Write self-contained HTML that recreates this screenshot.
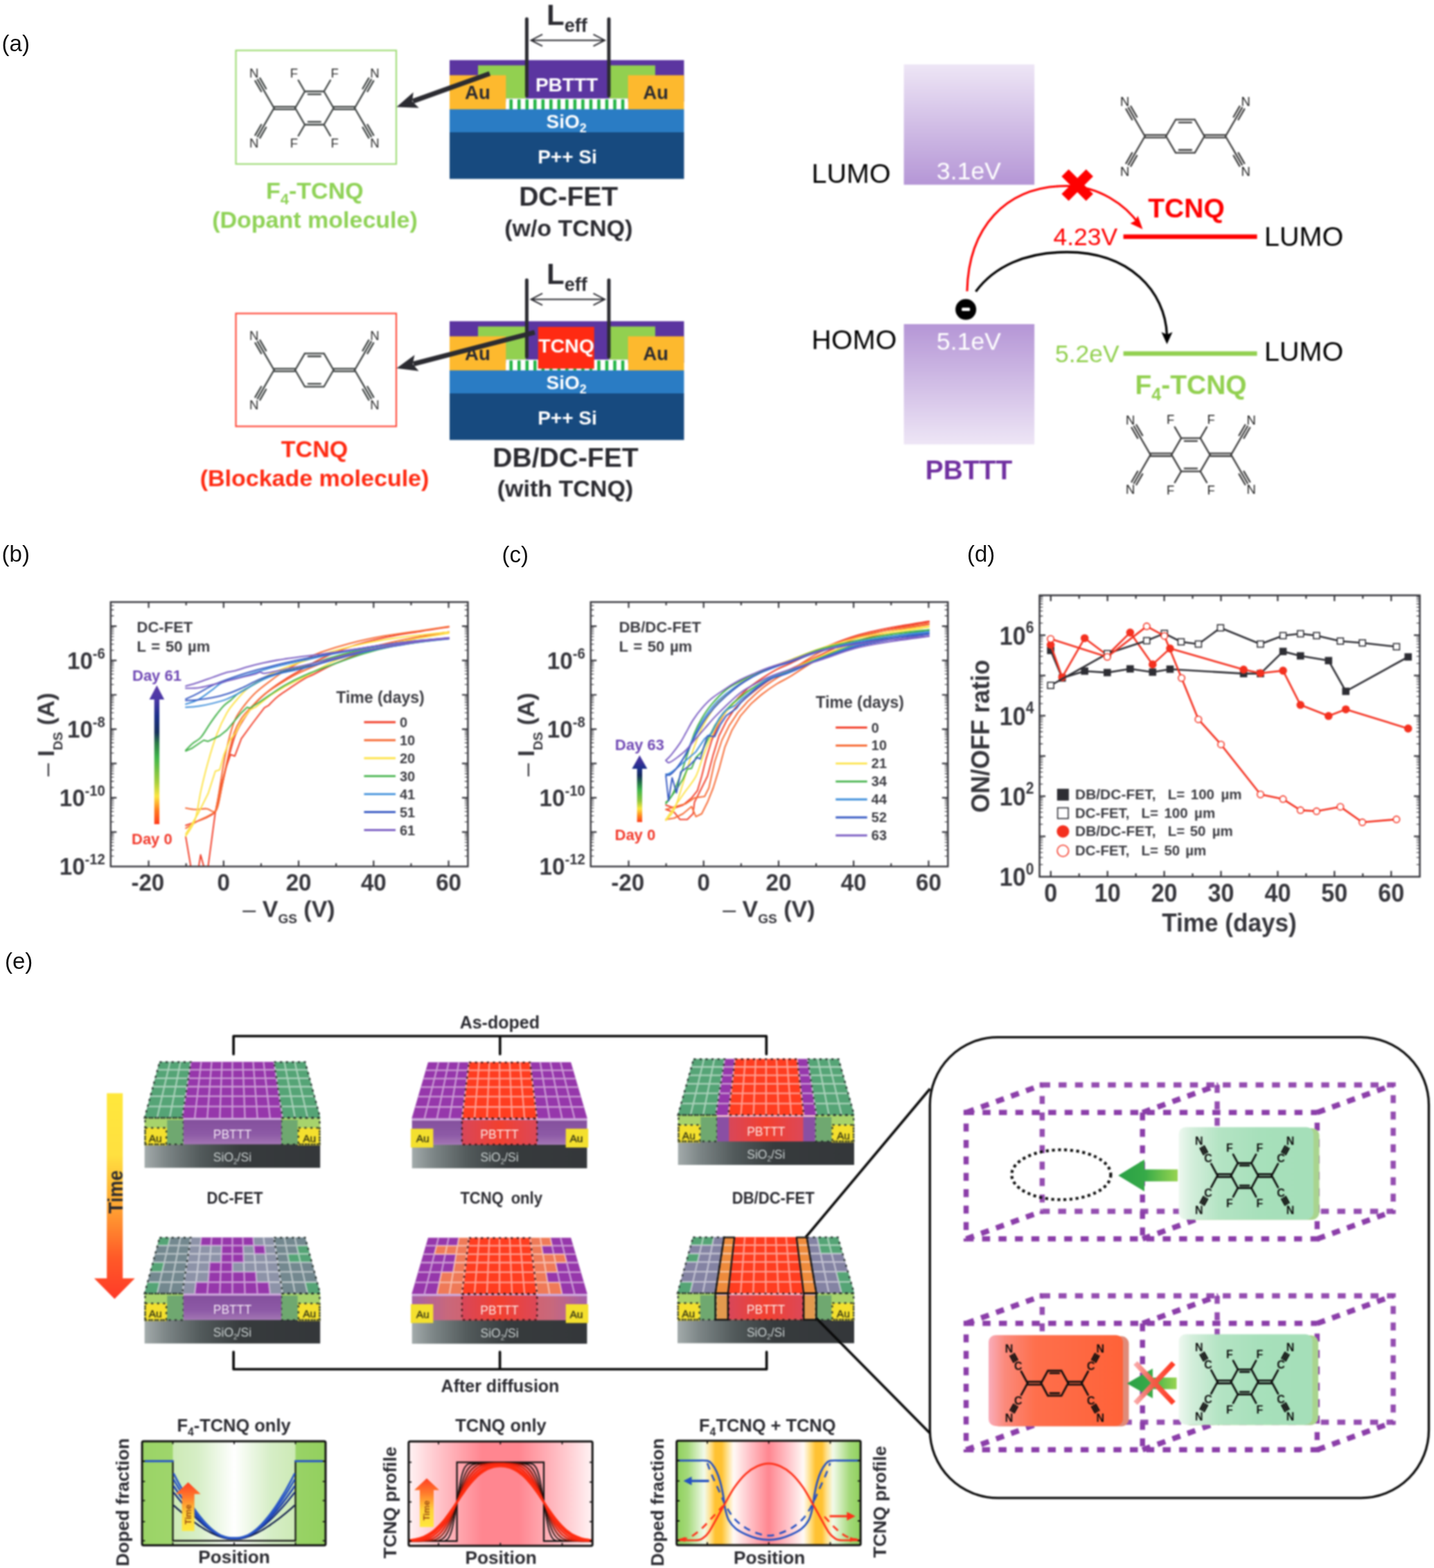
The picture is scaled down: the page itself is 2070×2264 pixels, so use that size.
<!DOCTYPE html>
<html lang="en"><head><meta charset="utf-8"><title>Figure</title>
<style>
html,body{margin:0;padding:0;background:#fff;width:2070px;height:2264px;overflow:hidden}
svg{display:block}
text{font-family:"Liberation Sans", sans-serif}
</style></head><body>
<svg width="2070" height="2264" viewBox="0 0 2070 2264">
<rect width="2070" height="2264" fill="#fff"/>
<defs><filter id="sa" x="0" y="0" width="2070" height="2264" filterUnits="userSpaceOnUse" color-interpolation-filters="sRGB"><feGaussianBlur stdDeviation="0.9"/></filter><filter id="sb" x="0" y="0" width="2070" height="2264" filterUnits="userSpaceOnUse" color-interpolation-filters="sRGB"><feGaussianBlur stdDeviation="0.9"/></filter><filter id="se" x="0" y="0" width="2070" height="2264" filterUnits="userSpaceOnUse" color-interpolation-filters="sRGB"><feGaussianBlur stdDeviation="0.9"/></filter><filter id="sf" x="0" y="0" width="2070" height="2264" filterUnits="userSpaceOnUse" color-interpolation-filters="sRGB"><feGaussianBlur stdDeviation="0.9"/></filter></defs>
<g filter="url(#sa)">
<g id="panel-a">
<rect x="649" y="86.8" width="338.4" height="60" fill="#5b35a0"/>
<rect x="690" y="94.4" width="69" height="48" fill="#92d050"/>
<rect x="879.4" y="94.4" width="66.4" height="48" fill="#92d050"/>
<rect x="649" y="108.6" width="81.3" height="49.4" fill="#fdb92e"/>
<rect x="906.5" y="108.6" width="80.9" height="49.4" fill="#fdb92e"/>
<rect x="730.3" y="142.2" width="176.2" height="16" fill="#ffffff"/>
<path d="M737.7 143.6V158.2M749.22 143.6V158.2M760.74 143.6V158.2M772.26 143.6V158.2M783.78 143.6V158.2M795.3 143.6V158.2M806.82 143.6V158.2M818.34 143.6V158.2M829.86 143.6V158.2M841.38 143.6V158.2M852.9 143.6V158.2M864.42 143.6V158.2M875.94 143.6V158.2M887.46 143.6V158.2M898.98 143.6V158.2" stroke="#22b444" stroke-width="4.5" fill="none"/>
<rect x="649" y="157.8" width="338.4" height="33.4" fill="#2a7cc4"/>
<rect x="649" y="191" width="338.4" height="67.3" fill="#174a7f"/>
<text x="818" y="131.7" font-size="28" fill="#fff" font-weight="bold" text-anchor="middle">PBTTT</text>
<text x="689.4" y="143.2" font-size="27.5" fill="#2b2b31" font-weight="bold" text-anchor="middle">Au</text>
<text x="946.6" y="143.2" font-size="27.5" fill="#2b2b31" font-weight="bold" text-anchor="middle">Au</text>
<text x="788.5" y="185.4" font-size="28" fill="#fff" font-weight="bold">SiO<tspan font-size="18" dy="6">2</tspan></text>
<text x="819" y="235.5" font-size="28" fill="#fff" font-weight="bold" text-anchor="middle">P++ Si</text>
<line x1="760.4" y1="27.5" x2="760.4" y2="138" stroke="#2b2b31" stroke-width="5" stroke-linecap="round"/>
<line x1="878.9" y1="27.5" x2="878.9" y2="138" stroke="#2b2b31" stroke-width="5" stroke-linecap="round"/>
<path d="M766.5 58.2H873M783 49.7L766.5 58.2L783 66.7M856.5 49.7L873 58.2L856.5 66.7" fill="none" stroke="#2b2b31" stroke-width="1.9"/>
<text x="789" y="35.8" font-size="42" fill="#2b2b31" font-weight="bold">L<tspan font-size="27" dy="9.8">eff</tspan></text>
<rect x="649" y="463.8" width="338.4" height="60" fill="#5b35a0"/>
<rect x="690" y="471.4" width="69" height="48" fill="#92d050"/>
<rect x="879.4" y="471.4" width="66.4" height="48" fill="#92d050"/>
<rect x="649" y="485.6" width="81.3" height="49.4" fill="#fdb92e"/>
<rect x="906.5" y="485.6" width="80.9" height="49.4" fill="#fdb92e"/>
<rect x="730.3" y="519.2" width="176.2" height="16" fill="#ffffff"/>
<path d="M737.7 520.6V535.2M749.22 520.6V535.2M760.74 520.6V535.2M772.26 520.6V535.2M783.78 520.6V535.2M795.3 520.6V535.2M806.82 520.6V535.2M818.34 520.6V535.2M829.86 520.6V535.2M841.38 520.6V535.2M852.9 520.6V535.2M864.42 520.6V535.2M875.94 520.6V535.2M887.46 520.6V535.2M898.98 520.6V535.2" stroke="#22b444" stroke-width="4.5" fill="none"/>
<rect x="649" y="534.8" width="338.4" height="33.4" fill="#2a7cc4"/>
<rect x="649" y="568" width="338.4" height="67.3" fill="#174a7f"/>
<rect x="776.7" y="472" width="81" height="60.3" fill="#ff2a12"/>
<text x="817.5" y="508.8" font-size="28.5" fill="#fff" font-weight="bold" text-anchor="middle">TCNQ</text>
<text x="689.4" y="520.2" font-size="27.5" fill="#2b2b31" font-weight="bold" text-anchor="middle">Au</text>
<text x="946.6" y="520.2" font-size="27.5" fill="#2b2b31" font-weight="bold" text-anchor="middle">Au</text>
<text x="788.5" y="562.4" font-size="28" fill="#fff" font-weight="bold">SiO<tspan font-size="18" dy="6">2</tspan></text>
<text x="819" y="612.5" font-size="28" fill="#fff" font-weight="bold" text-anchor="middle">P++ Si</text>
<line x1="760.4" y1="404.5" x2="760.4" y2="515" stroke="#2b2b31" stroke-width="5" stroke-linecap="round"/>
<line x1="878.9" y1="404.5" x2="878.9" y2="515" stroke="#2b2b31" stroke-width="5" stroke-linecap="round"/>
<path d="M766.5 432.2H873M783 423.7L766.5 432.2L783 440.7M856.5 423.7L873 432.2L856.5 440.7" fill="none" stroke="#2b2b31" stroke-width="1.9"/>
<text x="789" y="409.8" font-size="42" fill="#2b2b31" font-weight="bold">L<tspan font-size="27" dy="9.8">eff</tspan></text>
<text x="820.7" y="297.3" font-size="39" fill="#2b2b31" font-weight="bold" text-anchor="middle">DC-FET</text>
<text x="820.7" y="341" font-size="34" fill="#2b2b31" font-weight="bold" text-anchor="middle">(w/o TCNQ)</text>
<text x="816.4" y="673.9" font-size="39" fill="#2b2b31" font-weight="bold" text-anchor="middle">DB/DC-FET</text>
<text x="816" y="717.3" font-size="34" fill="#2b2b31" font-weight="bold" text-anchor="middle">(with TCNQ)</text>
<rect x="340.5" y="72.8" width="231.5" height="164" fill="#fff" stroke="#a0dc78" stroke-width="2.2"/>
<rect x="340.5" y="452.6" width="231.5" height="163" fill="#fff" stroke="#ff4a3a" stroke-width="2.2"/>
<g fill="none" stroke="#3a3f3e" stroke-width="2.3" stroke-linecap="round"><path d="M481.5 156L467.65 179.99M467.65 179.99L439.95 179.99M439.95 179.99L426.1 156M426.1 156L439.95 132.01M439.95 132.01L467.65 132.01M467.65 132.01L481.5 156M444.71 136.21L462.89 136.21M444.71 175.79L462.89 175.79M481.5 154.1L512 154.1M482.5 157.9L512 157.9M512 156L535.75 197.14M530.46 179.99L539.21 195.14M523.54 183.98L532.29 199.13M512 156L535.75 114.86M523.54 128.02L532.29 112.87M530.46 132.01L539.21 116.86M467.65 179.99L476.9 196.01M467.65 132.01L476.9 115.99M426.1 154.1L395.6 154.1M425.1 157.9L395.6 157.9M395.6 156L371.85 197.14M384.06 183.98L375.31 199.13M377.14 179.99L368.39 195.14M395.6 156L371.85 114.86M377.14 132.01L368.39 116.86M384.06 128.02L375.31 112.87M439.95 179.99L430.7 196.01M439.95 132.01L430.7 115.99"/></g><g font-size="18.5" fill="#2a2a2a" text-anchor="middle"><text x="541" y="212.85">N</text><text x="541" y="112.39">N</text><text x="483.15" y="213.46">F</text><text x="483.15" y="111.79">F</text><text x="366.6" y="212.85">N</text><text x="366.6" y="112.39">N</text><text x="424.45" y="213.46">F</text><text x="424.45" y="111.79">F</text></g>
<g fill="none" stroke="#3a3f3e" stroke-width="2.3" stroke-linecap="round"><path d="M481.5 534.3L467.65 558.29M467.65 558.29L439.95 558.29M439.95 558.29L426.1 534.3M426.1 534.3L439.95 510.31M439.95 510.31L467.65 510.31M467.65 510.31L481.5 534.3M444.71 514.51L462.89 514.51M444.71 554.09L462.89 554.09M481.5 532.4L512 532.4M482.5 536.2L512 536.2M512 534.3L535.75 575.44M530.46 558.29L539.21 573.44M523.54 562.28L532.29 577.43M512 534.3L535.75 493.16M523.54 506.32L532.29 491.17M530.46 510.31L539.21 495.16M426.1 532.4L395.6 532.4M425.1 536.2L395.6 536.2M395.6 534.3L371.85 575.44M384.06 562.28L375.31 577.43M377.14 558.29L368.39 573.44M395.6 534.3L371.85 493.16M377.14 510.31L368.39 495.16M384.06 506.32L375.31 491.17"/></g><g font-size="18.5" fill="#2a2a2a" text-anchor="middle"><text x="541" y="591.15">N</text><text x="541" y="490.69">N</text><text x="366.6" y="591.15">N</text><text x="366.6" y="490.69">N</text></g>
<text x="384" y="287" font-size="34" fill="#8fd257" font-weight="bold">F<tspan font-size="22" dy="8">4</tspan><tspan dy="-8">-TCNQ</tspan></text>
<text x="454.5" y="329" font-size="34" fill="#8fd257" font-weight="bold" text-anchor="middle">(Dopant molecule)</text>
<text x="454" y="659.5" font-size="34" fill="#ff2a12" font-weight="bold" text-anchor="middle">TCNQ</text>
<text x="454" y="702" font-size="34" fill="#ff2a12" font-weight="bold" text-anchor="middle">(Blockade molecule)</text>
<line x1="706.9" y1="106.3" x2="596.03" y2="146.15" stroke="#2b2b31" stroke-width="7"/><path d="M572.5 154.6L596.67 133.16L595.09 146.48L604.79 155.75Z" fill="#2b2b31"/>
<line x1="771.9" y1="479.8" x2="596.69" y2="525.49" stroke="#2b2b31" stroke-width="7"/><path d="M572.5 531.8L598.5 512.62L595.72 525.74L604.56 535.84Z" fill="#2b2b31"/>
</g>
<g id="energy">
<defs><linearGradient id="gpu" x1="0" y1="0" x2="0" y2="1"><stop offset="0" stop-color="#eee6f6"/><stop offset="1" stop-color="#b596d6"/></linearGradient><linearGradient id="gpd" x1="0" y1="0" x2="0" y2="1"><stop offset="0" stop-color="#b596d6"/><stop offset="1" stop-color="#eee6f6"/></linearGradient></defs>
<rect x="1304.7" y="93" width="188.5" height="173.7" fill="url(#gpu)"/>
<rect x="1304.7" y="468" width="188.5" height="173.7" fill="url(#gpd)"/>
<text x="1171.5" y="264.2" font-size="39.5" fill="#000">LUMO</text>
<text x="1171.5" y="503.6" font-size="39.5" fill="#000">HOMO</text>
<text x="1398.5" y="258.9" font-size="35.5" fill="#fff" text-anchor="middle">3.1eV</text>
<text x="1398.5" y="504.8" font-size="35.5" fill="#fff" text-anchor="middle">5.1eV</text>
<text x="1398.6" y="692" font-size="39" fill="#7030a0" font-weight="bold" text-anchor="middle">PBTTT</text>
<path d="M1396 420.5C1398 330 1450 268.5 1540 268.5C1585 268.5 1625 295 1645 325" fill="none" stroke="#ff0000" stroke-width="3.1"/>
<path d="M1649.5 331L1631.5 322.5L1638.5 319L1642.5 311.5Z" fill="#ff0000"/>
<path d="M1408.5 421C1435 385 1480 364 1540 364C1630 364 1682 420 1684.5 484" fill="none" stroke="#000" stroke-width="3.3"/>
<path d="M1684.5 497L1676.5 479.5L1684.5 483L1692.5 479.5Z" fill="#000"/>
<g transform="translate(1555.2 267.3) rotate(45)" fill="#ff0000"><rect x="-25" y="-7.2" width="50" height="14.4"/><rect x="-7.2" y="-25" width="14.4" height="50"/></g>
<circle cx="1394.2" cy="446.8" r="15" fill="#000"/><rect x="1388.2" y="444.3" width="12" height="4.6" rx="1.5" fill="#fff"/>
<line x1="1621.6" y1="341.7" x2="1814.6" y2="341.7" stroke="#ff0000" stroke-width="6.5"/>
<line x1="1621.6" y1="510.5" x2="1814.6" y2="510.5" stroke="#92d050" stroke-width="6.5"/>
<text x="1520.5" y="354.2" font-size="35.5" fill="#ff0000">4.23V</text>
<text x="1523" y="523.2" font-size="35.5" fill="#92d050">5.2eV</text>
<text x="1825" y="355.2" font-size="39.5" fill="#000">LUMO</text>
<text x="1825" y="521.2" font-size="39.5" fill="#000">LUMO</text>
<text x="1712.5" y="314.2" font-size="39" fill="#ff0000" font-weight="bold" text-anchor="middle">TCNQ</text>
<text x="1638.5" y="568.5" font-size="39" fill="#92d050" font-weight="bold">F<tspan font-size="25" dy="9">4</tspan><tspan dy="-9">-TCNQ</tspan></text>
<g fill="none" stroke="#3a3a3a" stroke-width="2.3" stroke-linecap="round"><path d="M1738.6 196.7L1724.75 220.69M1724.75 220.69L1697.05 220.69M1697.05 220.69L1683.2 196.7M1683.2 196.7L1697.05 172.71M1697.05 172.71L1724.75 172.71M1724.75 172.71L1738.6 196.7M1701.81 176.91L1719.99 176.91M1701.81 216.49L1719.99 216.49M1738.6 194.8L1769.1 194.8M1739.6 198.6L1769.1 198.6M1769.1 196.7L1792.85 237.84M1787.56 220.69L1796.31 235.84M1780.64 224.68L1789.39 239.83M1769.1 196.7L1792.85 155.56M1780.64 168.72L1789.39 153.57M1787.56 172.71L1796.31 157.56M1683.2 194.8L1652.7 194.8M1682.2 198.6L1652.7 198.6M1652.7 196.7L1628.95 237.84M1641.16 224.68L1632.41 239.83M1634.24 220.69L1625.49 235.84M1652.7 196.7L1628.95 155.56M1634.24 172.71L1625.49 157.56M1641.16 168.72L1632.41 153.57"/></g><g font-size="18.5" fill="#1a1a1a" text-anchor="middle"><text x="1798.1" y="253.55">N</text><text x="1798.1" y="153.09">N</text><text x="1623.7" y="253.55">N</text><text x="1623.7" y="153.09">N</text></g>
<g fill="none" stroke="#3a3a3a" stroke-width="2.3" stroke-linecap="round"><path d="M1746.6 656.6L1732.75 680.59M1732.75 680.59L1705.05 680.59M1705.05 680.59L1691.2 656.6M1691.2 656.6L1705.05 632.61M1705.05 632.61L1732.75 632.61M1732.75 632.61L1746.6 656.6M1709.81 636.81L1727.99 636.81M1709.81 676.39L1727.99 676.39M1746.6 654.7L1777.1 654.7M1747.6 658.5L1777.1 658.5M1777.1 656.6L1800.85 697.74M1795.56 680.59L1804.31 695.74M1788.64 684.58L1797.39 699.73M1777.1 656.6L1800.85 615.46M1788.64 628.62L1797.39 613.47M1795.56 632.61L1804.31 617.46M1732.75 680.59L1742 696.61M1732.75 632.61L1742 616.59M1691.2 654.7L1660.7 654.7M1690.2 658.5L1660.7 658.5M1660.7 656.6L1636.95 697.74M1649.16 684.58L1640.41 699.73M1642.24 680.59L1633.49 695.74M1660.7 656.6L1636.95 615.46M1642.24 632.61L1633.49 617.46M1649.16 628.62L1640.41 613.47M1705.05 680.59L1695.8 696.61M1705.05 632.61L1695.8 616.59"/></g><g font-size="18.5" fill="#1a1a1a" text-anchor="middle"><text x="1806.1" y="713.45">N</text><text x="1806.1" y="612.99">N</text><text x="1748.25" y="714.06">F</text><text x="1748.25" y="612.39">F</text><text x="1631.7" y="713.45">N</text><text x="1631.7" y="612.99">N</text><text x="1689.55" y="714.06">F</text><text x="1689.55" y="612.39">F</text></g>
</g>
</g>
<g filter="url(#sb)">
<g id="plotb">
<rect x="159.8" y="869.3" width="515.6" height="381.8" fill="#fff" stroke="#36363c" stroke-width="2.4"/>
<path d="M214.55 1251.1v-8.5M214.55 869.3v8.5M322.8 1251.1v-8.5M322.8 869.3v8.5M431.05 1251.1v-8.5M431.05 869.3v8.5M539.3 1251.1v-8.5M539.3 869.3v8.5M647.55 1251.1v-8.5M647.55 869.3v8.5M268.68 1251.1v-4.6M268.68 869.3v4.6M376.93 1251.1v-4.6M376.93 869.3v4.6M485.18 1251.1v-4.6M485.18 869.3v4.6M593.42 1251.1v-4.6M593.42 869.3v4.6M159.8 1201.45h8.5M675.4 1201.45h-8.5M159.8 1151.9h8.5M675.4 1151.9h-8.5M159.8 1102.35h8.5M675.4 1102.35h-8.5M159.8 1052.8h8.5M675.4 1052.8h-8.5M159.8 1003.25h8.5M675.4 1003.25h-8.5M159.8 953.7h8.5M675.4 953.7h-8.5M159.8 904.15h8.5M675.4 904.15h-8.5" stroke="#36363c" stroke-width="2.16" fill="none"/>
<path d="M159.8 1236.08h4.6M675.4 1236.08h-4.6M159.8 1227.36h4.6M675.4 1227.36h-4.6M159.8 1221.17h4.6M675.4 1221.17h-4.6M159.8 1216.37h4.6M675.4 1216.37h-4.6M159.8 1212.44h4.6M675.4 1212.44h-4.6M159.8 1209.13h4.6M675.4 1209.13h-4.6M159.8 1206.25h4.6M675.4 1206.25h-4.6M159.8 1203.72h4.6M675.4 1203.72h-4.6M159.8 1186.53h4.6M675.4 1186.53h-4.6M159.8 1177.81h4.6M675.4 1177.81h-4.6M159.8 1171.62h4.6M675.4 1171.62h-4.6M159.8 1166.82h4.6M675.4 1166.82h-4.6M159.8 1162.89h4.6M675.4 1162.89h-4.6M159.8 1159.58h4.6M675.4 1159.58h-4.6M159.8 1156.7h4.6M675.4 1156.7h-4.6M159.8 1154.17h4.6M675.4 1154.17h-4.6M159.8 1136.98h4.6M675.4 1136.98h-4.6M159.8 1128.26h4.6M675.4 1128.26h-4.6M159.8 1122.07h4.6M675.4 1122.07h-4.6M159.8 1117.27h4.6M675.4 1117.27h-4.6M159.8 1113.34h4.6M675.4 1113.34h-4.6M159.8 1110.03h4.6M675.4 1110.03h-4.6M159.8 1107.15h4.6M675.4 1107.15h-4.6M159.8 1104.62h4.6M675.4 1104.62h-4.6M159.8 1087.43h4.6M675.4 1087.43h-4.6M159.8 1078.71h4.6M675.4 1078.71h-4.6M159.8 1072.52h4.6M675.4 1072.52h-4.6M159.8 1067.72h4.6M675.4 1067.72h-4.6M159.8 1063.79h4.6M675.4 1063.79h-4.6M159.8 1060.48h4.6M675.4 1060.48h-4.6M159.8 1057.6h4.6M675.4 1057.6h-4.6M159.8 1055.07h4.6M675.4 1055.07h-4.6M159.8 1037.88h4.6M675.4 1037.88h-4.6M159.8 1029.16h4.6M675.4 1029.16h-4.6M159.8 1022.97h4.6M675.4 1022.97h-4.6M159.8 1018.17h4.6M675.4 1018.17h-4.6M159.8 1014.24h4.6M675.4 1014.24h-4.6M159.8 1010.93h4.6M675.4 1010.93h-4.6M159.8 1008.05h4.6M675.4 1008.05h-4.6M159.8 1005.52h4.6M675.4 1005.52h-4.6M159.8 988.33h4.6M675.4 988.33h-4.6M159.8 979.61h4.6M675.4 979.61h-4.6M159.8 973.42h4.6M675.4 973.42h-4.6M159.8 968.62h4.6M675.4 968.62h-4.6M159.8 964.69h4.6M675.4 964.69h-4.6M159.8 961.38h4.6M675.4 961.38h-4.6M159.8 958.5h4.6M675.4 958.5h-4.6M159.8 955.97h4.6M675.4 955.97h-4.6M159.8 938.78h4.6M675.4 938.78h-4.6M159.8 930.06h4.6M675.4 930.06h-4.6M159.8 923.87h4.6M675.4 923.87h-4.6M159.8 919.07h4.6M675.4 919.07h-4.6M159.8 915.14h4.6M675.4 915.14h-4.6M159.8 911.83h4.6M675.4 911.83h-4.6M159.8 908.95h4.6M675.4 908.95h-4.6M159.8 906.42h4.6M675.4 906.42h-4.6M159.8 889.23h4.6M675.4 889.23h-4.6M159.8 880.51h4.6M675.4 880.51h-4.6M159.8 874.32h4.6M675.4 874.32h-4.6" stroke="#36363c" stroke-width="1.3" fill="none" opacity="0.9"/>
<clipPath id="clipplotb"><rect x="160.8" y="870.3" width="513.6" height="379.8"/></clipPath>
<g clip-path="url(#clipplotb)" fill="none" stroke-width="2.05" stroke-linejoin="round" stroke-linecap="round">
<path d="M268.12 1191.67C271.08 1190.62 280.1 1187.67 285.83 1185.42C291.56 1183.16 297.99 1181.08 302.5 1178.12C307.01 1175.17 309.79 1175.52 312.92 1167.71C316.04 1159.9 318.47 1143.23 321.25 1131.25C324.03 1119.27 326.46 1107.64 329.58 1095.83C332.71 1084.03 336.18 1070.14 340 1060.42C343.82 1050.69 347.64 1045.14 352.5 1037.5C357.36 1029.86 362.92 1021.53 369.17 1014.58C375.42 1007.64 383.06 1001.39 390 995.83C396.94 990.28 402.5 986.53 410.83 981.25C419.17 975.97 431.39 969.1 440 964.17C448.61 959.24 451.81 956.67 462.5 951.67C473.19 946.67 488.89 939.31 504.17 934.17C519.44 929.03 536.81 924.62 554.17 920.83C571.53 917.05 592.71 914.06 608.33 911.46C623.96 908.85 641.32 906.25 647.92 905.21" stroke="#f2412c"/>
<path d="M268.12 1208.33L275.42 1251.04L283.75 1277.08L286.88 1251.04L289.58 1234.38L294.17 1251.04L297.29 1266.67L300.42 1251.04L306.67 1204.17L310.83 1172.92L317.08 1141.67L325.42 1110.42L332.71 1089.58L338.96 1091.67L348.33 1066.67L365 1043.75L381.67 1021.88L387.92 1018.33 M387.92 1018.33C390 1016.32 394.86 1010.69 400.42 1006.25C405.97 1001.81 414.65 996.11 421.25 991.67C427.85 987.22 434.86 982.53 440 979.58C445.14 976.63 444.86 977.5 452.08 973.96C459.31 970.42 471.18 963.72 483.33 958.33C495.49 952.95 511.11 946.18 525 941.67C538.89 937.15 552.78 934.9 566.67 931.25C580.56 927.6 594.79 922.92 608.33 919.79C621.88 916.67 641.32 913.72 647.92 912.5" stroke="#f2412c"/>
<path d="M268.12 1166.67C270.38 1167.01 276.63 1168.58 281.67 1168.75C286.7 1168.92 293.82 1167.19 298.33 1167.71C302.85 1168.23 306.32 1172.74 308.75 1171.88C311.18 1171.01 310.49 1174.48 312.92 1162.5C315.35 1150.52 320.21 1116.67 323.33 1100C326.46 1083.33 328.89 1072.92 331.67 1062.5C334.44 1052.08 336.53 1044.79 340 1037.5C343.47 1030.21 347.64 1025 352.5 1018.75C357.36 1012.5 362.92 1005.9 369.17 1000C375.42 994.1 383.06 988.54 390 983.33C396.94 978.12 402.5 973.89 410.83 968.75C419.17 963.61 431.39 956.94 440 952.5C448.61 948.06 451.81 945.97 462.5 942.08C473.19 938.19 488.89 933.12 504.17 929.17C519.44 925.21 536.81 921.46 554.17 918.33C571.53 915.21 592.71 912.71 608.33 910.42C623.96 908.12 641.32 905.56 647.92 904.58" stroke="#f76b35"/>
<path d="M268.12 1195.83C271.08 1194.1 280.1 1188.54 285.83 1185.42C291.56 1182.29 297.99 1179.86 302.5 1177.08C307.01 1174.31 310.14 1174.65 312.92 1168.75C315.69 1162.85 316.74 1153.12 319.17 1141.67C321.6 1130.21 324.38 1113.89 327.5 1100C330.62 1086.11 334.44 1068.75 337.92 1058.33C341.39 1047.92 344.51 1043.4 348.33 1037.5C352.15 1031.6 355.63 1028.47 360.83 1022.92C366.04 1017.36 372.99 1009.72 379.58 1004.17C386.18 998.61 393.47 994.1 400.42 989.58C407.36 985.07 414.65 980.73 421.25 977.08C427.85 973.44 429.65 972.22 440 967.71C450.35 963.19 469.17 955.03 483.33 950C497.5 944.97 511.11 941.32 525 937.5C538.89 933.68 552.78 930.21 566.67 927.08C580.56 923.96 594.79 921.18 608.33 918.75C621.88 916.32 641.32 913.54 647.92 912.5" stroke="#f76b35"/>
<path d="M268.12 1207.29C270.38 1203.3 278.02 1194.27 281.67 1183.33C285.31 1172.4 286.88 1155.56 290 1141.67C293.12 1127.78 296.6 1113.54 300.42 1100C304.24 1086.46 308.4 1072.22 312.92 1060.42C317.43 1048.61 322.99 1037.15 327.5 1029.17C332.01 1021.18 335.14 1018.23 340 1012.5C344.86 1006.77 350.07 1000.35 356.67 994.79C363.26 989.24 372.29 983.51 379.58 979.17C386.88 974.83 393.47 971.88 400.42 968.75C407.36 965.62 414.65 962.85 421.25 960.42C427.85 957.99 429.65 957.64 440 954.17C450.35 950.69 469.17 943.75 483.33 939.58C497.5 935.42 511.11 932.12 525 929.17C538.89 926.22 552.78 923.96 566.67 921.88C580.56 919.79 594.79 918.23 608.33 916.67C621.88 915.1 641.32 913.19 647.92 912.5" stroke="#fde34a"/>
<path d="M268.12 1204.17L285.83 1175L300.42 1145.83L310.83 1113.54L317.08 1111.46L323.33 1089.58L331.67 1068.75L340 1058.33L348.33 1041.67L360.83 1025L369.17 1020.83L390 1004.17 M390 1004.17C393.47 1002.08 402.5 996.18 410.83 991.67C419.17 987.15 427.92 983.33 440 977.08C452.08 970.83 469.17 960.59 483.33 954.17C497.5 947.74 511.11 942.71 525 938.54C538.89 934.38 552.78 932.12 566.67 929.17C580.56 926.22 594.79 923.33 608.33 920.83C621.88 918.33 641.32 915.28 647.92 914.17" stroke="#fde34a"/>
<path d="M268.12 1083.33C269.69 1081.77 273.85 1077.08 277.5 1073.96C281.15 1070.83 285.83 1069.27 290 1064.58C294.17 1059.9 298.68 1051.39 302.5 1045.83C306.32 1040.28 309.44 1035.76 312.92 1031.25C316.39 1026.74 319.86 1022.22 323.33 1018.75C326.81 1015.28 330.28 1013.37 333.75 1010.42C337.22 1007.47 340.35 1003.82 344.17 1001.04C347.99 998.26 350.76 997.05 356.67 993.75C362.57 990.45 372.29 984.9 379.58 981.25C386.88 977.6 393.47 974.48 400.42 971.88C407.36 969.27 414.65 967.36 421.25 965.62C427.85 963.89 429.65 964.41 440 961.46C450.35 958.51 469.17 951.91 483.33 947.92C497.5 943.92 511.11 940.45 525 937.5C538.89 934.55 552.78 932.29 566.67 930.21C580.56 928.12 594.79 926.49 608.33 925C621.88 923.51 641.32 921.88 647.92 921.25" stroke="#45b34c"/>
<path d="M268.12 1084.38L277.5 1080.21L294.17 1068.75L300.42 1070.42L317.08 1062.5L327.5 1054.17L337.92 1041.67L348.33 1029.17L356.67 1021.25L360.83 1022.5L373.33 1014.58L390 1003.12 M390 1003.12C393.47 1000.87 402.5 994.27 410.83 989.58C419.17 984.9 427.92 980.21 440 975C452.08 969.79 469.17 963.54 483.33 958.33C497.5 953.12 511.11 947.92 525 943.75C538.89 939.58 552.78 936.18 566.67 933.33C580.56 930.49 594.79 928.58 608.33 926.67C621.88 924.76 641.32 922.67 647.92 921.88" stroke="#45b34c"/>
<path d="M268.12 1016.67C271.08 1015.63 279.41 1013.89 285.83 1010.42C292.26 1006.94 301.46 999.65 306.67 995.83C311.88 992.01 313.61 989.58 317.08 987.5C320.56 985.42 322.29 985.07 327.5 983.33C332.71 981.6 341.39 979.17 348.33 977.08C355.28 975 362.22 972.92 369.17 970.83C376.11 968.75 383.06 966.49 390 964.58C396.94 962.67 402.5 961.28 410.83 959.38C419.17 957.47 427.92 955.73 440 953.12C452.08 950.52 469.17 946.53 483.33 943.75C497.5 940.97 511.11 938.72 525 936.46C538.89 934.2 552.78 932.05 566.67 930.21C580.56 928.37 594.79 926.81 608.33 925.42C621.88 924.03 641.32 922.47 647.92 921.88" stroke="#3f8fdb"/>
<path d="M268.12 1021.25C271.08 1021.01 279.41 1020.73 285.83 1019.79C292.26 1018.85 299.72 1017.36 306.67 1015.62C313.61 1013.89 320.56 1012.15 327.5 1009.38C334.44 1006.6 341.39 1002.78 348.33 998.96C355.28 995.14 362.22 990.1 369.17 986.46C376.11 982.81 383.06 979.69 390 977.08C396.94 974.48 402.5 972.92 410.83 970.83C419.17 968.75 427.92 967.71 440 964.58C452.08 961.46 469.17 955.9 483.33 952.08C497.5 948.26 511.11 944.79 525 941.67C538.89 938.54 552.78 935.83 566.67 933.33C580.56 930.83 594.79 928.47 608.33 926.67C621.88 924.86 641.32 923.19 647.92 922.5" stroke="#3f8fdb"/>
<path d="M268.12 1009.38C271.08 1007.99 279.41 1004.34 285.83 1001.04C292.26 997.74 299.72 992.88 306.67 989.58C313.61 986.28 320.56 983.85 327.5 981.25C334.44 978.65 341.39 976.22 348.33 973.96C355.28 971.7 362.22 969.62 369.17 967.71C376.11 965.8 383.06 964.24 390 962.5C396.94 960.76 402.5 959.2 410.83 957.29C419.17 955.38 427.92 953.47 440 951.04C452.08 948.61 469.17 945.31 483.33 942.71C497.5 940.1 511.11 937.67 525 935.42C538.89 933.16 552.78 930.97 566.67 929.17C580.56 927.36 594.79 925.9 608.33 924.58C621.88 923.26 641.32 921.81 647.92 921.25" stroke="#3a5cc4"/>
<path d="M268.12 1011.46C271.08 1011.28 279.41 1011.11 285.83 1010.42C292.26 1009.72 299.72 1008.68 306.67 1007.29C313.61 1005.9 320.56 1004.34 327.5 1002.08C334.44 999.83 341.39 996.88 348.33 993.75C355.28 990.62 362.22 986.46 369.17 983.33C376.11 980.21 383.06 977.26 390 975C396.94 972.74 402.5 971.7 410.83 969.79C419.17 967.88 427.92 966.49 440 963.54C452.08 960.59 469.17 955.9 483.33 952.08C497.5 948.26 511.11 943.82 525 940.62C538.89 937.43 552.78 935.31 566.67 932.92C580.56 930.52 594.79 928.06 608.33 926.25C621.88 924.44 641.32 922.78 647.92 922.08" stroke="#3a5cc4"/>
<path d="M268.12 990.62C271.08 989.76 279.41 987.5 285.83 985.42C292.26 983.33 299.72 980.56 306.67 978.12C313.61 975.69 322.29 972.4 327.5 970.83C332.71 969.27 332.71 970.14 337.92 968.75C343.12 967.36 351.81 964.41 358.75 962.5C365.69 960.59 372.64 958.85 379.58 957.29C386.53 955.73 393.47 954.34 400.42 953.12C407.36 951.91 414.65 950.94 421.25 950C427.85 949.06 429.65 948.89 440 947.5C450.35 946.11 469.17 943.68 483.33 941.67C497.5 939.65 511.11 937.5 525 935.42C538.89 933.33 552.78 930.97 566.67 929.17C580.56 927.36 594.79 925.97 608.33 924.58C621.88 923.19 641.32 921.46 647.92 920.83" stroke="#7d60c4"/>
<path d="M268.12 993.75C271.08 993.68 279.41 994.2 285.83 993.33C292.26 992.47 299.72 990.21 306.67 988.54C313.61 986.88 320.56 985.07 327.5 983.33C334.44 981.6 341.39 979.86 348.33 978.12C355.28 976.39 364.65 974.2 369.17 972.92C373.68 971.63 373.33 970.52 375.42 970.42C377.5 970.31 377.5 972.57 381.67 972.29C385.83 972.01 393.82 970.03 400.42 968.75C407.01 967.47 414.65 965.97 421.25 964.58C427.85 963.19 429.65 962.85 440 960.42C450.35 957.99 469.17 953.47 483.33 950C497.5 946.53 511.11 942.53 525 939.58C538.89 936.63 552.78 934.55 566.67 932.29C580.56 930.03 594.79 927.78 608.33 926.04C621.88 924.31 641.32 922.57 647.92 921.88" stroke="#7d60c4"/>
</g>
<text transform="translate(151.8 966) scale(0.92 1)" font-size="36" font-weight="bold" fill="#36363c" text-anchor="end">10<tspan font-size="22" dy="-15.5">-6</tspan></text>
<text transform="translate(151.8 1065.1) scale(0.92 1)" font-size="36" font-weight="bold" fill="#36363c" text-anchor="end">10<tspan font-size="22" dy="-15.5">-8</tspan></text>
<text transform="translate(151.8 1164.2) scale(0.92 1)" font-size="36" font-weight="bold" fill="#36363c" text-anchor="end">10<tspan font-size="22" dy="-15.5">-10</tspan></text>
<text transform="translate(151.8 1263.3) scale(0.92 1)" font-size="36" font-weight="bold" fill="#36363c" text-anchor="end">10<tspan font-size="22" dy="-15.5">-12</tspan></text>
<text x="0" y="0" font-size="36" fill="#36363c" font-weight="bold" text-anchor="middle" transform="translate(213.35 1286) scale(0.92 1)">-20</text>
<text x="0" y="0" font-size="36" fill="#36363c" font-weight="bold" text-anchor="middle" transform="translate(322.8 1286) scale(0.92 1)">0</text>
<text x="0" y="0" font-size="36" fill="#36363c" font-weight="bold" text-anchor="middle" transform="translate(431.05 1286) scale(0.92 1)">20</text>
<text x="0" y="0" font-size="36" fill="#36363c" font-weight="bold" text-anchor="middle" transform="translate(539.3 1286) scale(0.92 1)">40</text>
<text x="0" y="0" font-size="36" fill="#36363c" font-weight="bold" text-anchor="middle" transform="translate(647.55 1286) scale(0.92 1)">60</text>
<text transform="translate(77.6 1060.5) rotate(-90)" font-size="34" font-weight="bold" fill="#36363c" text-anchor="middle"><tspan font-weight="normal">&#8211;</tspan> I<tspan font-size="19.04" dy="12">DS</tspan><tspan dy="-12"> (A)</tspan></text>
<text x="417" y="1324" font-size="34" font-weight="bold" fill="#36363c" text-anchor="middle"><tspan font-weight="normal">&#8211;</tspan> V<tspan font-size="19.04" dy="9">GS</tspan><tspan dy="-9"> (V)</tspan></text>
<text x="197.6" y="912.6" font-size="22" fill="#3c3c42" font-weight="bold">DC-FET</text>
<text x="197.6" y="940.7" font-size="22" font-weight="bold" fill="#3c3c42" word-spacing="1.6">L = 50 &#181;m</text>
<text x="191" y="983.3" font-size="22" fill="#6f48b4" font-weight="bold">Day 61</text>
<text x="190" y="1219.3" font-size="22" fill="#f23a2c" font-weight="bold">Day 0</text>
<defs><linearGradient id="garb" gradientUnits="userSpaceOnUse" x1="0" y1="1190" x2="0" y2="989.5"><stop offset="0" stop-color="#ff3a1c"/><stop offset="0.1" stop-color="#ff7a1e"/><stop offset="0.2" stop-color="#fde640"/><stop offset="0.3" stop-color="#a8cf3c"/><stop offset="0.48" stop-color="#3fb54a"/><stop offset="0.58" stop-color="#2b7d46"/><stop offset="0.66" stop-color="#15305c"/><stop offset="0.78" stop-color="#1b2f8a"/><stop offset="0.9" stop-color="#4a37a6"/><stop offset="1" stop-color="#5b3aa8"/></linearGradient></defs><path d="M222.7 1190H230.1V1010H237.2L226.4 989.5L215.6 1010H222.7Z" fill="url(#garb)"/>
<text x="485.3" y="1014.5" font-size="23" fill="#3c3c42" font-weight="bold">Time (days)</text>
<line x1="525.5" y1="1042.8" x2="571" y2="1042.8" stroke="#f2412c" stroke-width="2.9"/>
<text x="577" y="1049.8" font-size="20" fill="#3c3c42" font-weight="bold">0</text>
<line x1="525.5" y1="1068.75" x2="571" y2="1068.75" stroke="#f76b35" stroke-width="2.9"/>
<text x="577" y="1075.75" font-size="20" fill="#3c3c42" font-weight="bold">10</text>
<line x1="525.5" y1="1094.7" x2="571" y2="1094.7" stroke="#fde34a" stroke-width="2.9"/>
<text x="577" y="1101.7" font-size="20" fill="#3c3c42" font-weight="bold">20</text>
<line x1="525.5" y1="1120.65" x2="571" y2="1120.65" stroke="#45b34c" stroke-width="2.9"/>
<text x="577" y="1127.65" font-size="20" fill="#3c3c42" font-weight="bold">30</text>
<line x1="525.5" y1="1146.6" x2="571" y2="1146.6" stroke="#3f8fdb" stroke-width="2.9"/>
<text x="577" y="1153.6" font-size="20" fill="#3c3c42" font-weight="bold">41</text>
<line x1="525.5" y1="1172.55" x2="571" y2="1172.55" stroke="#3a5cc4" stroke-width="2.9"/>
<text x="577" y="1179.55" font-size="20" fill="#3c3c42" font-weight="bold">51</text>
<line x1="525.5" y1="1198.5" x2="571" y2="1198.5" stroke="#7d60c4" stroke-width="2.9"/>
<text x="577" y="1205.5" font-size="20" fill="#3c3c42" font-weight="bold">61</text>
</g>
<g id="plotc">
<rect x="852.7" y="869.3" width="515.6" height="381.8" fill="#fff" stroke="#36363c" stroke-width="2.4"/>
<path d="M907.45 1251.1v-8.5M907.45 869.3v8.5M1015.7 1251.1v-8.5M1015.7 869.3v8.5M1123.95 1251.1v-8.5M1123.95 869.3v8.5M1232.2 1251.1v-8.5M1232.2 869.3v8.5M1340.45 1251.1v-8.5M1340.45 869.3v8.5M961.58 1251.1v-4.6M961.58 869.3v4.6M1069.83 1251.1v-4.6M1069.83 869.3v4.6M1178.08 1251.1v-4.6M1178.08 869.3v4.6M1286.33 1251.1v-4.6M1286.33 869.3v4.6M852.7 1201.45h8.5M1368.3 1201.45h-8.5M852.7 1151.9h8.5M1368.3 1151.9h-8.5M852.7 1102.35h8.5M1368.3 1102.35h-8.5M852.7 1052.8h8.5M1368.3 1052.8h-8.5M852.7 1003.25h8.5M1368.3 1003.25h-8.5M852.7 953.7h8.5M1368.3 953.7h-8.5M852.7 904.15h8.5M1368.3 904.15h-8.5" stroke="#36363c" stroke-width="2.16" fill="none"/>
<path d="M852.7 1236.08h4.6M1368.3 1236.08h-4.6M852.7 1227.36h4.6M1368.3 1227.36h-4.6M852.7 1221.17h4.6M1368.3 1221.17h-4.6M852.7 1216.37h4.6M1368.3 1216.37h-4.6M852.7 1212.44h4.6M1368.3 1212.44h-4.6M852.7 1209.13h4.6M1368.3 1209.13h-4.6M852.7 1206.25h4.6M1368.3 1206.25h-4.6M852.7 1203.72h4.6M1368.3 1203.72h-4.6M852.7 1186.53h4.6M1368.3 1186.53h-4.6M852.7 1177.81h4.6M1368.3 1177.81h-4.6M852.7 1171.62h4.6M1368.3 1171.62h-4.6M852.7 1166.82h4.6M1368.3 1166.82h-4.6M852.7 1162.89h4.6M1368.3 1162.89h-4.6M852.7 1159.58h4.6M1368.3 1159.58h-4.6M852.7 1156.7h4.6M1368.3 1156.7h-4.6M852.7 1154.17h4.6M1368.3 1154.17h-4.6M852.7 1136.98h4.6M1368.3 1136.98h-4.6M852.7 1128.26h4.6M1368.3 1128.26h-4.6M852.7 1122.07h4.6M1368.3 1122.07h-4.6M852.7 1117.27h4.6M1368.3 1117.27h-4.6M852.7 1113.34h4.6M1368.3 1113.34h-4.6M852.7 1110.03h4.6M1368.3 1110.03h-4.6M852.7 1107.15h4.6M1368.3 1107.15h-4.6M852.7 1104.62h4.6M1368.3 1104.62h-4.6M852.7 1087.43h4.6M1368.3 1087.43h-4.6M852.7 1078.71h4.6M1368.3 1078.71h-4.6M852.7 1072.52h4.6M1368.3 1072.52h-4.6M852.7 1067.72h4.6M1368.3 1067.72h-4.6M852.7 1063.79h4.6M1368.3 1063.79h-4.6M852.7 1060.48h4.6M1368.3 1060.48h-4.6M852.7 1057.6h4.6M1368.3 1057.6h-4.6M852.7 1055.07h4.6M1368.3 1055.07h-4.6M852.7 1037.88h4.6M1368.3 1037.88h-4.6M852.7 1029.16h4.6M1368.3 1029.16h-4.6M852.7 1022.97h4.6M1368.3 1022.97h-4.6M852.7 1018.17h4.6M1368.3 1018.17h-4.6M852.7 1014.24h4.6M1368.3 1014.24h-4.6M852.7 1010.93h4.6M1368.3 1010.93h-4.6M852.7 1008.05h4.6M1368.3 1008.05h-4.6M852.7 1005.52h4.6M1368.3 1005.52h-4.6M852.7 988.33h4.6M1368.3 988.33h-4.6M852.7 979.61h4.6M1368.3 979.61h-4.6M852.7 973.42h4.6M1368.3 973.42h-4.6M852.7 968.62h4.6M1368.3 968.62h-4.6M852.7 964.69h4.6M1368.3 964.69h-4.6M852.7 961.38h4.6M1368.3 961.38h-4.6M852.7 958.5h4.6M1368.3 958.5h-4.6M852.7 955.97h4.6M1368.3 955.97h-4.6M852.7 938.78h4.6M1368.3 938.78h-4.6M852.7 930.06h4.6M1368.3 930.06h-4.6M852.7 923.87h4.6M1368.3 923.87h-4.6M852.7 919.07h4.6M1368.3 919.07h-4.6M852.7 915.14h4.6M1368.3 915.14h-4.6M852.7 911.83h4.6M1368.3 911.83h-4.6M852.7 908.95h4.6M1368.3 908.95h-4.6M852.7 906.42h4.6M1368.3 906.42h-4.6M852.7 889.23h4.6M1368.3 889.23h-4.6M852.7 880.51h4.6M1368.3 880.51h-4.6M852.7 874.32h4.6M1368.3 874.32h-4.6" stroke="#36363c" stroke-width="1.3" fill="none" opacity="0.9"/>
<clipPath id="clipplotc"><rect x="853.7" y="870.3" width="513.6" height="379.8"/></clipPath>
<g clip-path="url(#clipplotc)" fill="none" stroke-width="2.05" stroke-linejoin="round" stroke-linecap="round">
<path d="M961.25 1162.5L973.33 1166.67L985.83 1162.5L998.33 1152.08L1006.67 1141.67L1012.92 1120.83L1019.17 1095.83L1027.5 1068.75L1037.92 1043.75L1048.33 1027.08L1065 1008.33L1079.58 993.75 M1079.58 993.75C1083.06 991.32 1093.47 983.68 1100.42 979.17C1107.36 974.65 1114.65 970.14 1121.25 966.67C1127.85 963.19 1129.58 963.19 1140 958.33C1150.42 953.47 1167.78 944.27 1183.75 937.5C1199.72 930.73 1218.47 922.99 1235.83 917.71C1253.19 912.43 1270.38 909.27 1287.92 905.83C1305.45 902.4 1332.19 898.54 1341.04 897.08" stroke="#f2412c"/>
<path d="M961.25 1168.75L973.33 1172.92L981.67 1183.33L992.08 1183.33L1000.42 1175L1002.5 1158.33L1010.83 1141.67L1021.25 1120.83L1029.58 1089.58L1037.92 1062.5L1048.33 1041.67L1060.83 1022.92L1075.42 1008.33L1094.17 993.75 M1094.17 993.75C1097.64 991.32 1107.36 983.68 1115 979.17C1122.64 974.65 1128.54 972.22 1140 966.67C1151.46 961.11 1167.78 953.3 1183.75 945.83C1199.72 938.37 1218.47 928.19 1235.83 921.88C1253.19 915.56 1270.38 911.91 1287.92 907.92C1305.45 903.92 1332.19 899.58 1341.04 897.92" stroke="#f2412c"/>
<path d="M961.25 1168.75L975.42 1164.58L990 1160.42L1002.5 1152.08L1017.08 1150L1023.33 1137.5L1031.67 1100L1042.08 1068.75L1052.5 1047.92L1065 1029.17L1079.58 1012.5 M1079.58 1012.5C1083.06 1009.38 1093.47 999.31 1100.42 993.75C1107.36 988.19 1114.65 983.33 1121.25 979.17C1127.85 975 1129.58 975 1140 968.75C1150.42 962.5 1167.78 949.83 1183.75 941.67C1199.72 933.51 1218.47 925.28 1235.83 919.79C1253.19 914.31 1270.38 911.94 1287.92 908.75C1305.45 905.56 1332.19 901.98 1341.04 900.62" stroke="#f76b35"/>
<path d="M961.25 1183.33L973.33 1181.25L985.83 1175L998.33 1164.58L1004.58 1179.17L1012.92 1175L1021.25 1158.33L1029.58 1137.5L1037.92 1110.42L1046.25 1079.17L1056.67 1054.17L1069.17 1033.33L1083.75 1016.67 M1083.75 1016.67C1086.53 1014.24 1094.17 1006.94 1100.42 1002.08C1106.67 997.22 1114.65 991.67 1121.25 987.5C1127.85 983.33 1129.58 983.33 1140 977.08C1150.42 970.83 1167.78 958.51 1183.75 950C1199.72 941.49 1218.47 932.47 1235.83 926.04C1253.19 919.62 1270.38 915.56 1287.92 911.46C1305.45 907.36 1332.19 903.12 1341.04 901.46" stroke="#f76b35"/>
<path d="M961.25 1184.38C963.26 1181.77 969.24 1177.6 973.33 1168.75C977.43 1159.9 981.67 1144.44 985.83 1131.25C990 1118.06 994.17 1102.08 998.33 1089.58C1002.5 1077.08 1006.67 1065.62 1010.83 1056.25C1015 1046.88 1018.82 1040.62 1023.33 1033.33C1027.85 1026.04 1032.01 1019.1 1037.92 1012.5C1043.82 1005.9 1050.07 1000.35 1058.75 993.75C1067.43 987.15 1076.46 979.69 1090 972.92C1103.54 966.15 1124.38 959.2 1140 953.12C1155.62 947.05 1167.78 941.67 1183.75 936.46C1199.72 931.25 1218.47 925.97 1235.83 921.88C1253.19 917.78 1270.38 914.83 1287.92 911.88C1305.45 908.92 1332.19 905.45 1341.04 904.17" stroke="#fde34a"/>
<path d="M961.25 1183.33C963.61 1179.86 970.63 1169.44 975.42 1162.5C980.21 1155.56 985.14 1148.61 990 1141.67C994.86 1134.72 1000.42 1129.17 1004.58 1120.83C1008.75 1112.5 1011.53 1100.69 1015 1091.67C1018.47 1082.64 1021.6 1075 1025.42 1066.67C1029.24 1058.33 1033.4 1048.96 1037.92 1041.67C1042.43 1034.38 1047.29 1028.82 1052.5 1022.92C1057.71 1017.01 1062.92 1011.46 1069.17 1006.25C1075.42 1001.04 1083.06 996.18 1090 991.67C1096.94 987.15 1102.5 983.16 1110.83 979.17C1119.17 975.17 1127.85 972.92 1140 967.71C1152.15 962.5 1167.78 954.69 1183.75 947.92C1199.72 941.15 1218.47 932.64 1235.83 927.08C1253.19 921.53 1270.38 918.23 1287.92 914.58C1305.45 910.94 1332.19 906.77 1341.04 905.21" stroke="#fde34a"/>
<path d="M961.25 1158.33C962.57 1156.94 965.76 1156.25 969.17 1150C972.57 1143.75 977.85 1130.9 981.67 1120.83C985.49 1110.76 988.61 1100 992.08 1089.58C995.56 1079.17 999.03 1067.01 1002.5 1058.33C1005.97 1049.65 1008.75 1044.44 1012.92 1037.5C1017.08 1030.56 1021.6 1023.61 1027.5 1016.67C1033.4 1009.72 1041.39 1001.39 1048.33 995.83C1055.28 990.28 1062.22 987.15 1069.17 983.33C1076.11 979.51 1078.19 977.78 1090 972.92C1101.81 968.06 1124.38 960.07 1140 954.17C1155.62 948.26 1167.78 942.36 1183.75 937.5C1199.72 932.64 1218.47 928.65 1235.83 925C1253.19 921.35 1270.38 918.26 1287.92 915.62C1305.45 912.99 1332.19 910.24 1341.04 909.17" stroke="#45b34c"/>
<path d="M961.25 1160.42L975.42 1141.67L985.83 1125L992.08 1110.42L998.33 1109.38L1004.58 1093.75L1012.92 1085.42L1021.25 1068.75L1031.67 1047.92L1044.17 1029.17L1058.75 1014.58L1079.58 997.92 M1079.58 997.92C1084.79 994.79 1100.76 984.03 1110.83 979.17C1120.9 974.31 1127.85 973.61 1140 968.75C1152.15 963.89 1167.78 956.42 1183.75 950C1199.72 943.58 1218.47 935.49 1235.83 930.21C1253.19 924.93 1270.38 921.74 1287.92 918.33C1305.45 914.93 1332.19 911.22 1341.04 909.79" stroke="#45b34c"/>
<path d="M961.25 1118.75C963.26 1117.71 969.24 1116.32 973.33 1112.5C977.43 1108.68 981.67 1102.78 985.83 1095.83C990 1088.89 994.17 1079.17 998.33 1070.83C1002.5 1062.5 1006.67 1053.12 1010.83 1045.83C1015 1038.54 1018.82 1032.99 1023.33 1027.08C1027.85 1021.18 1032.01 1015.97 1037.92 1010.42C1043.82 1004.86 1050.07 999.65 1058.75 993.75C1067.43 987.85 1076.46 981.42 1090 975C1103.54 968.58 1124.38 961.11 1140 955.21C1155.62 949.31 1167.78 944.27 1183.75 939.58C1199.72 934.9 1218.47 930.62 1235.83 927.08C1253.19 923.54 1270.38 920.87 1287.92 918.33C1305.45 915.8 1332.19 912.95 1341.04 911.88" stroke="#3f8fdb"/>
<path d="M961.25 1120.83L975.42 1110.42L990 1097.92L1004.58 1085.42L1017.08 1066.67L1027.5 1058.33L1037.92 1037.5L1048.33 1025L1060.83 1018.75L1069.17 1010.42L1090 993.75 M1090 993.75C1093.47 991.32 1102.5 983.16 1110.83 979.17C1119.17 975.17 1127.85 974.48 1140 969.79C1152.15 965.1 1167.78 957.29 1183.75 951.04C1199.72 944.79 1218.47 937.33 1235.83 932.29C1253.19 927.26 1270.38 924.13 1287.92 920.83C1305.45 917.53 1332.19 913.89 1341.04 912.5" stroke="#3f8fdb"/>
<path d="M961.25 1117.71C962.22 1117.88 964.38 1120.31 967.08 1118.75C969.79 1117.19 973.68 1113.19 977.5 1108.33C981.32 1103.47 986.18 1096.18 990 1089.58C993.82 1082.99 996.94 1075.35 1000.42 1068.75C1003.89 1062.15 1007.01 1056.25 1010.83 1050C1014.65 1043.75 1018.82 1037.15 1023.33 1031.25C1027.85 1025.35 1032.01 1020.49 1037.92 1014.58C1043.82 1008.68 1051.81 1001.39 1058.75 995.83C1065.69 990.28 1070.9 986.28 1079.58 981.25C1088.26 976.22 1100.76 969.79 1110.83 965.62C1120.9 961.46 1127.85 960.42 1140 956.25C1152.15 952.08 1167.78 945.21 1183.75 940.62C1199.72 936.04 1218.47 932.05 1235.83 928.75C1253.19 925.45 1270.38 923.19 1287.92 920.83C1305.45 918.47 1332.19 915.62 1341.04 914.58" stroke="#3a5cc4"/>
<path d="M961.25 1120.83L965 1156.25L970.21 1122.92L976.46 1144.79L982.71 1114.58L994.17 1106.25L1006.67 1093.75L1010.83 1095.83L1017.08 1075L1021.25 1062.5L1031.67 1063.54L1040 1045.83L1048.33 1033.33L1062.92 1022.92L1069.17 1014.58L1090 995.83 M1090 995.83C1093.47 993.4 1102.5 985.42 1110.83 981.25C1119.17 977.08 1127.85 975.69 1140 970.83C1152.15 965.97 1167.78 958.26 1183.75 952.08C1199.72 945.9 1218.47 938.54 1235.83 933.75C1253.19 928.96 1270.38 926.39 1287.92 923.33C1305.45 920.28 1332.19 916.74 1341.04 915.42" stroke="#3a5cc4"/>
<path d="M961.25 1097.92C962.57 1096.53 965.76 1093.75 969.17 1089.58C972.57 1085.42 978.19 1078.12 981.67 1072.92C985.14 1067.71 986.88 1063.89 990 1058.33C993.12 1052.78 996.6 1045.49 1000.42 1039.58C1004.24 1033.68 1008.4 1028.12 1012.92 1022.92C1017.43 1017.71 1021.6 1013.19 1027.5 1008.33C1033.4 1003.47 1041.39 998.26 1048.33 993.75C1055.28 989.24 1062.22 984.9 1069.17 981.25C1076.11 977.6 1083.06 974.83 1090 971.88C1096.94 968.92 1102.5 966.49 1110.83 963.54C1119.17 960.59 1127.85 958.16 1140 954.17C1152.15 950.17 1167.78 943.58 1183.75 939.58C1199.72 935.59 1218.47 932.92 1235.83 930.21C1253.19 927.5 1270.38 925.38 1287.92 923.33C1305.45 921.28 1332.19 918.82 1341.04 917.92" stroke="#7d60c4"/>
<path d="M961.25 1097.92C962.05 1098.44 963.33 1101.74 966.04 1101.04C968.75 1100.35 973.51 1096.7 977.5 1093.75C981.49 1090.8 985.83 1087.5 990 1083.33C994.17 1079.17 997.99 1073.96 1002.5 1068.75C1007.01 1063.54 1012.22 1057.64 1017.08 1052.08C1021.94 1046.53 1026.46 1040.97 1031.67 1035.42C1036.88 1029.86 1042.08 1024.65 1048.33 1018.75C1054.58 1012.85 1062.22 1005.21 1069.17 1000C1076.11 994.79 1083.06 991.32 1090 987.5C1096.94 983.68 1102.5 980.56 1110.83 977.08C1119.17 973.61 1127.85 970.66 1140 966.67C1152.15 962.67 1167.78 958.26 1183.75 953.12C1199.72 947.99 1218.47 940.35 1235.83 935.83C1253.19 931.32 1270.38 928.89 1287.92 926.04C1305.45 923.19 1332.19 919.97 1341.04 918.75" stroke="#7d60c4"/>
</g>
<text transform="translate(844.7 966) scale(0.92 1)" font-size="36" font-weight="bold" fill="#36363c" text-anchor="end">10<tspan font-size="22" dy="-15.5">-6</tspan></text>
<text transform="translate(844.7 1065.1) scale(0.92 1)" font-size="36" font-weight="bold" fill="#36363c" text-anchor="end">10<tspan font-size="22" dy="-15.5">-8</tspan></text>
<text transform="translate(844.7 1164.2) scale(0.92 1)" font-size="36" font-weight="bold" fill="#36363c" text-anchor="end">10<tspan font-size="22" dy="-15.5">-10</tspan></text>
<text transform="translate(844.7 1263.3) scale(0.92 1)" font-size="36" font-weight="bold" fill="#36363c" text-anchor="end">10<tspan font-size="22" dy="-15.5">-12</tspan></text>
<text x="0" y="0" font-size="36" fill="#36363c" font-weight="bold" text-anchor="middle" transform="translate(906.25 1286) scale(0.92 1)">-20</text>
<text x="0" y="0" font-size="36" fill="#36363c" font-weight="bold" text-anchor="middle" transform="translate(1015.7 1286) scale(0.92 1)">0</text>
<text x="0" y="0" font-size="36" fill="#36363c" font-weight="bold" text-anchor="middle" transform="translate(1123.95 1286) scale(0.92 1)">20</text>
<text x="0" y="0" font-size="36" fill="#36363c" font-weight="bold" text-anchor="middle" transform="translate(1232.2 1286) scale(0.92 1)">40</text>
<text x="0" y="0" font-size="36" fill="#36363c" font-weight="bold" text-anchor="middle" transform="translate(1340.45 1286) scale(0.92 1)">60</text>
<text transform="translate(770.5 1060.5) rotate(-90)" font-size="34" font-weight="bold" fill="#36363c" text-anchor="middle"><tspan font-weight="normal">&#8211;</tspan> I<tspan font-size="19.04" dy="12">DS</tspan><tspan dy="-12"> (A)</tspan></text>
<text x="1109.9" y="1324" font-size="34" font-weight="bold" fill="#36363c" text-anchor="middle"><tspan font-weight="normal">&#8211;</tspan> V<tspan font-size="19.04" dy="9">GS</tspan><tspan dy="-9"> (V)</tspan></text>
<text x="893.4" y="912.6" font-size="22" fill="#3c3c42" font-weight="bold">DB/DC-FET</text>
<text x="893.4" y="940.7" font-size="22" font-weight="bold" fill="#3c3c42" word-spacing="1.6">L = 50 &#181;m</text>
<text x="887.8" y="1083.3" font-size="22" fill="#6f48b4" font-weight="bold">Day 63</text>
<text x="887.5" y="1213" font-size="22" fill="#f23a2c" font-weight="bold">Day 0</text>
<defs><linearGradient id="garc" gradientUnits="userSpaceOnUse" x1="0" y1="1187" x2="0" y2="1090.5"><stop offset="0" stop-color="#ff3a1c"/><stop offset="0.1" stop-color="#ff8a1e"/><stop offset="0.2" stop-color="#fde640"/><stop offset="0.32" stop-color="#8cc63f"/><stop offset="0.48" stop-color="#3fb54a"/><stop offset="0.6" stop-color="#1f6a46"/><stop offset="0.7" stop-color="#142a5c"/><stop offset="0.8" stop-color="#1b2f8a"/><stop offset="0.9" stop-color="#3a2f98"/><stop offset="1" stop-color="#4a37a6"/></linearGradient></defs><path d="M919.6 1187H927V1110H934.3L923.3 1090.5L912.3 1110H919.6Z" fill="url(#garc)"/>
<text x="1177.6" y="1022.2" font-size="23" fill="#3c3c42" font-weight="bold">Time (days)</text>
<line x1="1206.3" y1="1050.5" x2="1251.8" y2="1050.5" stroke="#f2412c" stroke-width="2.9"/>
<text x="1257.8" y="1057.5" font-size="20" fill="#3c3c42" font-weight="bold">0</text>
<line x1="1206.3" y1="1076.45" x2="1251.8" y2="1076.45" stroke="#f76b35" stroke-width="2.9"/>
<text x="1257.8" y="1083.45" font-size="20" fill="#3c3c42" font-weight="bold">10</text>
<line x1="1206.3" y1="1102.4" x2="1251.8" y2="1102.4" stroke="#fde34a" stroke-width="2.9"/>
<text x="1257.8" y="1109.4" font-size="20" fill="#3c3c42" font-weight="bold">21</text>
<line x1="1206.3" y1="1128.35" x2="1251.8" y2="1128.35" stroke="#45b34c" stroke-width="2.9"/>
<text x="1257.8" y="1135.35" font-size="20" fill="#3c3c42" font-weight="bold">34</text>
<line x1="1206.3" y1="1154.3" x2="1251.8" y2="1154.3" stroke="#3f8fdb" stroke-width="2.9"/>
<text x="1257.8" y="1161.3" font-size="20" fill="#3c3c42" font-weight="bold">44</text>
<line x1="1206.3" y1="1180.25" x2="1251.8" y2="1180.25" stroke="#3a5cc4" stroke-width="2.9"/>
<text x="1257.8" y="1187.25" font-size="20" fill="#3c3c42" font-weight="bold">52</text>
<line x1="1206.3" y1="1206.2" x2="1251.8" y2="1206.2" stroke="#7d60c4" stroke-width="2.9"/>
<text x="1257.8" y="1213.2" font-size="20" fill="#3c3c42" font-weight="bold">63</text>
</g>
</g>
<g filter="url(#sb)">
<g id="plotd">
<rect x="1500.6" y="859.6" width="548.9" height="406.3" fill="#fff" stroke="#36363c" stroke-width="2.5"/>
<path d="M1516.8 1265.9v-8.5M1516.8 859.6v8.5M1598.7 1265.9v-8.5M1598.7 859.6v8.5M1680.6 1265.9v-8.5M1680.6 859.6v8.5M1762.5 1265.9v-8.5M1762.5 859.6v8.5M1844.4 1265.9v-8.5M1844.4 859.6v8.5M1926.3 1265.9v-8.5M1926.3 859.6v8.5M2008.2 1265.9v-8.5M2008.2 859.6v8.5M1557.75 1265.9v-4.8M1557.75 859.6v4.8M1639.65 1265.9v-4.8M1639.65 859.6v4.8M1721.55 1265.9v-4.8M1721.55 859.6v4.8M1803.45 1265.9v-4.8M1803.45 859.6v4.8M1885.35 1265.9v-4.8M1885.35 859.6v4.8M1967.25 1265.9v-4.8M1967.25 859.6v4.8M1500.6 1207.7h8.5M2049.5 1207.7h-8.5M1500.6 1149.6h8.5M2049.5 1149.6h-8.5M1500.6 1091.5h8.5M2049.5 1091.5h-8.5M1500.6 1033.4h8.5M2049.5 1033.4h-8.5M1500.6 975.3h8.5M2049.5 975.3h-8.5M1500.6 917.2h8.5M2049.5 917.2h-8.5" stroke="#36363c" stroke-width="2.25" fill="none"/>
<path d="M1500.6 1248.31h4.8M2049.5 1248.31h-4.8M1500.6 1238.08h4.8M2049.5 1238.08h-4.8M1500.6 1230.82h4.8M2049.5 1230.82h-4.8M1500.6 1225.19h4.8M2049.5 1225.19h-4.8M1500.6 1220.59h4.8M2049.5 1220.59h-4.8M1500.6 1216.7h4.8M2049.5 1216.7h-4.8M1500.6 1213.33h4.8M2049.5 1213.33h-4.8M1500.6 1210.36h4.8M2049.5 1210.36h-4.8M1500.6 1190.21h4.8M2049.5 1190.21h-4.8M1500.6 1179.98h4.8M2049.5 1179.98h-4.8M1500.6 1172.72h4.8M2049.5 1172.72h-4.8M1500.6 1167.09h4.8M2049.5 1167.09h-4.8M1500.6 1162.49h4.8M2049.5 1162.49h-4.8M1500.6 1158.6h4.8M2049.5 1158.6h-4.8M1500.6 1155.23h4.8M2049.5 1155.23h-4.8M1500.6 1152.26h4.8M2049.5 1152.26h-4.8M1500.6 1132.11h4.8M2049.5 1132.11h-4.8M1500.6 1121.88h4.8M2049.5 1121.88h-4.8M1500.6 1114.62h4.8M2049.5 1114.62h-4.8M1500.6 1108.99h4.8M2049.5 1108.99h-4.8M1500.6 1104.39h4.8M2049.5 1104.39h-4.8M1500.6 1100.5h4.8M2049.5 1100.5h-4.8M1500.6 1097.13h4.8M2049.5 1097.13h-4.8M1500.6 1094.16h4.8M2049.5 1094.16h-4.8M1500.6 1074.01h4.8M2049.5 1074.01h-4.8M1500.6 1063.78h4.8M2049.5 1063.78h-4.8M1500.6 1056.52h4.8M2049.5 1056.52h-4.8M1500.6 1050.89h4.8M2049.5 1050.89h-4.8M1500.6 1046.29h4.8M2049.5 1046.29h-4.8M1500.6 1042.4h4.8M2049.5 1042.4h-4.8M1500.6 1039.03h4.8M2049.5 1039.03h-4.8M1500.6 1036.06h4.8M2049.5 1036.06h-4.8M1500.6 1015.91h4.8M2049.5 1015.91h-4.8M1500.6 1005.68h4.8M2049.5 1005.68h-4.8M1500.6 998.42h4.8M2049.5 998.42h-4.8M1500.6 992.79h4.8M2049.5 992.79h-4.8M1500.6 988.19h4.8M2049.5 988.19h-4.8M1500.6 984.3h4.8M2049.5 984.3h-4.8M1500.6 980.93h4.8M2049.5 980.93h-4.8M1500.6 977.96h4.8M2049.5 977.96h-4.8M1500.6 957.81h4.8M2049.5 957.81h-4.8M1500.6 947.58h4.8M2049.5 947.58h-4.8M1500.6 940.32h4.8M2049.5 940.32h-4.8M1500.6 934.69h4.8M2049.5 934.69h-4.8M1500.6 930.09h4.8M2049.5 930.09h-4.8M1500.6 926.2h4.8M2049.5 926.2h-4.8M1500.6 922.83h4.8M2049.5 922.83h-4.8M1500.6 919.86h4.8M2049.5 919.86h-4.8M1500.6 899.71h4.8M2049.5 899.71h-4.8M1500.6 889.48h4.8M2049.5 889.48h-4.8M1500.6 882.22h4.8M2049.5 882.22h-4.8M1500.6 876.59h4.8M2049.5 876.59h-4.8M1500.6 871.99h4.8M2049.5 871.99h-4.8M1500.6 868.1h4.8M2049.5 868.1h-4.8M1500.6 864.73h4.8M2049.5 864.73h-4.8M1500.6 861.76h4.8M2049.5 861.76h-4.8" stroke="#36363c" stroke-width="1.3" fill="none" opacity="0.9"/>
<path d="M1516.67 939.13L1533.3 979L1565.71 968.98L1598.34 971.11L1631.39 965.78L1663.8 970.47L1688.96 966.2L1795.16 972.6L1819.47 972.6L1852.09 940.62L1877.25 947.01L1917.76 953.84L1942.71 998.19L2032.69 948.51" fill="none" stroke="#2e2e34" stroke-width="2.6" stroke-linejoin="round"/><rect x="1512.17" y="934.63" width="9" height="9" fill="#2e2e34" stroke="#2e2e34" stroke-width="1.6"/><rect x="1528.8" y="974.5" width="9" height="9" fill="#2e2e34" stroke="#2e2e34" stroke-width="1.6"/><rect x="1561.21" y="964.48" width="9" height="9" fill="#2e2e34" stroke="#2e2e34" stroke-width="1.6"/><rect x="1593.84" y="966.61" width="9" height="9" fill="#2e2e34" stroke="#2e2e34" stroke-width="1.6"/><rect x="1626.89" y="961.28" width="9" height="9" fill="#2e2e34" stroke="#2e2e34" stroke-width="1.6"/><rect x="1659.3" y="965.97" width="9" height="9" fill="#2e2e34" stroke="#2e2e34" stroke-width="1.6"/><rect x="1684.46" y="961.7" width="9" height="9" fill="#2e2e34" stroke="#2e2e34" stroke-width="1.6"/><rect x="1790.66" y="968.1" width="9" height="9" fill="#2e2e34" stroke="#2e2e34" stroke-width="1.6"/><rect x="1814.97" y="968.1" width="9" height="9" fill="#2e2e34" stroke="#2e2e34" stroke-width="1.6"/><rect x="1847.59" y="936.12" width="9" height="9" fill="#2e2e34" stroke="#2e2e34" stroke-width="1.6"/><rect x="1872.75" y="942.51" width="9" height="9" fill="#2e2e34" stroke="#2e2e34" stroke-width="1.6"/><rect x="1913.26" y="949.34" width="9" height="9" fill="#2e2e34" stroke="#2e2e34" stroke-width="1.6"/><rect x="1938.21" y="993.69" width="9" height="9" fill="#2e2e34" stroke="#2e2e34" stroke-width="1.6"/><rect x="2028.19" y="944.01" width="9" height="9" fill="#2e2e34" stroke="#2e2e34" stroke-width="1.6"/>
<path d="M1516.67 931.02L1533.3 977.93L1565.71 921.43L1598.34 945.95L1631.39 913.33L1663.8 959.38L1688.96 936.35L1795.16 966.84L1819.47 971.96L1852.09 968.34L1877.25 1017.8L1917.76 1033.8L1942.71 1024.2L2032.69 1051.92" fill="none" stroke="#f4301f" stroke-width="2.6" stroke-linejoin="round"/><circle cx="1516.67" cy="931.02" r="5" fill="#f4301f" stroke="#f4301f" stroke-width="1.6"/><circle cx="1533.3" cy="977.93" r="5" fill="#f4301f" stroke="#f4301f" stroke-width="1.6"/><circle cx="1565.71" cy="921.43" r="5" fill="#f4301f" stroke="#f4301f" stroke-width="1.6"/><circle cx="1598.34" cy="945.95" r="5" fill="#f4301f" stroke="#f4301f" stroke-width="1.6"/><circle cx="1631.39" cy="913.33" r="5" fill="#f4301f" stroke="#f4301f" stroke-width="1.6"/><circle cx="1663.8" cy="959.38" r="5" fill="#f4301f" stroke="#f4301f" stroke-width="1.6"/><circle cx="1688.96" cy="936.35" r="5" fill="#f4301f" stroke="#f4301f" stroke-width="1.6"/><circle cx="1795.16" cy="966.84" r="5" fill="#f4301f" stroke="#f4301f" stroke-width="1.6"/><circle cx="1819.47" cy="971.96" r="5" fill="#f4301f" stroke="#f4301f" stroke-width="1.6"/><circle cx="1852.09" cy="968.34" r="5" fill="#f4301f" stroke="#f4301f" stroke-width="1.6"/><circle cx="1877.25" cy="1017.8" r="5" fill="#f4301f" stroke="#f4301f" stroke-width="1.6"/><circle cx="1917.76" cy="1033.8" r="5" fill="#f4301f" stroke="#f4301f" stroke-width="1.6"/><circle cx="1942.71" cy="1024.2" r="5" fill="#f4301f" stroke="#f4301f" stroke-width="1.6"/><circle cx="2032.69" cy="1051.92" r="5" fill="#f4301f" stroke="#f4301f" stroke-width="1.6"/>
<path d="M1516.67 989.66L1598.34 943.82L1655.27 925.05L1680.85 914.61L1704.95 926.76L1729.89 929.96L1761.88 906.5L1819.47 929.96L1852.09 917.8L1877.25 915.03L1900.49 917.8L1934.82 925.69L1966.59 928.25L2015.84 933.8" fill="none" stroke="#2e2e34" stroke-width="2.6" stroke-linejoin="round"/><rect x="1512.17" y="985.16" width="9" height="9" fill="#fff" stroke="#2e2e34" stroke-width="1.6"/><rect x="1593.84" y="939.32" width="9" height="9" fill="#fff" stroke="#2e2e34" stroke-width="1.6"/><rect x="1650.77" y="920.55" width="9" height="9" fill="#fff" stroke="#2e2e34" stroke-width="1.6"/><rect x="1676.35" y="910.11" width="9" height="9" fill="#fff" stroke="#2e2e34" stroke-width="1.6"/><rect x="1700.45" y="922.26" width="9" height="9" fill="#fff" stroke="#2e2e34" stroke-width="1.6"/><rect x="1725.39" y="925.46" width="9" height="9" fill="#fff" stroke="#2e2e34" stroke-width="1.6"/><rect x="1757.38" y="902" width="9" height="9" fill="#fff" stroke="#2e2e34" stroke-width="1.6"/><rect x="1814.97" y="925.46" width="9" height="9" fill="#fff" stroke="#2e2e34" stroke-width="1.6"/><rect x="1847.59" y="913.3" width="9" height="9" fill="#fff" stroke="#2e2e34" stroke-width="1.6"/><rect x="1872.75" y="910.53" width="9" height="9" fill="#fff" stroke="#2e2e34" stroke-width="1.6"/><rect x="1895.99" y="913.3" width="9" height="9" fill="#fff" stroke="#2e2e34" stroke-width="1.6"/><rect x="1930.32" y="921.19" width="9" height="9" fill="#fff" stroke="#2e2e34" stroke-width="1.6"/><rect x="1962.09" y="923.75" width="9" height="9" fill="#fff" stroke="#2e2e34" stroke-width="1.6"/><rect x="2011.34" y="929.3" width="9" height="9" fill="#fff" stroke="#2e2e34" stroke-width="1.6"/>
<path d="M1516.67 922.49L1598.34 948.51L1655.27 904.37L1680.85 918.23L1705.59 979L1729.89 1038.7L1762.52 1074.95L1819.47 1147.01L1852.09 1153.84L1877.25 1169.83L1900.49 1171.32L1934.82 1164.93L1966.59 1187.31L2015.84 1183.05" fill="none" stroke="#f4301f" stroke-width="2.6" stroke-linejoin="round"/><circle cx="1516.67" cy="922.49" r="4.7" fill="#fff" stroke="#f4301f" stroke-width="1.6"/><circle cx="1598.34" cy="948.51" r="4.7" fill="#fff" stroke="#f4301f" stroke-width="1.6"/><circle cx="1655.27" cy="904.37" r="4.7" fill="#fff" stroke="#f4301f" stroke-width="1.6"/><circle cx="1680.85" cy="918.23" r="4.7" fill="#fff" stroke="#f4301f" stroke-width="1.6"/><circle cx="1705.59" cy="979" r="4.7" fill="#fff" stroke="#f4301f" stroke-width="1.6"/><circle cx="1729.89" cy="1038.7" r="4.7" fill="#fff" stroke="#f4301f" stroke-width="1.6"/><circle cx="1762.52" cy="1074.95" r="4.7" fill="#fff" stroke="#f4301f" stroke-width="1.6"/><circle cx="1819.47" cy="1147.01" r="4.7" fill="#fff" stroke="#f4301f" stroke-width="1.6"/><circle cx="1852.09" cy="1153.84" r="4.7" fill="#fff" stroke="#f4301f" stroke-width="1.6"/><circle cx="1877.25" cy="1169.83" r="4.7" fill="#fff" stroke="#f4301f" stroke-width="1.6"/><circle cx="1900.49" cy="1171.32" r="4.7" fill="#fff" stroke="#f4301f" stroke-width="1.6"/><circle cx="1934.82" cy="1164.93" r="4.7" fill="#fff" stroke="#f4301f" stroke-width="1.6"/><circle cx="1966.59" cy="1187.31" r="4.7" fill="#fff" stroke="#f4301f" stroke-width="1.6"/><circle cx="2015.84" cy="1183.05" r="4.7" fill="#fff" stroke="#f4301f" stroke-width="1.6"/>
<text transform="translate(1492.5 1279.1) scale(0.92 1)" font-size="37" font-weight="bold" fill="#36363c" text-anchor="end">10<tspan font-size="23" dy="-16.5">0</tspan></text>
<text transform="translate(1492.5 1162.9) scale(0.92 1)" font-size="37" font-weight="bold" fill="#36363c" text-anchor="end">10<tspan font-size="23" dy="-16.5">2</tspan></text>
<text transform="translate(1492.5 1046.7) scale(0.92 1)" font-size="37" font-weight="bold" fill="#36363c" text-anchor="end">10<tspan font-size="23" dy="-16.5">4</tspan></text>
<text transform="translate(1492.5 930.5) scale(0.92 1)" font-size="37" font-weight="bold" fill="#36363c" text-anchor="end">10<tspan font-size="23" dy="-16.5">6</tspan></text>
<text x="0" y="0" font-size="37" fill="#36363c" font-weight="bold" text-anchor="middle" transform="translate(1516.8 1301.5) scale(0.92 1)">0</text>
<text x="0" y="0" font-size="37" fill="#36363c" font-weight="bold" text-anchor="middle" transform="translate(1598.7 1301.5) scale(0.92 1)">10</text>
<text x="0" y="0" font-size="37" fill="#36363c" font-weight="bold" text-anchor="middle" transform="translate(1680.6 1301.5) scale(0.92 1)">20</text>
<text x="0" y="0" font-size="37" fill="#36363c" font-weight="bold" text-anchor="middle" transform="translate(1762.5 1301.5) scale(0.92 1)">30</text>
<text x="0" y="0" font-size="37" fill="#36363c" font-weight="bold" text-anchor="middle" transform="translate(1844.4 1301.5) scale(0.92 1)">40</text>
<text x="0" y="0" font-size="37" fill="#36363c" font-weight="bold" text-anchor="middle" transform="translate(1926.3 1301.5) scale(0.92 1)">50</text>
<text x="0" y="0" font-size="37" fill="#36363c" font-weight="bold" text-anchor="middle" transform="translate(2008.2 1301.5) scale(0.92 1)">60</text>
<text x="0" y="0" font-size="37" fill="#36363c" font-weight="bold" text-anchor="middle" transform="translate(1774.5 1344.5) scale(0.95 1)">Time (days)</text>
<text transform="translate(1428.3 1063) rotate(-90) scale(0.96 1)" font-size="37" font-weight="bold" fill="#36363c" text-anchor="middle">ON/OFF ratio</text>
<rect x="1525.9" y="1138.9" width="17" height="17" fill="#2e2e34"/>
<rect x="1526.7" y="1166.4" width="15.4" height="15.4" fill="#fff" stroke="#2e2e34" stroke-width="1.6"/>
<circle cx="1534.4" cy="1200.4" r="9" fill="#f4301f"/>
<circle cx="1534.4" cy="1228.5" r="8.2" fill="#fff" stroke="#f4301f" stroke-width="1.6"/>
<text y="1154" font-size="20.5" font-weight="bold" fill="#3c3c42"><tspan x="1552" textLength="116.5" lengthAdjust="spacingAndGlyphs">DB/DC-FET,</tspan><tspan x="1685.8">L=</tspan><tspan x="1718.8">100</tspan><tspan x="1762.5">&#181;m</tspan></text>
<text y="1180.6" font-size="20.5" font-weight="bold" fill="#3c3c42"><tspan x="1552" textLength="78.5" lengthAdjust="spacingAndGlyphs">DC-FET,</tspan><tspan x="1647.4">L=</tspan><tspan x="1680.4">100</tspan><tspan x="1724.1">&#181;m</tspan></text>
<text y="1207.2" font-size="20.5" font-weight="bold" fill="#3c3c42"><tspan x="1552" textLength="116.5" lengthAdjust="spacingAndGlyphs">DB/DC-FET,</tspan><tspan x="1685.8">L=</tspan><tspan x="1717.7">50</tspan><tspan x="1749.7">&#181;m</tspan></text>
<text y="1235" font-size="20.5" font-weight="bold" fill="#3c3c42"><tspan x="1552" textLength="78.5" lengthAdjust="spacingAndGlyphs">DC-FET,</tspan><tspan x="1647.4">L=</tspan><tspan x="1680.4">50</tspan><tspan x="1711.3">&#181;m</tspan></text>
</g>
</g>
<g filter="url(#se)">
<g id="panel-e">
<defs><linearGradient id="gsub" x1="0" y1="0" x2="1" y2="0"><stop offset="0" stop-color="#a3abab"/><stop offset="0.12" stop-color="#7d8687"/><stop offset="0.32" stop-color="#525a5b"/><stop offset="0.55" stop-color="#373b3d"/><stop offset="1" stop-color="#34373a"/></linearGradient><linearGradient id="gfp" x1="0" y1="0" x2="0" y2="1"><stop offset="0" stop-color="#84509d"/><stop offset="0.6" stop-color="#8d5aa6"/><stop offset="1" stop-color="#a376b4"/></linearGradient><linearGradient id="gfr" x1="0" y1="0" x2="1" y2="0"><stop offset="0" stop-color="#d8475a"/><stop offset="0.5" stop-color="#f2402f"/><stop offset="1" stop-color="#dc4858"/></linearGradient><linearGradient id="gfs" x1="0" y1="0" x2="1" y2="0"><stop offset="0" stop-color="#a561a8"/><stop offset="0.2" stop-color="#c8687c"/><stop offset="0.5" stop-color="#e2595a"/><stop offset="0.8" stop-color="#c8687c"/><stop offset="1" stop-color="#a561a8"/></linearGradient><linearGradient id="gtime" x1="0" y1="0" x2="0" y2="1"><stop offset="0" stop-color="#ffe83c"/><stop offset="0.3" stop-color="#ffe040"/><stop offset="0.55" stop-color="#ffa533"/><stop offset="0.8" stop-color="#ff5a28"/><stop offset="1" stop-color="#ff3a28"/></linearGradient></defs>
<path d="M154.2 1578.4H177.2V1845.8H194.7L165.4 1875.5L135.9 1845.8H154.2Z" fill="url(#gtime)"/>
<text transform="translate(176.8 1721) rotate(-90) scale(0.9 1)" font-size="30" font-weight="bold" fill="#2b2b31" text-anchor="middle">Time</text>
<path d="M337.1 1522V1496H1106.3V1522M721.8 1496V1522" fill="none" stroke="#0a0a0a" stroke-width="3.7" stroke-linejoin="round" stroke-linecap="round"/>
<path d="M337.1 1952V1977H1106.6V1952M721.6 1952V1977" fill="none" stroke="#0a0a0a" stroke-width="3.7" stroke-linejoin="round" stroke-linecap="round"/>
<text x="721.3" y="1484.8" font-size="25" fill="#2b2b31" font-weight="bold" text-anchor="middle">As-doped</text>
<text x="722" y="2010.3" font-size="25" fill="#2b2b31" font-weight="bold" text-anchor="middle">After diffusion</text>
<text x="0" y="0" font-size="24" fill="#2b2b31" font-weight="bold" text-anchor="middle" transform="translate(339 1737.5) scale(0.92 1)">DC-FET</text>
<text transform="translate(723.7 1737.5) scale(0.92 1)" font-size="24" font-weight="bold" fill="#2b2b31" text-anchor="middle" word-spacing="5">TCNQ only</text>
<text x="0" y="0" font-size="24" fill="#2b2b31" font-weight="bold" text-anchor="middle" transform="translate(1116.2 1737.5) scale(0.92 1)">DB/DC-FET</text>
<g id="dev1">
<path d="M230.4 1533.4L245.41 1533.4L242.8 1544.7L227.36 1544.7ZM245.41 1533.4L260.41 1533.4L258.24 1544.7L242.8 1544.7ZM260.41 1533.4L275.42 1533.4L273.69 1544.7L258.24 1544.7ZM395.48 1533.4L410.49 1533.4L412.66 1544.7L397.21 1544.7ZM410.49 1533.4L425.49 1533.4L428.1 1544.7L412.66 1544.7ZM425.49 1533.4L440.5 1533.4L443.54 1544.7L428.1 1544.7ZM227.36 1544.7L242.8 1544.7L240.01 1556.8L224.11 1556.8ZM242.8 1544.7L258.24 1544.7L255.92 1556.8L240.01 1556.8ZM258.24 1544.7L273.69 1544.7L271.83 1556.8L255.92 1556.8ZM397.21 1544.7L412.66 1544.7L414.98 1556.8L399.07 1556.8ZM412.66 1544.7L428.1 1544.7L430.89 1556.8L414.98 1556.8ZM428.1 1544.7L443.54 1544.7L446.79 1556.8L430.89 1556.8ZM224.11 1556.8L240.01 1556.8L237.2 1568.99L220.83 1568.99ZM240.01 1556.8L255.92 1556.8L253.58 1568.99L237.2 1568.99ZM255.92 1556.8L271.83 1556.8L269.95 1568.99L253.58 1568.99ZM399.07 1556.8L414.98 1556.8L417.32 1568.99L400.95 1568.99ZM414.98 1556.8L430.89 1556.8L433.7 1568.99L417.32 1568.99ZM430.89 1556.8L446.79 1556.8L450.07 1568.99L433.7 1568.99ZM220.83 1568.99L237.2 1568.99L234.01 1582.87L217.1 1582.87ZM237.2 1568.99L253.58 1568.99L250.91 1582.87L234.01 1582.87ZM253.58 1568.99L269.95 1568.99L267.82 1582.87L250.91 1582.87ZM400.95 1568.99L417.32 1568.99L419.99 1582.87L403.08 1582.87ZM417.32 1568.99L433.7 1568.99L436.89 1582.87L419.99 1582.87ZM433.7 1568.99L450.07 1568.99L453.8 1582.87L436.89 1582.87ZM217.1 1582.87L234.01 1582.87L230.6 1597.64L213.13 1597.64ZM234.01 1582.87L250.91 1582.87L248.08 1597.64L230.6 1597.64ZM250.91 1582.87L267.82 1582.87L265.55 1597.64L248.08 1597.64ZM403.08 1582.87L419.99 1582.87L422.82 1597.64L405.35 1597.64ZM419.99 1582.87L436.89 1582.87L440.3 1597.64L422.82 1597.64ZM436.89 1582.87L453.8 1582.87L457.77 1597.64L440.3 1597.64ZM213.13 1597.64L230.6 1597.64L226.81 1614.1L208.7 1614.1ZM230.6 1597.64L248.08 1597.64L244.91 1614.1L226.81 1614.1ZM248.08 1597.64L265.55 1597.64L263.02 1614.1L244.91 1614.1ZM405.35 1597.64L422.82 1597.64L425.99 1614.1L407.88 1614.1ZM422.82 1597.64L440.3 1597.64L444.09 1614.1L425.99 1614.1ZM440.3 1597.64L457.77 1597.64L462.2 1614.1L444.09 1614.1Z" fill="#55a476" stroke="#55a476" stroke-width="0.6"/>
<path d="M275.42 1533.4L290.43 1533.4L289.13 1544.7L273.69 1544.7ZM290.43 1533.4L305.44 1533.4L304.57 1544.7L289.13 1544.7ZM305.44 1533.4L320.44 1533.4L320.01 1544.7L304.57 1544.7ZM320.44 1533.4L335.45 1533.4L335.45 1544.7L320.01 1544.7ZM335.45 1533.4L350.46 1533.4L350.89 1544.7L335.45 1544.7ZM350.46 1533.4L365.46 1533.4L366.33 1544.7L350.89 1544.7ZM365.46 1533.4L380.47 1533.4L381.77 1544.7L366.33 1544.7ZM380.47 1533.4L395.48 1533.4L397.21 1544.7L381.77 1544.7ZM273.69 1544.7L289.13 1544.7L287.73 1556.8L271.83 1556.8ZM289.13 1544.7L304.57 1544.7L303.64 1556.8L287.73 1556.8ZM304.57 1544.7L320.01 1544.7L319.54 1556.8L303.64 1556.8ZM320.01 1544.7L335.45 1544.7L335.45 1556.8L319.54 1556.8ZM335.45 1544.7L350.89 1544.7L351.36 1556.8L335.45 1556.8ZM350.89 1544.7L366.33 1544.7L367.26 1556.8L351.36 1556.8ZM366.33 1544.7L381.77 1544.7L383.17 1556.8L367.26 1556.8ZM381.77 1544.7L397.21 1544.7L399.07 1556.8L383.17 1556.8ZM271.83 1556.8L287.73 1556.8L286.33 1568.99L269.95 1568.99ZM287.73 1556.8L303.64 1556.8L302.7 1568.99L286.33 1568.99ZM303.64 1556.8L319.54 1556.8L319.08 1568.99L302.7 1568.99ZM319.54 1556.8L335.45 1556.8L335.45 1568.99L319.08 1568.99ZM335.45 1556.8L351.36 1556.8L351.82 1568.99L335.45 1568.99ZM351.36 1556.8L367.26 1556.8L368.2 1568.99L351.82 1568.99ZM367.26 1556.8L383.17 1556.8L384.57 1568.99L368.2 1568.99ZM383.17 1556.8L399.07 1556.8L400.95 1568.99L384.57 1568.99ZM269.95 1568.99L286.33 1568.99L284.73 1582.87L267.82 1582.87ZM286.33 1568.99L302.7 1568.99L301.64 1582.87L284.73 1582.87ZM302.7 1568.99L319.08 1568.99L318.54 1582.87L301.64 1582.87ZM319.08 1568.99L335.45 1568.99L335.45 1582.87L318.54 1582.87ZM335.45 1568.99L351.82 1568.99L352.36 1582.87L335.45 1582.87ZM351.82 1568.99L368.2 1568.99L369.26 1582.87L352.36 1582.87ZM368.2 1568.99L384.57 1568.99L386.17 1582.87L369.26 1582.87ZM384.57 1568.99L400.95 1568.99L403.08 1582.87L386.17 1582.87ZM267.82 1582.87L284.73 1582.87L283.03 1597.64L265.55 1597.64ZM284.73 1582.87L301.64 1582.87L300.5 1597.64L283.03 1597.64ZM301.64 1582.87L318.54 1582.87L317.98 1597.64L300.5 1597.64ZM318.54 1582.87L335.45 1582.87L335.45 1597.64L317.98 1597.64ZM335.45 1582.87L352.36 1582.87L352.92 1597.64L335.45 1597.64ZM352.36 1582.87L369.26 1582.87L370.4 1597.64L352.92 1597.64ZM369.26 1582.87L386.17 1582.87L387.87 1597.64L370.4 1597.64ZM386.17 1582.87L403.08 1582.87L405.35 1597.64L387.87 1597.64ZM265.55 1597.64L283.03 1597.64L281.13 1614.1L263.02 1614.1ZM283.03 1597.64L300.5 1597.64L299.24 1614.1L281.13 1614.1ZM300.5 1597.64L317.98 1597.64L317.34 1614.1L299.24 1614.1ZM317.98 1597.64L335.45 1597.64L335.45 1614.1L317.34 1614.1ZM335.45 1597.64L352.92 1597.64L353.56 1614.1L335.45 1614.1ZM352.92 1597.64L370.4 1597.64L371.66 1614.1L353.56 1614.1ZM370.4 1597.64L387.87 1597.64L389.77 1614.1L371.66 1614.1ZM387.87 1597.64L405.35 1597.64L407.88 1614.1L389.77 1614.1Z" fill="#9637ab" stroke="#9637ab" stroke-width="0.6"/>
<path d="M245.41 1533.4L226.81 1614.1M260.41 1533.4L244.91 1614.1M275.42 1533.4L263.02 1614.1M290.43 1533.4L281.13 1614.1M305.44 1533.4L299.24 1614.1M320.44 1533.4L317.34 1614.1M335.45 1533.4L335.45 1614.1M350.46 1533.4L353.56 1614.1M365.46 1533.4L371.66 1614.1M380.47 1533.4L389.77 1614.1M395.48 1533.4L407.88 1614.1M410.49 1533.4L425.99 1614.1M425.49 1533.4L444.09 1614.1M227.36 1544.7L443.54 1544.7M224.11 1556.8L446.79 1556.8M220.83 1568.99L450.07 1568.99M217.1 1582.87L453.8 1582.87M213.13 1597.64L457.77 1597.64" fill="none" stroke="#fff" stroke-opacity="0.5" stroke-width="2.3"/>
<rect x="208.7" y="1651.8" width="253.5" height="34.4" fill="url(#gsub)"/>
<text x="335.45" y="1676.85" font-size="17.5" fill="#c9d0d0" text-anchor="middle">SiO<tspan font-size="10" dy="4">2</tspan><tspan dy="-4">/Si</tspan></text>
<rect x="208.7" y="1614.1" width="56.13" height="38.2" fill="#a7d36c"/>
<rect x="241.29" y="1617.1" width="23.54" height="35.2" fill="#6fa870"/>
<rect x="208.7" y="1628.4" width="32.23" height="25.4" fill="#f4e02e"/>
<rect x="209.5" y="1628.4" width="30.63" height="23.9" fill="none" stroke="#26302c" stroke-width="2.5" stroke-dasharray="3.2 5.4" stroke-opacity="0.88"/>
<rect x="209.5" y="1614.1" width="55.33" height="38.2" fill="none" stroke="#26302c" stroke-width="2.5" stroke-dasharray="3.2 5.4" stroke-opacity="0.88"/>
<rect x="406.07" y="1614.1" width="56.13" height="38.2" fill="#a7d36c"/>
<rect x="406.07" y="1617.1" width="23.54" height="35.2" fill="#6fa870"/>
<rect x="429.97" y="1628.4" width="32.23" height="25.4" fill="#f4e02e"/>
<rect x="430.77" y="1628.4" width="30.63" height="23.9" fill="none" stroke="#26302c" stroke-width="2.5" stroke-dasharray="3.2 5.4" stroke-opacity="0.88"/>
<rect x="406.07" y="1614.1" width="55.33" height="38.2" fill="none" stroke="#26302c" stroke-width="2.5" stroke-dasharray="3.2 5.4" stroke-opacity="0.88"/>
<rect x="264.83" y="1616.6" width="141.24" height="35.7" fill="url(#gfp)"/>
<rect x="264.83" y="1614.1" width="141.24"  fill="#c9a2d8" height="3" opacity="0.9"/>
<path d="M230.4 1533.4L275.42 1533.4L263.02 1614.1L208.7 1614.1ZM395.48 1533.4L440.5 1533.4L462.2 1614.1L407.88 1614.1Z" fill="none" stroke="#26302c" stroke-width="2.5" stroke-dasharray="3.2 5.4" stroke-opacity="0.88"/>
<text x="335.45" y="1643.8" font-size="17.5" fill="#f3e6f4" text-anchor="middle">PBTTT</text>
<text x="224.27" y="1648.7" font-size="15.5" fill="#3a3a14" text-anchor="middle" stroke="#3a3a14" stroke-width="0.4">Au</text>
<text x="446.63" y="1648.7" font-size="15.5" fill="#3a3a14" text-anchor="middle" stroke="#3a3a14" stroke-width="0.4">Au</text>
</g>
<g id="dev2">
<path d="M618.2 1534L632.89 1534L630.07 1545.3L614.91 1545.3ZM632.89 1534L647.59 1534L645.24 1545.3L630.07 1545.3ZM647.59 1534L662.28 1534L660.4 1545.3L645.24 1545.3ZM662.28 1534L676.97 1534L675.56 1545.3L660.4 1545.3ZM765.13 1534L779.82 1534L781.7 1545.3L766.54 1545.3ZM779.82 1534L794.51 1534L796.86 1545.3L781.7 1545.3ZM794.51 1534L809.21 1534L812.03 1545.3L796.86 1545.3ZM809.21 1534L823.9 1534L827.19 1545.3L812.03 1545.3ZM614.91 1545.3L630.07 1545.3L627.05 1557.4L611.38 1557.4ZM630.07 1545.3L645.24 1545.3L642.72 1557.4L627.05 1557.4ZM645.24 1545.3L660.4 1545.3L658.38 1557.4L642.72 1557.4ZM660.4 1545.3L675.56 1545.3L674.05 1557.4L658.38 1557.4ZM766.54 1545.3L781.7 1545.3L783.72 1557.4L768.05 1557.4ZM781.7 1545.3L796.86 1545.3L799.38 1557.4L783.72 1557.4ZM796.86 1545.3L812.03 1545.3L815.05 1557.4L799.38 1557.4ZM812.03 1545.3L827.19 1545.3L830.71 1557.4L815.05 1557.4ZM611.38 1557.4L627.05 1557.4L624.01 1569.59L607.84 1569.59ZM627.05 1557.4L642.72 1557.4L640.18 1569.59L624.01 1569.59ZM642.72 1557.4L658.38 1557.4L656.36 1569.59L640.18 1569.59ZM658.38 1557.4L674.05 1557.4L672.53 1569.59L656.36 1569.59ZM768.05 1557.4L783.72 1557.4L785.74 1569.59L769.57 1569.59ZM783.72 1557.4L799.38 1557.4L801.92 1569.59L785.74 1569.59ZM799.38 1557.4L815.05 1557.4L818.09 1569.59L801.92 1569.59ZM815.05 1557.4L830.71 1557.4L834.26 1569.59L818.09 1569.59ZM607.84 1569.59L624.01 1569.59L620.55 1583.47L603.79 1583.47ZM624.01 1569.59L640.18 1569.59L637.3 1583.47L620.55 1583.47ZM640.18 1569.59L656.36 1569.59L654.05 1583.47L637.3 1583.47ZM656.36 1569.59L672.53 1569.59L670.8 1583.47L654.05 1583.47ZM769.57 1569.59L785.74 1569.59L788.05 1583.47L771.3 1583.47ZM785.74 1569.59L801.92 1569.59L804.8 1583.47L788.05 1583.47ZM801.92 1569.59L818.09 1569.59L821.55 1583.47L804.8 1583.47ZM818.09 1569.59L834.26 1569.59L838.31 1583.47L821.55 1583.47ZM603.79 1583.47L620.55 1583.47L616.86 1598.24L599.49 1598.24ZM620.55 1583.47L637.3 1583.47L634.22 1598.24L616.86 1598.24ZM637.3 1583.47L654.05 1583.47L651.59 1598.24L634.22 1598.24ZM654.05 1583.47L670.8 1583.47L668.95 1598.24L651.59 1598.24ZM771.3 1583.47L788.05 1583.47L790.51 1598.24L773.15 1598.24ZM788.05 1583.47L804.8 1583.47L807.88 1598.24L790.51 1598.24ZM804.8 1583.47L821.55 1583.47L825.24 1598.24L807.88 1598.24ZM821.55 1583.47L838.31 1583.47L842.61 1598.24L825.24 1598.24ZM599.49 1598.24L616.86 1598.24L612.75 1614.7L594.7 1614.7ZM616.86 1598.24L634.22 1598.24L630.8 1614.7L612.75 1614.7ZM634.22 1598.24L651.59 1598.24L648.85 1614.7L630.8 1614.7ZM651.59 1598.24L668.95 1598.24L666.9 1614.7L648.85 1614.7ZM773.15 1598.24L790.51 1598.24L793.25 1614.7L775.2 1614.7ZM790.51 1598.24L807.88 1598.24L811.3 1614.7L793.25 1614.7ZM807.88 1598.24L825.24 1598.24L829.35 1614.7L811.3 1614.7ZM825.24 1598.24L842.61 1598.24L847.4 1614.7L829.35 1614.7Z" fill="#9637ab" stroke="#9637ab" stroke-width="0.6"/>
<path d="M676.97 1534L691.66 1534L690.72 1545.3L675.56 1545.3ZM691.66 1534L706.36 1534L705.89 1545.3L690.72 1545.3ZM706.36 1534L721.05 1534L721.05 1545.3L705.89 1545.3ZM721.05 1534L735.74 1534L736.21 1545.3L721.05 1545.3ZM735.74 1534L750.44 1534L751.38 1545.3L736.21 1545.3ZM750.44 1534L765.13 1534L766.54 1545.3L751.38 1545.3ZM675.56 1545.3L690.72 1545.3L689.72 1557.4L674.05 1557.4ZM690.72 1545.3L705.89 1545.3L705.38 1557.4L689.72 1557.4ZM705.89 1545.3L721.05 1545.3L721.05 1557.4L705.38 1557.4ZM721.05 1545.3L736.21 1545.3L736.72 1557.4L721.05 1557.4ZM736.21 1545.3L751.38 1545.3L752.38 1557.4L736.72 1557.4ZM751.38 1545.3L766.54 1545.3L768.05 1557.4L752.38 1557.4ZM674.05 1557.4L689.72 1557.4L688.7 1569.59L672.53 1569.59ZM689.72 1557.4L705.38 1557.4L704.88 1569.59L688.7 1569.59ZM705.38 1557.4L721.05 1557.4L721.05 1569.59L704.88 1569.59ZM721.05 1557.4L736.72 1557.4L737.22 1569.59L721.05 1569.59ZM736.72 1557.4L752.38 1557.4L753.4 1569.59L737.22 1569.59ZM752.38 1557.4L768.05 1557.4L769.57 1569.59L753.4 1569.59ZM672.53 1569.59L688.7 1569.59L687.55 1583.47L670.8 1583.47ZM688.7 1569.59L704.88 1569.59L704.3 1583.47L687.55 1583.47ZM704.88 1569.59L721.05 1569.59L721.05 1583.47L704.3 1583.47ZM721.05 1569.59L737.22 1569.59L737.8 1583.47L721.05 1583.47ZM737.22 1569.59L753.4 1569.59L754.55 1583.47L737.8 1583.47ZM753.4 1569.59L769.57 1569.59L771.3 1583.47L754.55 1583.47ZM670.8 1583.47L687.55 1583.47L686.32 1598.24L668.95 1598.24ZM687.55 1583.47L704.3 1583.47L703.68 1598.24L686.32 1598.24ZM704.3 1583.47L721.05 1583.47L721.05 1598.24L703.68 1598.24ZM721.05 1583.47L737.8 1583.47L738.42 1598.24L721.05 1598.24ZM737.8 1583.47L754.55 1583.47L755.78 1598.24L738.42 1598.24ZM754.55 1583.47L771.3 1583.47L773.15 1598.24L755.78 1598.24ZM668.95 1598.24L686.32 1598.24L684.95 1614.7L666.9 1614.7ZM686.32 1598.24L703.68 1598.24L703 1614.7L684.95 1614.7ZM703.68 1598.24L721.05 1598.24L721.05 1614.7L703 1614.7ZM721.05 1598.24L738.42 1598.24L739.1 1614.7L721.05 1614.7ZM738.42 1598.24L755.78 1598.24L757.15 1614.7L739.1 1614.7ZM755.78 1598.24L773.15 1598.24L775.2 1614.7L757.15 1614.7Z" fill="#ff3d20" stroke="#ff3d20" stroke-width="0.6"/>
<path d="M632.89 1534L612.75 1614.7M647.59 1534L630.8 1614.7M662.28 1534L648.85 1614.7M676.97 1534L666.9 1614.7M691.66 1534L684.95 1614.7M706.36 1534L703 1614.7M721.05 1534L721.05 1614.7M735.74 1534L739.1 1614.7M750.44 1534L757.15 1614.7M765.13 1534L775.2 1614.7M779.82 1534L793.25 1614.7M794.51 1534L811.3 1614.7M809.21 1534L829.35 1614.7M614.91 1545.3L827.19 1545.3M611.38 1557.4L830.71 1557.4M607.84 1569.59L834.26 1569.59M603.79 1583.47L838.31 1583.47M599.49 1598.24L842.61 1598.24" fill="none" stroke="#fff" stroke-opacity="0.5" stroke-width="2.3"/>
<rect x="594.7" y="1652.4" width="252.7" height="34.4" fill="url(#gsub)"/>
<text x="721.05" y="1677.45" font-size="17.5" fill="#c9d0d0" text-anchor="middle">SiO<tspan font-size="10" dy="4">2</tspan><tspan dy="-4">/Si</tspan></text>
<rect x="594.7" y="1617.2" width="252.7" height="35.7" fill="url(#gfp)"/>
<rect x="594.7" y="1614.7" width="252.7" height="3.5" fill="#c9a2d8" opacity="0.9"/>
<rect x="592.9" y="1629.7" width="32.49" height="27.2" fill="#f4e02e"/>
<rect x="816.71" y="1629.7" width="32.49" height="27.2" fill="#f4e02e"/>
<rect x="666.9" y="1617.2" width="108.3" height="35.7" fill="url(#gfr)"/>
<rect x="666.9" y="1615.2" width="108.3" height="37.2" fill="none" stroke="#3a1418" stroke-width="2.5" stroke-dasharray="3.2 5.4" stroke-opacity="0.88"/>
<path d="M676.97 1534L765.13 1534L775.2 1614.7L666.9 1614.7Z" fill="none" stroke="#3a1418" stroke-width="2.5" stroke-dasharray="3.2 5.4" stroke-opacity="0.88"/>
<text x="721.05" y="1644.4" font-size="17.5" fill="#fde7e2" text-anchor="middle">PBTTT</text>
<text x="610.22" y="1649.3" font-size="15.5" fill="#3a3a14" text-anchor="middle" stroke="#3a3a14" stroke-width="0.4">Au</text>
<text x="831.88" y="1649.3" font-size="15.5" fill="#3a3a14" text-anchor="middle" stroke="#3a3a14" stroke-width="0.4">Au</text>
</g>
<g id="dev3">
<path d="M1001.2 1529.2L1016.15 1529.2L1013.45 1540.5L998.05 1540.5ZM1016.15 1529.2L1031.1 1529.2L1028.85 1540.5L1013.45 1540.5ZM1031.1 1529.2L1046.05 1529.2L1044.25 1540.5L1028.85 1540.5ZM1165.65 1529.2L1180.6 1529.2L1182.85 1540.5L1167.45 1540.5ZM1180.6 1529.2L1195.55 1529.2L1198.25 1540.5L1182.85 1540.5ZM1195.55 1529.2L1210.5 1529.2L1213.65 1540.5L1198.25 1540.5ZM998.05 1540.5L1013.45 1540.5L1010.56 1552.6L994.67 1552.6ZM1013.45 1540.5L1028.85 1540.5L1026.44 1552.6L1010.56 1552.6ZM1028.85 1540.5L1044.25 1540.5L1042.32 1552.6L1026.44 1552.6ZM1167.45 1540.5L1182.85 1540.5L1185.26 1552.6L1169.38 1552.6ZM1182.85 1540.5L1198.25 1540.5L1201.14 1552.6L1185.26 1552.6ZM1198.25 1540.5L1213.65 1540.5L1217.02 1552.6L1201.14 1552.6ZM994.67 1552.6L1010.56 1552.6L1007.64 1564.79L991.28 1564.79ZM1010.56 1552.6L1026.44 1552.6L1024.01 1564.79L1007.64 1564.79ZM1026.44 1552.6L1042.32 1552.6L1040.38 1564.79L1024.01 1564.79ZM1169.38 1552.6L1185.26 1552.6L1187.69 1564.79L1171.32 1564.79ZM1185.26 1552.6L1201.14 1552.6L1204.06 1564.79L1187.69 1564.79ZM1201.14 1552.6L1217.02 1552.6L1220.42 1564.79L1204.06 1564.79ZM991.28 1564.79L1007.64 1564.79L1004.33 1578.67L987.41 1578.67ZM1007.64 1564.79L1024.01 1564.79L1021.25 1578.67L1004.33 1578.67ZM1024.01 1564.79L1040.38 1564.79L1038.17 1578.67L1021.25 1578.67ZM1171.32 1564.79L1187.69 1564.79L1190.45 1578.67L1173.53 1578.67ZM1187.69 1564.79L1204.06 1564.79L1207.37 1578.67L1190.45 1578.67ZM1204.06 1564.79L1220.42 1564.79L1224.29 1578.67L1207.37 1578.67ZM987.41 1578.67L1004.33 1578.67L1000.8 1593.44L983.29 1593.44ZM1004.33 1578.67L1021.25 1578.67L1018.31 1593.44L1000.8 1593.44ZM1021.25 1578.67L1038.17 1578.67L1035.82 1593.44L1018.31 1593.44ZM1173.53 1578.67L1190.45 1578.67L1193.39 1593.44L1175.88 1593.44ZM1190.45 1578.67L1207.37 1578.67L1210.9 1593.44L1193.39 1593.44ZM1207.37 1578.67L1224.29 1578.67L1228.41 1593.44L1210.9 1593.44ZM983.29 1593.44L1000.8 1593.44L996.86 1609.9L978.7 1609.9ZM1000.8 1593.44L1018.31 1593.44L1015.03 1609.9L996.86 1609.9ZM1018.31 1593.44L1035.82 1593.44L1033.19 1609.9L1015.03 1609.9ZM1175.88 1593.44L1193.39 1593.44L1196.67 1609.9L1178.51 1609.9ZM1193.39 1593.44L1210.9 1593.44L1214.84 1609.9L1196.67 1609.9ZM1210.9 1593.44L1228.41 1593.44L1233 1609.9L1214.84 1609.9Z" fill="#55a476" stroke="#55a476" stroke-width="0.6"/>
<path d="M1046.05 1529.2L1061 1529.2L1059.65 1540.5L1044.25 1540.5ZM1150.7 1529.2L1165.65 1529.2L1167.45 1540.5L1152.05 1540.5ZM1044.25 1540.5L1059.65 1540.5L1058.2 1552.6L1042.32 1552.6ZM1152.05 1540.5L1167.45 1540.5L1169.38 1552.6L1153.5 1552.6ZM1042.32 1552.6L1058.2 1552.6L1056.75 1564.79L1040.38 1564.79ZM1153.5 1552.6L1169.38 1552.6L1171.32 1564.79L1154.95 1564.79ZM1040.38 1564.79L1056.75 1564.79L1055.09 1578.67L1038.17 1578.67ZM1154.95 1564.79L1171.32 1564.79L1173.53 1578.67L1156.61 1578.67ZM1038.17 1578.67L1055.09 1578.67L1053.32 1593.44L1035.82 1593.44ZM1156.61 1578.67L1173.53 1578.67L1175.88 1593.44L1158.38 1593.44ZM1035.82 1593.44L1053.32 1593.44L1051.36 1609.9L1033.19 1609.9ZM1158.38 1593.44L1175.88 1593.44L1178.51 1609.9L1160.34 1609.9Z" fill="#9637ab" stroke="#9637ab" stroke-width="0.6"/>
<path d="M1061 1529.2L1075.95 1529.2L1075.05 1540.5L1059.65 1540.5ZM1075.95 1529.2L1090.9 1529.2L1090.45 1540.5L1075.05 1540.5ZM1090.9 1529.2L1105.85 1529.2L1105.85 1540.5L1090.45 1540.5ZM1105.85 1529.2L1120.8 1529.2L1121.25 1540.5L1105.85 1540.5ZM1120.8 1529.2L1135.75 1529.2L1136.65 1540.5L1121.25 1540.5ZM1135.75 1529.2L1150.7 1529.2L1152.05 1540.5L1136.65 1540.5ZM1059.65 1540.5L1075.05 1540.5L1074.09 1552.6L1058.2 1552.6ZM1075.05 1540.5L1090.45 1540.5L1089.97 1552.6L1074.09 1552.6ZM1090.45 1540.5L1105.85 1540.5L1105.85 1552.6L1089.97 1552.6ZM1105.85 1540.5L1121.25 1540.5L1121.73 1552.6L1105.85 1552.6ZM1121.25 1540.5L1136.65 1540.5L1137.61 1552.6L1121.73 1552.6ZM1136.65 1540.5L1152.05 1540.5L1153.5 1552.6L1137.61 1552.6ZM1058.2 1552.6L1074.09 1552.6L1073.12 1564.79L1056.75 1564.79ZM1074.09 1552.6L1089.97 1552.6L1089.48 1564.79L1073.12 1564.79ZM1089.97 1552.6L1105.85 1552.6L1105.85 1564.79L1089.48 1564.79ZM1105.85 1552.6L1121.73 1552.6L1122.22 1564.79L1105.85 1564.79ZM1121.73 1552.6L1137.61 1552.6L1138.59 1564.79L1122.22 1564.79ZM1137.61 1552.6L1153.5 1552.6L1154.95 1564.79L1138.59 1564.79ZM1056.75 1564.79L1073.12 1564.79L1072.01 1578.67L1055.09 1578.67ZM1073.12 1564.79L1089.48 1564.79L1088.93 1578.67L1072.01 1578.67ZM1089.48 1564.79L1105.85 1564.79L1105.85 1578.67L1088.93 1578.67ZM1105.85 1564.79L1122.22 1564.79L1122.77 1578.67L1105.85 1578.67ZM1122.22 1564.79L1138.59 1564.79L1139.69 1578.67L1122.77 1578.67ZM1138.59 1564.79L1154.95 1564.79L1156.61 1578.67L1139.69 1578.67ZM1055.09 1578.67L1072.01 1578.67L1070.83 1593.44L1053.32 1593.44ZM1072.01 1578.67L1088.93 1578.67L1088.34 1593.44L1070.83 1593.44ZM1088.93 1578.67L1105.85 1578.67L1105.85 1593.44L1088.34 1593.44ZM1105.85 1578.67L1122.77 1578.67L1123.36 1593.44L1105.85 1593.44ZM1122.77 1578.67L1139.69 1578.67L1140.87 1593.44L1123.36 1593.44ZM1139.69 1578.67L1156.61 1578.67L1158.38 1593.44L1140.87 1593.44ZM1053.32 1593.44L1070.83 1593.44L1069.52 1609.9L1051.36 1609.9ZM1070.83 1593.44L1088.34 1593.44L1087.69 1609.9L1069.52 1609.9ZM1088.34 1593.44L1105.85 1593.44L1105.85 1609.9L1087.69 1609.9ZM1105.85 1593.44L1123.36 1593.44L1124.01 1609.9L1105.85 1609.9ZM1123.36 1593.44L1140.87 1593.44L1142.18 1609.9L1124.01 1609.9ZM1140.87 1593.44L1158.38 1593.44L1160.34 1609.9L1142.18 1609.9Z" fill="#ff3d20" stroke="#ff3d20" stroke-width="0.6"/>
<path d="M1016.15 1529.2L996.86 1609.9M1031.1 1529.2L1015.03 1609.9M1046.05 1529.2L1033.19 1609.9M1061 1529.2L1051.36 1609.9M1075.95 1529.2L1069.52 1609.9M1090.9 1529.2L1087.69 1609.9M1105.85 1529.2L1105.85 1609.9M1120.8 1529.2L1124.01 1609.9M1135.75 1529.2L1142.18 1609.9M1150.7 1529.2L1160.34 1609.9M1165.65 1529.2L1178.51 1609.9M1180.6 1529.2L1196.67 1609.9M1195.55 1529.2L1214.84 1609.9M998.05 1540.5L1213.65 1540.5M994.67 1552.6L1217.02 1552.6M991.28 1564.79L1220.42 1564.79M987.41 1578.67L1224.29 1578.67M983.29 1593.44L1228.41 1593.44" fill="none" stroke="#fff" stroke-opacity="0.5" stroke-width="2.3"/>
<rect x="978.7" y="1647.6" width="254.3" height="34.4" fill="url(#gsub)"/>
<text x="1105.85" y="1672.65" font-size="17.5" fill="#c9d0d0" text-anchor="middle">SiO<tspan font-size="10" dy="4">2</tspan><tspan dy="-4">/Si</tspan></text>
<rect x="978.7" y="1609.9" width="56.31" height="38.2" fill="#a7d36c"/>
<rect x="1011.4" y="1612.9" width="23.61" height="35.2" fill="#6fa870"/>
<rect x="978.7" y="1624.2" width="32.33" height="25.4" fill="#f4e02e"/>
<rect x="979.5" y="1624.2" width="30.73" height="23.9" fill="none" stroke="#26302c" stroke-width="2.5" stroke-dasharray="3.2 5.4" stroke-opacity="0.88"/>
<rect x="979.5" y="1609.9" width="55.51" height="38.2" fill="none" stroke="#26302c" stroke-width="2.5" stroke-dasharray="3.2 5.4" stroke-opacity="0.88"/>
<rect x="1176.69" y="1609.9" width="56.31" height="38.2" fill="#a7d36c"/>
<rect x="1176.69" y="1612.9" width="23.61" height="35.2" fill="#6fa870"/>
<rect x="1200.67" y="1624.2" width="32.33" height="25.4" fill="#f4e02e"/>
<rect x="1201.47" y="1624.2" width="30.73" height="23.9" fill="none" stroke="#26302c" stroke-width="2.5" stroke-dasharray="3.2 5.4" stroke-opacity="0.88"/>
<rect x="1176.69" y="1609.9" width="55.51" height="38.2" fill="none" stroke="#26302c" stroke-width="2.5" stroke-dasharray="3.2 5.4" stroke-opacity="0.88"/>
<rect x="1035.01" y="1612.4" width="141.68" height="35.7" fill="#8a4fa3"/>
<rect x="1052.27" y="1612.4" width="107.17" height="35.7" fill="url(#gfr)"/>
<rect x="1035.01" y="1609.9" width="141.68" height="3" fill="#e9b0c8" opacity="0.8"/>
<path d="M1001.2 1529.2L1046.05 1529.2L1033.19 1609.9L978.7 1609.9ZM1165.65 1529.2L1210.5 1529.2L1233 1609.9L1178.51 1609.9Z" fill="none" stroke="#26302c" stroke-width="2.5" stroke-dasharray="3.2 5.4" stroke-opacity="0.88"/>
<path d="M1061 1529.2L1150.7 1529.2L1160.34 1609.9L1051.36 1609.9Z" fill="none" stroke="#3a1418" stroke-width="2.5" stroke-dasharray="3.2 5.4" stroke-opacity="0.88"/>
<text x="1105.85" y="1639.6" font-size="17.5" fill="#fde7e2" text-anchor="middle">PBTTT</text>
<text x="994.32" y="1644.5" font-size="15.5" fill="#3a3a14" text-anchor="middle" stroke="#3a3a14" stroke-width="0.4">Au</text>
<text x="1217.38" y="1644.5" font-size="15.5" fill="#3a3a14" text-anchor="middle" stroke="#3a3a14" stroke-width="0.4">Au</text>
</g>
<g id="dev4">
<path d="M230.4 1787L245.41 1787L242.8 1798.3L227.36 1798.3ZM428.1 1798.3L443.54 1798.3L446.79 1810.4L430.89 1810.4ZM414.98 1810.4L430.89 1810.4L433.7 1822.59L417.32 1822.59ZM430.89 1810.4L446.79 1810.4L450.07 1822.59L433.7 1822.59ZM220.83 1822.59L237.2 1822.59L234.01 1836.47L217.1 1836.47ZM213.13 1851.24L230.6 1851.24L226.81 1867.7L208.7 1867.7ZM440.3 1851.24L457.77 1851.24L462.2 1867.7L444.09 1867.7Z" fill="#55a476" stroke="#55a476" stroke-width="0.6"/>
<path d="M245.41 1787L260.41 1787L258.24 1798.3L242.8 1798.3ZM260.41 1787L275.42 1787L273.69 1798.3L258.24 1798.3ZM395.48 1787L410.49 1787L412.66 1798.3L397.21 1798.3ZM410.49 1787L425.49 1787L428.1 1798.3L412.66 1798.3ZM425.49 1787L440.5 1787L443.54 1798.3L428.1 1798.3ZM227.36 1798.3L242.8 1798.3L240.01 1810.4L224.11 1810.4ZM242.8 1798.3L258.24 1798.3L255.92 1810.4L240.01 1810.4ZM258.24 1798.3L273.69 1798.3L271.83 1810.4L255.92 1810.4ZM397.21 1798.3L412.66 1798.3L414.98 1810.4L399.07 1810.4ZM412.66 1798.3L428.1 1798.3L430.89 1810.4L414.98 1810.4ZM224.11 1810.4L240.01 1810.4L237.2 1822.59L220.83 1822.59ZM240.01 1810.4L255.92 1810.4L253.58 1822.59L237.2 1822.59ZM255.92 1810.4L271.83 1810.4L269.95 1822.59L253.58 1822.59ZM399.07 1810.4L414.98 1810.4L417.32 1822.59L400.95 1822.59ZM237.2 1822.59L253.58 1822.59L250.91 1836.47L234.01 1836.47ZM253.58 1822.59L269.95 1822.59L267.82 1836.47L250.91 1836.47ZM400.95 1822.59L417.32 1822.59L419.99 1836.47L403.08 1836.47ZM417.32 1822.59L433.7 1822.59L436.89 1836.47L419.99 1836.47ZM433.7 1822.59L450.07 1822.59L453.8 1836.47L436.89 1836.47ZM217.1 1836.47L234.01 1836.47L230.6 1851.24L213.13 1851.24ZM234.01 1836.47L250.91 1836.47L248.08 1851.24L230.6 1851.24ZM250.91 1836.47L267.82 1836.47L265.55 1851.24L248.08 1851.24ZM403.08 1836.47L419.99 1836.47L422.82 1851.24L405.35 1851.24ZM419.99 1836.47L436.89 1836.47L440.3 1851.24L422.82 1851.24ZM436.89 1836.47L453.8 1836.47L457.77 1851.24L440.3 1851.24ZM230.6 1851.24L248.08 1851.24L244.91 1867.7L226.81 1867.7ZM248.08 1851.24L265.55 1851.24L263.02 1867.7L244.91 1867.7ZM405.35 1851.24L422.82 1851.24L425.99 1867.7L407.88 1867.7ZM422.82 1851.24L440.3 1851.24L444.09 1867.7L425.99 1867.7Z" fill="#73888f" stroke="#73888f" stroke-width="0.6"/>
<path d="M275.42 1787L290.43 1787L289.13 1798.3L273.69 1798.3ZM365.46 1787L380.47 1787L381.77 1798.3L366.33 1798.3ZM380.47 1787L395.48 1787L397.21 1798.3L381.77 1798.3ZM273.69 1798.3L289.13 1798.3L287.73 1810.4L271.83 1810.4ZM289.13 1798.3L304.57 1798.3L303.64 1810.4L287.73 1810.4ZM304.57 1798.3L320.01 1798.3L319.54 1810.4L303.64 1810.4ZM350.89 1798.3L366.33 1798.3L367.26 1810.4L351.36 1810.4ZM381.77 1798.3L397.21 1798.3L399.07 1810.4L383.17 1810.4ZM271.83 1810.4L287.73 1810.4L286.33 1822.59L269.95 1822.59ZM287.73 1810.4L303.64 1810.4L302.7 1822.59L286.33 1822.59ZM303.64 1810.4L319.54 1810.4L319.08 1822.59L302.7 1822.59ZM351.36 1810.4L367.26 1810.4L368.2 1822.59L351.82 1822.59ZM367.26 1810.4L383.17 1810.4L384.57 1822.59L368.2 1822.59ZM383.17 1810.4L399.07 1810.4L400.95 1822.59L384.57 1822.59ZM269.95 1822.59L286.33 1822.59L284.73 1836.47L267.82 1836.47ZM286.33 1822.59L302.7 1822.59L301.64 1836.47L284.73 1836.47ZM335.45 1822.59L351.82 1822.59L352.36 1836.47L335.45 1836.47ZM351.82 1822.59L368.2 1822.59L369.26 1836.47L352.36 1836.47ZM368.2 1822.59L384.57 1822.59L386.17 1836.47L369.26 1836.47ZM384.57 1822.59L400.95 1822.59L403.08 1836.47L386.17 1836.47ZM267.82 1836.47L284.73 1836.47L283.03 1851.24L265.55 1851.24ZM284.73 1836.47L301.64 1836.47L300.5 1851.24L283.03 1851.24ZM369.26 1836.47L386.17 1836.47L387.87 1851.24L370.4 1851.24ZM386.17 1836.47L403.08 1836.47L405.35 1851.24L387.87 1851.24ZM265.55 1851.24L283.03 1851.24L281.13 1867.7L263.02 1867.7ZM387.87 1851.24L405.35 1851.24L407.88 1867.7L389.77 1867.7Z" fill="#8d93a8" stroke="#8d93a8" stroke-width="0.6"/>
<path d="M290.43 1787L305.44 1787L304.57 1798.3L289.13 1798.3ZM305.44 1787L320.44 1787L320.01 1798.3L304.57 1798.3ZM320.44 1787L335.45 1787L335.45 1798.3L320.01 1798.3ZM335.45 1787L350.46 1787L350.89 1798.3L335.45 1798.3ZM350.46 1787L365.46 1787L366.33 1798.3L350.89 1798.3ZM320.01 1798.3L335.45 1798.3L335.45 1810.4L319.54 1810.4ZM335.45 1798.3L350.89 1798.3L351.36 1810.4L335.45 1810.4ZM366.33 1798.3L381.77 1798.3L383.17 1810.4L367.26 1810.4ZM319.54 1810.4L335.45 1810.4L335.45 1822.59L319.08 1822.59ZM335.45 1810.4L351.36 1810.4L351.82 1822.59L335.45 1822.59ZM302.7 1822.59L319.08 1822.59L318.54 1836.47L301.64 1836.47ZM319.08 1822.59L335.45 1822.59L335.45 1836.47L318.54 1836.47ZM301.64 1836.47L318.54 1836.47L317.98 1851.24L300.5 1851.24ZM318.54 1836.47L335.45 1836.47L335.45 1851.24L317.98 1851.24ZM335.45 1836.47L352.36 1836.47L352.92 1851.24L335.45 1851.24ZM352.36 1836.47L369.26 1836.47L370.4 1851.24L352.92 1851.24ZM283.03 1851.24L300.5 1851.24L299.24 1867.7L281.13 1867.7ZM300.5 1851.24L317.98 1851.24L317.34 1867.7L299.24 1867.7ZM317.98 1851.24L335.45 1851.24L335.45 1867.7L317.34 1867.7ZM335.45 1851.24L352.92 1851.24L353.56 1867.7L335.45 1867.7ZM352.92 1851.24L370.4 1851.24L371.66 1867.7L353.56 1867.7ZM370.4 1851.24L387.87 1851.24L389.77 1867.7L371.66 1867.7Z" fill="#9637ab" stroke="#9637ab" stroke-width="0.6"/>
<path d="M245.41 1787L226.81 1867.7M260.41 1787L244.91 1867.7M275.42 1787L263.02 1867.7M290.43 1787L281.13 1867.7M305.44 1787L299.24 1867.7M320.44 1787L317.34 1867.7M335.45 1787L335.45 1867.7M350.46 1787L353.56 1867.7M365.46 1787L371.66 1867.7M380.47 1787L389.77 1867.7M395.48 1787L407.88 1867.7M410.49 1787L425.99 1867.7M425.49 1787L444.09 1867.7M227.36 1798.3L443.54 1798.3M224.11 1810.4L446.79 1810.4M220.83 1822.59L450.07 1822.59M217.1 1836.47L453.8 1836.47M213.13 1851.24L457.77 1851.24" fill="none" stroke="#fff" stroke-opacity="0.5" stroke-width="2.3"/>
<rect x="208.7" y="1905.4" width="253.5" height="34.4" fill="url(#gsub)"/>
<text x="335.45" y="1930.45" font-size="17.5" fill="#c9d0d0" text-anchor="middle">SiO<tspan font-size="10" dy="4">2</tspan><tspan dy="-4">/Si</tspan></text>
<rect x="208.7" y="1867.7" width="56.13" height="38.2" fill="#a7d36c"/>
<rect x="241.29" y="1870.7" width="23.54" height="35.2" fill="#6fa870"/>
<rect x="208.7" y="1882" width="32.23" height="25.4" fill="#f4e02e"/>
<rect x="209.5" y="1882" width="30.63" height="23.9" fill="none" stroke="#26302c" stroke-width="2.5" stroke-dasharray="3.2 5.4" stroke-opacity="0.88"/>
<rect x="209.5" y="1867.7" width="55.33" height="38.2" fill="none" stroke="#26302c" stroke-width="2.5" stroke-dasharray="3.2 5.4" stroke-opacity="0.88"/>
<rect x="406.07" y="1867.7" width="56.13" height="38.2" fill="#a7d36c"/>
<rect x="406.07" y="1870.7" width="23.54" height="35.2" fill="#6fa870"/>
<rect x="429.97" y="1882" width="32.23" height="25.4" fill="#f4e02e"/>
<rect x="430.77" y="1882" width="30.63" height="23.9" fill="none" stroke="#26302c" stroke-width="2.5" stroke-dasharray="3.2 5.4" stroke-opacity="0.88"/>
<rect x="406.07" y="1867.7" width="55.33" height="38.2" fill="none" stroke="#26302c" stroke-width="2.5" stroke-dasharray="3.2 5.4" stroke-opacity="0.88"/>
<rect x="264.83" y="1870.2" width="141.24" height="35.7" fill="url(#gfp)"/>
<rect x="264.83" y="1867.7" width="141.24"  fill="#c9a2d8" height="3" opacity="0.9"/>
<path d="M230.4 1787L275.42 1787L263.02 1867.7L208.7 1867.7ZM395.48 1787L440.5 1787L462.2 1867.7L407.88 1867.7Z" fill="none" stroke="#26302c" stroke-width="2.5" stroke-dasharray="3.2 5.4" stroke-opacity="0.88"/>
<text x="335.45" y="1897.4" font-size="17.5" fill="#f3e6f4" text-anchor="middle">PBTTT</text>
<text x="224.27" y="1902.3" font-size="15.5" fill="#3a3a14" text-anchor="middle" stroke="#3a3a14" stroke-width="0.4">Au</text>
<text x="446.63" y="1902.3" font-size="15.5" fill="#3a3a14" text-anchor="middle" stroke="#3a3a14" stroke-width="0.4">Au</text>
</g>
<g id="dev5">
<path d="M618.2 1787.4L632.89 1787.4L630.07 1798.7L614.91 1798.7ZM632.89 1787.4L647.59 1787.4L645.24 1798.7L630.07 1798.7ZM647.59 1787.4L662.28 1787.4L660.4 1798.7L645.24 1798.7ZM794.51 1787.4L809.21 1787.4L812.03 1798.7L796.86 1798.7ZM809.21 1787.4L823.9 1787.4L827.19 1798.7L812.03 1798.7ZM614.91 1798.7L630.07 1798.7L627.05 1810.8L611.38 1810.8ZM781.7 1798.7L796.86 1798.7L799.38 1810.8L783.72 1810.8ZM796.86 1798.7L812.03 1798.7L815.05 1810.8L799.38 1810.8ZM812.03 1798.7L827.19 1798.7L830.71 1810.8L815.05 1810.8ZM611.38 1810.8L627.05 1810.8L624.01 1822.99L607.84 1822.99ZM627.05 1810.8L642.72 1810.8L640.18 1822.99L624.01 1822.99ZM642.72 1810.8L658.38 1810.8L656.36 1822.99L640.18 1822.99ZM815.05 1810.8L830.71 1810.8L834.26 1822.99L818.09 1822.99ZM607.84 1822.99L624.01 1822.99L620.55 1836.87L603.79 1836.87ZM624.01 1822.99L640.18 1822.99L637.3 1836.87L620.55 1836.87ZM640.18 1822.99L656.36 1822.99L654.05 1836.87L637.3 1836.87ZM801.92 1822.99L818.09 1822.99L821.55 1836.87L804.8 1836.87ZM818.09 1822.99L834.26 1822.99L838.31 1836.87L821.55 1836.87ZM603.79 1836.87L620.55 1836.87L616.86 1851.64L599.49 1851.64ZM620.55 1836.87L637.3 1836.87L634.22 1851.64L616.86 1851.64ZM788.05 1836.87L804.8 1836.87L807.88 1851.64L790.51 1851.64ZM804.8 1836.87L821.55 1836.87L825.24 1851.64L807.88 1851.64ZM821.55 1836.87L838.31 1836.87L842.61 1851.64L825.24 1851.64ZM599.49 1851.64L616.86 1851.64L612.75 1868.1L594.7 1868.1ZM616.86 1851.64L634.22 1851.64L630.8 1868.1L612.75 1868.1ZM807.88 1851.64L825.24 1851.64L829.35 1868.1L811.3 1868.1ZM825.24 1851.64L842.61 1851.64L847.4 1868.1L829.35 1868.1Z" fill="#9637ab" stroke="#9637ab" stroke-width="0.6"/>
<path d="M662.28 1787.4L676.97 1787.4L675.56 1798.7L660.4 1798.7ZM765.13 1787.4L779.82 1787.4L781.7 1798.7L766.54 1798.7ZM779.82 1787.4L794.51 1787.4L796.86 1798.7L781.7 1798.7ZM630.07 1798.7L645.24 1798.7L642.72 1810.8L627.05 1810.8ZM645.24 1798.7L660.4 1798.7L658.38 1810.8L642.72 1810.8ZM660.4 1798.7L675.56 1798.7L674.05 1810.8L658.38 1810.8ZM766.54 1798.7L781.7 1798.7L783.72 1810.8L768.05 1810.8ZM658.38 1810.8L674.05 1810.8L672.53 1822.99L656.36 1822.99ZM768.05 1810.8L783.72 1810.8L785.74 1822.99L769.57 1822.99ZM783.72 1810.8L799.38 1810.8L801.92 1822.99L785.74 1822.99ZM799.38 1810.8L815.05 1810.8L818.09 1822.99L801.92 1822.99ZM656.36 1822.99L672.53 1822.99L670.8 1836.87L654.05 1836.87ZM769.57 1822.99L785.74 1822.99L788.05 1836.87L771.3 1836.87ZM785.74 1822.99L801.92 1822.99L804.8 1836.87L788.05 1836.87ZM637.3 1836.87L654.05 1836.87L651.59 1851.64L634.22 1851.64ZM654.05 1836.87L670.8 1836.87L668.95 1851.64L651.59 1851.64ZM771.3 1836.87L788.05 1836.87L790.51 1851.64L773.15 1851.64ZM634.22 1851.64L651.59 1851.64L648.85 1868.1L630.8 1868.1ZM651.59 1851.64L668.95 1851.64L666.9 1868.1L648.85 1868.1ZM773.15 1851.64L790.51 1851.64L793.25 1868.1L775.2 1868.1ZM790.51 1851.64L807.88 1851.64L811.3 1868.1L793.25 1868.1Z" fill="#ef7a58" stroke="#ef7a58" stroke-width="0.6"/>
<path d="M676.97 1787.4L691.66 1787.4L690.72 1798.7L675.56 1798.7ZM691.66 1787.4L706.36 1787.4L705.89 1798.7L690.72 1798.7ZM706.36 1787.4L721.05 1787.4L721.05 1798.7L705.89 1798.7ZM721.05 1787.4L735.74 1787.4L736.21 1798.7L721.05 1798.7ZM735.74 1787.4L750.44 1787.4L751.38 1798.7L736.21 1798.7ZM750.44 1787.4L765.13 1787.4L766.54 1798.7L751.38 1798.7ZM675.56 1798.7L690.72 1798.7L689.72 1810.8L674.05 1810.8ZM690.72 1798.7L705.89 1798.7L705.38 1810.8L689.72 1810.8ZM705.89 1798.7L721.05 1798.7L721.05 1810.8L705.38 1810.8ZM721.05 1798.7L736.21 1798.7L736.72 1810.8L721.05 1810.8ZM736.21 1798.7L751.38 1798.7L752.38 1810.8L736.72 1810.8ZM751.38 1798.7L766.54 1798.7L768.05 1810.8L752.38 1810.8ZM674.05 1810.8L689.72 1810.8L688.7 1822.99L672.53 1822.99ZM689.72 1810.8L705.38 1810.8L704.88 1822.99L688.7 1822.99ZM705.38 1810.8L721.05 1810.8L721.05 1822.99L704.88 1822.99ZM721.05 1810.8L736.72 1810.8L737.22 1822.99L721.05 1822.99ZM736.72 1810.8L752.38 1810.8L753.4 1822.99L737.22 1822.99ZM752.38 1810.8L768.05 1810.8L769.57 1822.99L753.4 1822.99ZM672.53 1822.99L688.7 1822.99L687.55 1836.87L670.8 1836.87ZM688.7 1822.99L704.88 1822.99L704.3 1836.87L687.55 1836.87ZM704.88 1822.99L721.05 1822.99L721.05 1836.87L704.3 1836.87ZM721.05 1822.99L737.22 1822.99L737.8 1836.87L721.05 1836.87ZM737.22 1822.99L753.4 1822.99L754.55 1836.87L737.8 1836.87ZM753.4 1822.99L769.57 1822.99L771.3 1836.87L754.55 1836.87ZM670.8 1836.87L687.55 1836.87L686.32 1851.64L668.95 1851.64ZM687.55 1836.87L704.3 1836.87L703.68 1851.64L686.32 1851.64ZM704.3 1836.87L721.05 1836.87L721.05 1851.64L703.68 1851.64ZM721.05 1836.87L737.8 1836.87L738.42 1851.64L721.05 1851.64ZM737.8 1836.87L754.55 1836.87L755.78 1851.64L738.42 1851.64ZM754.55 1836.87L771.3 1836.87L773.15 1851.64L755.78 1851.64ZM668.95 1851.64L686.32 1851.64L684.95 1868.1L666.9 1868.1ZM686.32 1851.64L703.68 1851.64L703 1868.1L684.95 1868.1ZM703.68 1851.64L721.05 1851.64L721.05 1868.1L703 1868.1ZM721.05 1851.64L738.42 1851.64L739.1 1868.1L721.05 1868.1ZM738.42 1851.64L755.78 1851.64L757.15 1868.1L739.1 1868.1ZM755.78 1851.64L773.15 1851.64L775.2 1868.1L757.15 1868.1Z" fill="#ff3d20" stroke="#ff3d20" stroke-width="0.6"/>
<path d="M632.89 1787.4L612.75 1868.1M647.59 1787.4L630.8 1868.1M662.28 1787.4L648.85 1868.1M676.97 1787.4L666.9 1868.1M691.66 1787.4L684.95 1868.1M706.36 1787.4L703 1868.1M721.05 1787.4L721.05 1868.1M735.74 1787.4L739.1 1868.1M750.44 1787.4L757.15 1868.1M765.13 1787.4L775.2 1868.1M779.82 1787.4L793.25 1868.1M794.51 1787.4L811.3 1868.1M809.21 1787.4L829.35 1868.1M614.91 1798.7L827.19 1798.7M611.38 1810.8L830.71 1810.8M607.84 1822.99L834.26 1822.99M603.79 1836.87L838.31 1836.87M599.49 1851.64L842.61 1851.64" fill="none" stroke="#fff" stroke-opacity="0.5" stroke-width="2.3"/>
<rect x="594.7" y="1905.8" width="252.7" height="34.4" fill="url(#gsub)"/>
<text x="721.05" y="1930.85" font-size="17.5" fill="#c9d0d0" text-anchor="middle">SiO<tspan font-size="10" dy="4">2</tspan><tspan dy="-4">/Si</tspan></text>
<rect x="594.7" y="1870.6" width="252.7" height="35.7" fill="url(#gfs)"/>
<rect x="594.7" y="1868.1" width="252.7" height="3.5" fill="#c9a2d8" opacity="0.9"/>
<rect x="592.9" y="1883.1" width="32.49" height="27.2" fill="#f4e02e"/>
<rect x="816.71" y="1883.1" width="32.49" height="27.2" fill="#f4e02e"/>
<rect x="666.9" y="1870.6" width="108.3" height="35.7" fill="url(#gfr)"/>
<rect x="666.9" y="1868.6" width="108.3" height="37.2" fill="none" stroke="#3a1418" stroke-width="2.5" stroke-dasharray="3.2 5.4" stroke-opacity="0.88"/>
<path d="M676.97 1787.4L765.13 1787.4L775.2 1868.1L666.9 1868.1Z" fill="none" stroke="#3a1418" stroke-width="2.5" stroke-dasharray="3.2 5.4" stroke-opacity="0.88"/>
<text x="721.05" y="1897.8" font-size="17.5" fill="#fde7e2" text-anchor="middle">PBTTT</text>
<text x="610.22" y="1902.7" font-size="15.5" fill="#3a3a14" text-anchor="middle" stroke="#3a3a14" stroke-width="0.4">Au</text>
<text x="831.88" y="1902.7" font-size="15.5" fill="#3a3a14" text-anchor="middle" stroke="#3a3a14" stroke-width="0.4">Au</text>
</g>
<g id="dev6">
<path d="M1000.4 1786.6L1015.34 1786.6L1012.66 1797.9L997.26 1797.9ZM1015.34 1786.6L1030.27 1786.6L1028.05 1797.9L1012.66 1797.9ZM1179.63 1786.6L1194.56 1786.6L1197.4 1797.9L1182 1797.9ZM1194.56 1786.6L1209.5 1786.6L1212.79 1797.9L1197.4 1797.9ZM1182 1797.9L1197.4 1797.9L1200.43 1810L1184.54 1810ZM1197.4 1797.9L1212.79 1797.9L1216.32 1810L1200.43 1810ZM993.9 1810L1009.79 1810L1006.9 1822.19L990.52 1822.19ZM1206.96 1836.07L1223.91 1836.07L1228.21 1850.84L1210.66 1850.84ZM982.57 1850.84L1000.12 1850.84L996.21 1867.3L978 1867.3ZM1210.66 1850.84L1228.21 1850.84L1233 1867.3L1214.79 1867.3Z" fill="#55a476" stroke="#55a476" stroke-width="0.6"/>
<path d="M1030.27 1786.6L1045.21 1786.6L1043.45 1797.9L1028.05 1797.9ZM1164.69 1786.6L1179.63 1786.6L1182 1797.9L1166.61 1797.9ZM997.26 1797.9L1012.66 1797.9L1009.79 1810L993.9 1810ZM1012.66 1797.9L1028.05 1797.9L1025.68 1810L1009.79 1810ZM1028.05 1797.9L1043.45 1797.9L1041.56 1810L1025.68 1810ZM1166.61 1797.9L1182 1797.9L1184.54 1810L1168.66 1810ZM1009.79 1810L1025.68 1810L1023.28 1822.19L1006.9 1822.19ZM1025.68 1810L1041.56 1810L1039.67 1822.19L1023.28 1822.19ZM1168.66 1810L1184.54 1810L1187.1 1822.19L1170.72 1822.19ZM1184.54 1810L1200.43 1810L1203.48 1822.19L1187.1 1822.19ZM1200.43 1810L1216.32 1810L1219.86 1822.19L1203.48 1822.19ZM990.52 1822.19L1006.9 1822.19L1003.61 1836.07L986.67 1836.07ZM1006.9 1822.19L1023.28 1822.19L1020.56 1836.07L1003.61 1836.07ZM1023.28 1822.19L1039.67 1822.19L1037.51 1836.07L1020.56 1836.07ZM1170.72 1822.19L1187.1 1822.19L1190.01 1836.07L1173.07 1836.07ZM1187.1 1822.19L1203.48 1822.19L1206.96 1836.07L1190.01 1836.07ZM1203.48 1822.19L1219.86 1822.19L1223.91 1836.07L1206.96 1836.07ZM986.67 1836.07L1003.61 1836.07L1000.12 1850.84L982.57 1850.84ZM1003.61 1836.07L1020.56 1836.07L1017.66 1850.84L1000.12 1850.84ZM1020.56 1836.07L1037.51 1836.07L1035.21 1850.84L1017.66 1850.84ZM1173.07 1836.07L1190.01 1836.07L1193.12 1850.84L1175.57 1850.84ZM1190.01 1836.07L1206.96 1836.07L1210.66 1850.84L1193.12 1850.84ZM1000.12 1850.84L1017.66 1850.84L1014.43 1867.3L996.21 1867.3ZM1017.66 1850.84L1035.21 1850.84L1032.64 1867.3L1014.43 1867.3ZM1175.57 1850.84L1193.12 1850.84L1196.57 1867.3L1178.36 1867.3ZM1193.12 1850.84L1210.66 1850.84L1214.79 1867.3L1196.57 1867.3Z" fill="#8483a3" stroke="#8483a3" stroke-width="0.6"/>
<path d="M1045.21 1786.6L1060.14 1786.6L1058.84 1797.9L1043.45 1797.9ZM1149.76 1786.6L1164.69 1786.6L1166.61 1797.9L1151.21 1797.9ZM1043.45 1797.9L1058.84 1797.9L1057.45 1810L1041.56 1810ZM1151.21 1797.9L1166.61 1797.9L1168.66 1810L1152.77 1810ZM1041.56 1810L1057.45 1810L1056.05 1822.19L1039.67 1822.19ZM1152.77 1810L1168.66 1810L1170.72 1822.19L1154.34 1822.19ZM1039.67 1822.19L1056.05 1822.19L1054.45 1836.07L1037.51 1836.07ZM1154.34 1822.19L1170.72 1822.19L1173.07 1836.07L1156.12 1836.07ZM1037.51 1836.07L1054.45 1836.07L1052.75 1850.84L1035.21 1850.84ZM1156.12 1836.07L1173.07 1836.07L1175.57 1850.84L1158.02 1850.84ZM1035.21 1850.84L1052.75 1850.84L1050.86 1867.3L1032.64 1867.3ZM1158.02 1850.84L1175.57 1850.84L1178.36 1867.3L1160.14 1867.3Z" fill="#ee8b3c" stroke="#ee8b3c" stroke-width="0.6"/>
<path d="M1060.14 1786.6L1075.08 1786.6L1074.24 1797.9L1058.84 1797.9ZM1075.08 1786.6L1090.01 1786.6L1089.63 1797.9L1074.24 1797.9ZM1090.01 1786.6L1104.95 1786.6L1105.03 1797.9L1089.63 1797.9ZM1104.95 1786.6L1119.89 1786.6L1120.42 1797.9L1105.03 1797.9ZM1119.89 1786.6L1134.82 1786.6L1135.82 1797.9L1120.42 1797.9ZM1134.82 1786.6L1149.76 1786.6L1151.21 1797.9L1135.82 1797.9ZM1058.84 1797.9L1074.24 1797.9L1073.34 1810L1057.45 1810ZM1074.24 1797.9L1089.63 1797.9L1089.22 1810L1073.34 1810ZM1089.63 1797.9L1105.03 1797.9L1105.11 1810L1089.22 1810ZM1105.03 1797.9L1120.42 1797.9L1121 1810L1105.11 1810ZM1120.42 1797.9L1135.82 1797.9L1136.88 1810L1121 1810ZM1135.82 1797.9L1151.21 1797.9L1152.77 1810L1136.88 1810ZM1057.45 1810L1073.34 1810L1072.43 1822.19L1056.05 1822.19ZM1073.34 1810L1089.22 1810L1088.81 1822.19L1072.43 1822.19ZM1089.22 1810L1105.11 1810L1105.19 1822.19L1088.81 1822.19ZM1105.11 1810L1121 1810L1121.57 1822.19L1105.19 1822.19ZM1121 1810L1136.88 1810L1137.96 1822.19L1121.57 1822.19ZM1136.88 1810L1152.77 1810L1154.34 1822.19L1137.96 1822.19ZM1056.05 1822.19L1072.43 1822.19L1071.4 1836.07L1054.45 1836.07ZM1072.43 1822.19L1088.81 1822.19L1088.34 1836.07L1071.4 1836.07ZM1088.81 1822.19L1105.19 1822.19L1105.29 1836.07L1088.34 1836.07ZM1105.19 1822.19L1121.57 1822.19L1122.23 1836.07L1105.29 1836.07ZM1121.57 1822.19L1137.96 1822.19L1139.18 1836.07L1122.23 1836.07ZM1137.96 1822.19L1154.34 1822.19L1156.12 1836.07L1139.18 1836.07ZM1054.45 1836.07L1071.4 1836.07L1070.3 1850.84L1052.75 1850.84ZM1071.4 1836.07L1088.34 1836.07L1087.84 1850.84L1070.3 1850.84ZM1088.34 1836.07L1105.29 1836.07L1105.39 1850.84L1087.84 1850.84ZM1105.29 1836.07L1122.23 1836.07L1122.93 1850.84L1105.39 1850.84ZM1122.23 1836.07L1139.18 1836.07L1140.48 1850.84L1122.93 1850.84ZM1139.18 1836.07L1156.12 1836.07L1158.02 1850.84L1140.48 1850.84ZM1052.75 1850.84L1070.3 1850.84L1069.07 1867.3L1050.86 1867.3ZM1070.3 1850.84L1087.84 1850.84L1087.29 1867.3L1069.07 1867.3ZM1087.84 1850.84L1105.39 1850.84L1105.5 1867.3L1087.29 1867.3ZM1105.39 1850.84L1122.93 1850.84L1123.71 1867.3L1105.5 1867.3ZM1122.93 1850.84L1140.48 1850.84L1141.93 1867.3L1123.71 1867.3ZM1140.48 1850.84L1158.02 1850.84L1160.14 1867.3L1141.93 1867.3Z" fill="#ff3d20" stroke="#ff3d20" stroke-width="0.6"/>
<path d="M1015.34 1786.6L996.21 1867.3M1030.27 1786.6L1014.43 1867.3M1045.21 1786.6L1032.64 1867.3M1060.14 1786.6L1050.86 1867.3M1075.08 1786.6L1069.07 1867.3M1090.01 1786.6L1087.29 1867.3M1104.95 1786.6L1105.5 1867.3M1119.89 1786.6L1123.71 1867.3M1134.82 1786.6L1141.93 1867.3M1149.76 1786.6L1160.14 1867.3M1164.69 1786.6L1178.36 1867.3M1179.63 1786.6L1196.57 1867.3M1194.56 1786.6L1214.79 1867.3M997.26 1797.9L1212.79 1797.9M993.9 1810L1216.32 1810M990.52 1822.19L1219.86 1822.19M986.67 1836.07L1223.91 1836.07M982.57 1850.84L1228.21 1850.84" fill="none" stroke="#fff" stroke-opacity="0.5" stroke-width="2.3"/>
<rect x="978" y="1905" width="255" height="34.4" fill="url(#gsub)"/>
<text x="1105.5" y="1930.05" font-size="17.5" fill="#c9d0d0" text-anchor="middle">SiO<tspan font-size="10" dy="4">2</tspan><tspan dy="-4">/Si</tspan></text>
<rect x="978" y="1867.3" width="56.46" height="38.2" fill="#a7d36c"/>
<rect x="1010.79" y="1870.3" width="23.68" height="35.2" fill="#6fa870"/>
<rect x="978" y="1881.6" width="32.42" height="25.4" fill="#f4e02e"/>
<rect x="978.8" y="1881.6" width="30.82" height="23.9" fill="none" stroke="#26302c" stroke-width="2.5" stroke-dasharray="3.2 5.4" stroke-opacity="0.88"/>
<rect x="978.8" y="1867.3" width="55.66" height="38.2" fill="none" stroke="#26302c" stroke-width="2.5" stroke-dasharray="3.2 5.4" stroke-opacity="0.88"/>
<rect x="1176.54" y="1867.3" width="56.46" height="38.2" fill="#a7d36c"/>
<rect x="1176.54" y="1870.3" width="23.68" height="35.2" fill="#6fa870"/>
<rect x="1200.58" y="1881.6" width="32.42" height="25.4" fill="#f4e02e"/>
<rect x="1201.38" y="1881.6" width="30.82" height="23.9" fill="none" stroke="#26302c" stroke-width="2.5" stroke-dasharray="3.2 5.4" stroke-opacity="0.88"/>
<rect x="1176.54" y="1867.3" width="55.66" height="38.2" fill="none" stroke="#26302c" stroke-width="2.5" stroke-dasharray="3.2 5.4" stroke-opacity="0.88"/>
<rect x="1034.46" y="1869.8" width="142.07" height="35.7" fill="#e39a4e"/>
<rect x="1051.77" y="1869.8" width="107.46" height="35.7" fill="url(#gfr)"/>
<rect x="1034.46" y="1867.3" width="142.07" height="3" fill="#e9b0c8" opacity="0.8"/>
<rect x="1051.77" y="1867.8" width="107.46" height="37.7" fill="none" stroke="#3a1418" stroke-width="2.5" stroke-dasharray="3.2 5.4" stroke-opacity="0.88"/>
<path d="M1000.4 1786.6L1045.21 1786.6L1032.64 1867.3L978 1867.3ZM1164.69 1786.6L1209.5 1786.6L1233 1867.3L1178.36 1867.3Z" fill="none" stroke="#26302c" stroke-width="2.5" stroke-dasharray="3.2 5.4" stroke-opacity="0.88"/>
<path d="M1045.21 1786.6L1060.14 1786.6L1050.86 1867.3L1032.64 1867.3Z" fill="none" stroke="#111" stroke-width="2.4" stroke-linejoin="round"/>
<rect x="1032.64" y="1867.3" width="18.21" height="38.2" fill="none" stroke="#111" stroke-width="2.4"/>
<path d="M1149.76 1786.6L1164.69 1786.6L1178.36 1867.3L1160.14 1867.3Z" fill="none" stroke="#111" stroke-width="2.4" stroke-linejoin="round"/>
<rect x="1160.14" y="1867.3" width="18.21" height="38.2" fill="none" stroke="#111" stroke-width="2.4"/>
<text x="1105.5" y="1897" font-size="17.5" fill="#fde7e2" text-anchor="middle">PBTTT</text>
<text x="993.66" y="1901.9" font-size="15.5" fill="#3a3a14" text-anchor="middle" stroke="#3a3a14" stroke-width="0.4">Au</text>
<text x="1217.34" y="1901.9" font-size="15.5" fill="#3a3a14" text-anchor="middle" stroke="#3a3a14" stroke-width="0.4">Au</text>
</g>
</g>
</g>
<g filter="url(#sf)">
<g id="panel-e-right">
<defs><linearGradient id="ggbox" x1="0" y1="0" x2="1" y2="0"><stop offset="0" stop-color="#eef8f0"/><stop offset="0.1" stop-color="#d3eedb"/><stop offset="0.3" stop-color="#b4e4c4"/><stop offset="0.6" stop-color="#a7e0bb"/><stop offset="1" stop-color="#a5dfb9"/></linearGradient><linearGradient id="grbox" x1="0" y1="0" x2="1" y2="0"><stop offset="0" stop-color="#f9adbb"/><stop offset="0.12" stop-color="#fb8a7c"/><stop offset="0.35" stop-color="#fe6f4c"/><stop offset="1" stop-color="#ff6238"/></linearGradient><linearGradient id="ggar" x1="0" y1="0" x2="1" y2="0"><stop offset="0" stop-color="#2aa046"/><stop offset="0.45" stop-color="#36aa48"/><stop offset="0.75" stop-color="#6cc24c"/><stop offset="1" stop-color="#98d450"/></linearGradient><linearGradient id="gxx" x1="0" y1="0" x2="1" y2="0"><stop offset="0" stop-color="#f9a4a4"/><stop offset="0.45" stop-color="#fb5a4a"/><stop offset="1" stop-color="#ff3018"/></linearGradient><linearGradient id="gtar" x1="0" y1="1" x2="0" y2="0"><stop offset="0" stop-color="#ffe83c"/><stop offset="0.35" stop-color="#ffd23a"/><stop offset="0.7" stop-color="#ff7a2c"/><stop offset="1" stop-color="#ff3f22"/></linearGradient><linearGradient id="gp1" x1="0" y1="0" x2="1" y2="0"><stop offset="0" stop-color="#cdeab6"/><stop offset="0.2" stop-color="#d6eec6"/><stop offset="0.5" stop-color="#ffffff"/><stop offset="0.8" stop-color="#d6eec6"/><stop offset="1" stop-color="#cdeab6"/></linearGradient><linearGradient id="gp1s" x1="0" y1="0" x2="1" y2="0"><stop offset="0" stop-color="#9bd466"/><stop offset="0.5" stop-color="#a6da78"/><stop offset="1" stop-color="#93d05e"/></linearGradient><linearGradient id="gp2" x1="0" y1="0" x2="1" y2="0"><stop offset="0" stop-color="#fff4f5"/><stop offset="0.1" stop-color="#ffd6da"/><stop offset="0.27" stop-color="#ffa8b0"/><stop offset="0.4" stop-color="#ff8690"/><stop offset="0.6" stop-color="#ff8690"/><stop offset="0.73" stop-color="#ffa8b0"/><stop offset="0.9" stop-color="#ffd6da"/><stop offset="1" stop-color="#fff4f5"/></linearGradient><linearGradient id="gp3" x1="0" y1="0" x2="1" y2="0"><stop offset="0" stop-color="#8fd05c"/><stop offset="0.06" stop-color="#a4d97a"/><stop offset="0.15" stop-color="#f2faea"/><stop offset="0.185" stop-color="#ffe08a"/><stop offset="0.21" stop-color="#ffc232"/><stop offset="0.245" stop-color="#ffc232"/><stop offset="0.275" stop-color="#ffe08a"/><stop offset="0.31" stop-color="#fffaf6"/><stop offset="0.40" stop-color="#ffc0c6"/><stop offset="0.5" stop-color="#ff8690"/><stop offset="0.60" stop-color="#ffc0c6"/><stop offset="0.69" stop-color="#fffaf6"/><stop offset="0.725" stop-color="#ffe08a"/><stop offset="0.755" stop-color="#ffc232"/><stop offset="0.79" stop-color="#ffc232"/><stop offset="0.815" stop-color="#ffe08a"/><stop offset="0.85" stop-color="#f2faea"/><stop offset="0.94" stop-color="#a4d97a"/><stop offset="1" stop-color="#8fd05c"/></linearGradient></defs>
<path d="M1163 1786.5L1342.5 1572M1178.5 1903.5L1342.5 2069.5" fill="none" stroke="#0a0a0a" stroke-width="3.6"/>
<rect x="1342.3" y="1497.6" width="720.2" height="665.2" rx="98" fill="#fff" stroke="#0a0a0a" stroke-width="3.3"/>
<path d="M1504.4 1566.5H2011.1V1749H1504.4ZM1757 1566.5V1749" fill="none" stroke="#8b3ea9" stroke-width="7.4" stroke-dasharray="11.5 12.2" opacity="0.92"/>
<path d="M1394.6 1606.3L1504.4 1566.5M1394.6 1788.8L1504.4 1749M1649.2 1606.3L1759 1566.5M1649.2 1788.8L1759 1749M1901.3 1606.3L2011.1 1566.5M1901.3 1788.8L2011.1 1749" fill="none" stroke="#8b3ea9" stroke-width="7.8" stroke-dasharray="12 11"/>
<path d="M1394.6 1606.3H1901.3V1788.8H1394.6ZM1649.2 1606.3V1788.8" fill="none" stroke="#8b3ea9" stroke-width="7.4" stroke-dasharray="11.5 12.2"/>
<path d="M1504.4 1871H2011.1V2053.5H1504.4ZM1757 1871V2053.5" fill="none" stroke="#8b3ea9" stroke-width="7.4" stroke-dasharray="11.5 12.2" opacity="0.92"/>
<path d="M1394.6 1910.8L1504.4 1871M1394.6 2093.3L1504.4 2053.5M1649.2 1910.8L1759 1871M1649.2 2093.3L1759 2053.5M1901.3 1910.8L2011.1 1871M1901.3 2093.3L2011.1 2053.5" fill="none" stroke="#8b3ea9" stroke-width="7.8" stroke-dasharray="12 11"/>
<path d="M1394.6 1910.8H1901.3V2093.3H1394.6ZM1649.2 1910.8V2093.3" fill="none" stroke="#8b3ea9" stroke-width="7.4" stroke-dasharray="11.5 12.2"/>
<ellipse cx="1531.9" cy="1696.2" rx="71.5" ry="36" fill="none" stroke="#111" stroke-width="4.2" stroke-dasharray="4.2 4.6"/>
<path d="M1614.2 1697.2L1652 1674.2V1688.6H1700V1705.8H1652V1720.2Z" fill="url(#ggar)"/>
<rect x="1705.5" y="1628.9" width="199" height="132.4" rx="11" fill="#a9d48e"/><rect x="1701.5" y="1627.4" width="194.5" height="133.4" rx="10" fill="url(#ggbox)"/>
<g fill="none" stroke="#0c0c0c" stroke-width="2.7" stroke-linecap="round"><path d="M1816.1 1697.4L1806.35 1715.47M1806.35 1715.47L1786.85 1715.47M1786.85 1715.47L1777.1 1697.4M1777.1 1697.4L1786.85 1679.33M1786.85 1679.33L1806.35 1679.33M1806.35 1679.33L1816.1 1697.4M1790.05 1682.97L1803.14 1682.97M1790.05 1711.83L1803.14 1711.83M1816.1 1695.37L1835.7 1695.37M1817.1 1699.43L1835.7 1699.43M1835.7 1697.4L1844.85 1714.36M1855.75 1728.01L1860.4 1736.63M1853.1 1729.65L1857.75 1738.27M1850.45 1731.28L1855.1 1739.9M1835.7 1697.4L1844.85 1680.44M1850.45 1663.52L1855.1 1654.9M1853.1 1665.15L1857.75 1656.53M1855.75 1666.79L1860.4 1658.17M1806.35 1715.47L1813.1 1727.98M1806.35 1679.33L1813.1 1666.82M1777.1 1695.37L1757.5 1695.37M1776.1 1699.43L1757.5 1699.43M1757.5 1697.4L1748.35 1714.36M1742.75 1731.28L1738.1 1739.9M1740.1 1729.65L1735.45 1738.27M1737.45 1728.01L1732.8 1736.63M1757.5 1697.4L1748.35 1680.44M1737.45 1666.79L1732.8 1658.17M1740.1 1665.15L1735.45 1656.53M1742.75 1663.52L1738.1 1654.9M1786.85 1715.47L1780.1 1727.98M1786.85 1679.33L1780.1 1666.82"/></g><g font-size="16" fill="#0c0c0c" text-anchor="middle" font-weight="bold"><text x="1862.5" y="1752.8">N</text><text x="1849.1" y="1727.96">C</text><text x="1862.5" y="1653.46">N</text><text x="1849.1" y="1678.29">C</text><text x="1818.35" y="1743.44">F</text><text x="1818.35" y="1662.82">F</text><text x="1730.7" y="1752.8">N</text><text x="1744.1" y="1727.96">C</text><text x="1730.7" y="1653.46">N</text><text x="1744.1" y="1678.29">C</text><text x="1774.85" y="1743.44">F</text><text x="1774.85" y="1662.82">F</text></g>
<rect x="1431" y="1929.3" width="198.5" height="130.2" rx="11" fill="#e08a78"/><rect x="1427" y="1927.8" width="194" height="131.2" rx="10" fill="url(#grbox)"/>
<g fill="none" stroke="#0c0c0c" stroke-width="2.7" stroke-linecap="round"><path d="M1541.9 1997.2L1532.15 2015.27M1532.15 2015.27L1512.65 2015.27M1512.65 2015.27L1502.9 1997.2M1502.9 1997.2L1512.65 1979.13M1512.65 1979.13L1532.15 1979.13M1532.15 1979.13L1541.9 1997.2M1515.86 1982.77L1528.95 1982.77M1515.86 2011.63L1528.95 2011.63M1541.9 1995.17L1561.5 1995.17M1542.9 1999.23L1561.5 1999.23M1561.5 1997.2L1570.65 2014.16M1581.55 2027.81L1586.2 2036.43M1578.9 2029.45L1583.55 2038.07M1576.25 2031.08L1580.9 2039.7M1561.5 1997.2L1570.65 1980.24M1576.25 1963.32L1580.9 1954.7M1578.9 1964.95L1583.55 1956.33M1581.55 1966.59L1586.2 1957.97M1502.9 1995.17L1483.3 1995.17M1501.9 1999.23L1483.3 1999.23M1483.3 1997.2L1474.15 2014.16M1468.55 2031.08L1463.9 2039.7M1465.9 2029.45L1461.25 2038.07M1463.25 2027.81L1458.6 2036.43M1483.3 1997.2L1474.15 1980.24M1463.25 1966.59L1458.6 1957.97M1465.9 1964.95L1461.25 1956.33M1468.55 1963.32L1463.9 1954.7"/></g><g font-size="16" fill="#0c0c0c" text-anchor="middle" font-weight="bold"><text x="1588.3" y="2052.6">N</text><text x="1574.9" y="2027.76">C</text><text x="1588.3" y="1953.26">N</text><text x="1574.9" y="1978.09">C</text><text x="1456.5" y="2052.6">N</text><text x="1469.9" y="2027.76">C</text><text x="1456.5" y="1953.26">N</text><text x="1469.9" y="1978.09">C</text></g>
<rect x="1705.5" y="1928.1" width="197.5" height="129.4" rx="11" fill="#a9d48e"/><rect x="1701.5" y="1926.6" width="193" height="130.4" rx="10" fill="url(#ggbox)"/>
<g fill="none" stroke="#0c0c0c" stroke-width="2.7" stroke-linecap="round"><path d="M1816.1 1995.3L1806.35 2013.37M1806.35 2013.37L1786.85 2013.37M1786.85 2013.37L1777.1 1995.3M1777.1 1995.3L1786.85 1977.23M1786.85 1977.23L1806.35 1977.23M1806.35 1977.23L1816.1 1995.3M1790.05 1980.87L1803.14 1980.87M1790.05 2009.73L1803.14 2009.73M1816.1 1993.27L1835.7 1993.27M1817.1 1997.33L1835.7 1997.33M1835.7 1995.3L1844.85 2012.26M1855.75 2025.91L1860.4 2034.53M1853.1 2027.55L1857.75 2036.17M1850.45 2029.18L1855.1 2037.8M1835.7 1995.3L1844.85 1978.34M1850.45 1961.42L1855.1 1952.8M1853.1 1963.05L1857.75 1954.43M1855.75 1964.69L1860.4 1956.07M1806.35 2013.37L1813.1 2025.88M1806.35 1977.23L1813.1 1964.72M1777.1 1993.27L1757.5 1993.27M1776.1 1997.33L1757.5 1997.33M1757.5 1995.3L1748.35 2012.26M1742.75 2029.18L1738.1 2037.8M1740.1 2027.55L1735.45 2036.17M1737.45 2025.91L1732.8 2034.53M1757.5 1995.3L1748.35 1978.34M1737.45 1964.69L1732.8 1956.07M1740.1 1963.05L1735.45 1954.43M1742.75 1961.42L1738.1 1952.8M1786.85 2013.37L1780.1 2025.88M1786.85 1977.23L1780.1 1964.72"/></g><g font-size="16" fill="#0c0c0c" text-anchor="middle" font-weight="bold"><text x="1862.5" y="2050.7">N</text><text x="1849.1" y="2025.86">C</text><text x="1862.5" y="1951.36">N</text><text x="1849.1" y="1976.19">C</text><text x="1818.35" y="2041.34">F</text><text x="1818.35" y="1960.72">F</text><text x="1730.7" y="2050.7">N</text><text x="1744.1" y="2025.86">C</text><text x="1730.7" y="1951.36">N</text><text x="1744.1" y="1976.19">C</text><text x="1774.85" y="2041.34">F</text><text x="1774.85" y="1960.72">F</text></g>
<path d="M1626.8 1997.4L1664 1975.9V1989H1698.5V2005.8H1664V2018.9Z" fill="url(#ggar)"/>
<path d="M1639 1968L1694 2026M1694 1968L1639 2026" fill="none" stroke="url(#gxx)" stroke-width="7.6" opacity="0.95"/>
<rect x="205.1" y="2081" width="264.9" height="150.3" fill="url(#gp1s)"/>
<rect x="249.5" y="2081" width="177" height="150.3" fill="url(#gp1)"/>
<path d="M205.1 2109.8H249.5V2224.7H426.5V2109.8H470" fill="none" stroke="#111" stroke-width="2.2"/>
<path d="M250.5 2173.41C251.23 2174.06 253.42 2176.02 254.88 2177.31C256.33 2178.59 257.79 2179.86 259.25 2181.1C260.71 2182.35 262.17 2183.58 263.62 2184.8C265.08 2186.01 266.54 2187.2 268 2188.38C269.46 2189.55 270.92 2190.71 272.38 2191.84C273.83 2192.98 275.29 2194.1 276.75 2195.19C278.21 2196.28 279.67 2197.36 281.12 2198.41C282.58 2199.46 284.04 2200.49 285.5 2201.49C286.96 2202.49 288.42 2203.48 289.88 2204.43C291.33 2205.39 292.79 2206.32 294.25 2207.22C295.71 2208.12 297.17 2209 298.62 2209.84C300.08 2210.69 301.54 2211.5 303 2212.28C304.46 2213.07 305.92 2213.82 307.38 2214.53C308.83 2215.24 310.29 2215.92 311.75 2216.55C313.21 2217.19 314.67 2217.79 316.12 2218.33C317.58 2218.88 319.04 2219.38 320.5 2219.82C321.96 2220.26 323.42 2220.66 324.88 2220.98C326.33 2221.3 327.79 2221.56 329.25 2221.76C330.71 2221.95 332.17 2222.06 333.62 2222.13C335.08 2222.2 336.54 2222.2 338 2222.2C339.46 2222.2 340.92 2222.2 342.38 2222.13C343.83 2222.06 345.29 2221.95 346.75 2221.76C348.21 2221.56 349.67 2221.3 351.12 2220.98C352.58 2220.66 354.04 2220.26 355.5 2219.82C356.96 2219.38 358.42 2218.88 359.88 2218.33C361.33 2217.79 362.79 2217.19 364.25 2216.55C365.71 2215.92 367.17 2215.24 368.62 2214.53C370.08 2213.82 371.54 2213.07 373 2212.28C374.46 2211.5 375.92 2210.69 377.38 2209.84C378.83 2209 380.29 2208.12 381.75 2207.22C383.21 2206.32 384.67 2205.39 386.12 2204.43C387.58 2203.48 389.04 2202.49 390.5 2201.49C391.96 2200.49 393.42 2199.46 394.88 2198.41C396.33 2197.36 397.79 2196.28 399.25 2195.19C400.71 2194.1 402.17 2192.98 403.62 2191.84C405.08 2190.71 406.54 2189.55 408 2188.38C409.46 2187.2 410.92 2186.01 412.38 2184.8C413.83 2183.58 415.29 2182.35 416.75 2181.1C418.21 2179.86 419.67 2178.59 421.12 2177.31C422.58 2176.02 424.77 2174.06 425.5 2173.41" fill="none" stroke="#0e1a4a" stroke-width="2.2"/>
<path d="M250.5 2154.79C251.23 2155.71 253.42 2158.51 254.88 2160.32C256.33 2162.14 257.79 2163.94 259.25 2165.7C260.71 2167.46 262.17 2169.2 263.62 2170.91C265.08 2172.62 266.54 2174.3 268 2175.95C269.46 2177.59 270.92 2179.21 272.38 2180.8C273.83 2182.39 275.29 2183.95 276.75 2185.47C278.21 2186.99 279.67 2188.48 281.12 2189.94C282.58 2191.4 284.04 2192.82 285.5 2194.2C286.96 2195.59 288.42 2196.94 289.88 2198.25C291.33 2199.56 292.79 2200.83 294.25 2202.06C295.71 2203.29 297.17 2204.48 298.62 2205.63C300.08 2206.77 301.54 2207.87 303 2208.92C304.46 2209.98 305.92 2210.98 307.38 2211.93C308.83 2212.88 310.29 2213.78 311.75 2214.61C313.21 2215.45 314.67 2216.23 316.12 2216.94C317.58 2217.65 319.04 2218.3 320.5 2218.86C321.96 2219.43 323.42 2219.92 324.88 2220.33C326.33 2220.73 327.79 2221.05 329.25 2221.28C330.71 2221.52 332.17 2221.64 333.62 2221.72C335.08 2221.81 336.54 2221.8 338 2221.8C339.46 2221.8 340.92 2221.81 342.38 2221.72C343.83 2221.64 345.29 2221.52 346.75 2221.28C348.21 2221.05 349.67 2220.73 351.12 2220.33C352.58 2219.92 354.04 2219.43 355.5 2218.86C356.96 2218.3 358.42 2217.65 359.88 2216.94C361.33 2216.23 362.79 2215.45 364.25 2214.61C365.71 2213.78 367.17 2212.88 368.62 2211.93C370.08 2210.98 371.54 2209.98 373 2208.92C374.46 2207.87 375.92 2206.77 377.38 2205.63C378.83 2204.48 380.29 2203.29 381.75 2202.06C383.21 2200.83 384.67 2199.56 386.12 2198.25C387.58 2196.94 389.04 2195.59 390.5 2194.2C391.96 2192.82 393.42 2191.4 394.88 2189.94C396.33 2188.48 397.79 2186.99 399.25 2185.47C400.71 2183.95 402.17 2182.39 403.62 2180.8C405.08 2179.21 406.54 2177.59 408 2175.95C409.46 2174.3 410.92 2172.62 412.38 2170.91C413.83 2169.2 415.29 2167.46 416.75 2165.7C418.21 2163.94 419.67 2162.14 421.12 2160.32C422.58 2158.51 424.77 2155.71 425.5 2154.79" fill="none" stroke="#14287a" stroke-width="2.3"/>
<path d="M250.5 2145.51C251.23 2146.59 253.42 2149.86 254.88 2151.98C256.33 2154.11 257.79 2156.2 259.25 2158.25C260.71 2160.3 262.17 2162.32 263.62 2164.3C265.08 2166.28 266.54 2168.23 268 2170.14C269.46 2172.04 270.92 2173.91 272.38 2175.74C273.83 2177.57 275.29 2179.36 276.75 2181.1C278.21 2182.85 279.67 2184.56 281.12 2186.22C282.58 2187.88 284.04 2189.5 285.5 2191.08C286.96 2192.65 288.42 2194.18 289.88 2195.66C291.33 2197.14 292.79 2198.58 294.25 2199.96C295.71 2201.34 297.17 2202.67 298.62 2203.95C300.08 2205.23 301.54 2206.45 303 2207.61C304.46 2208.78 305.92 2209.89 307.38 2210.93C308.83 2211.97 310.29 2212.95 311.75 2213.86C313.21 2214.76 314.67 2215.61 316.12 2216.37C317.58 2217.13 319.04 2217.81 320.5 2218.41C321.96 2219 323.42 2219.52 324.88 2219.94C326.33 2220.35 327.79 2220.67 329.25 2220.9C330.71 2221.14 332.17 2221.25 333.62 2221.33C335.08 2221.41 336.54 2221.4 338 2221.4C339.46 2221.4 340.92 2221.41 342.38 2221.33C343.83 2221.25 345.29 2221.14 346.75 2220.9C348.21 2220.67 349.67 2220.35 351.12 2219.94C352.58 2219.52 354.04 2219 355.5 2218.41C356.96 2217.81 358.42 2217.13 359.88 2216.37C361.33 2215.61 362.79 2214.76 364.25 2213.86C365.71 2212.95 367.17 2211.97 368.62 2210.93C370.08 2209.89 371.54 2208.78 373 2207.61C374.46 2206.45 375.92 2205.23 377.38 2203.95C378.83 2202.67 380.29 2201.34 381.75 2199.96C383.21 2198.58 384.67 2197.14 386.12 2195.66C387.58 2194.18 389.04 2192.65 390.5 2191.08C391.96 2189.5 393.42 2187.88 394.88 2186.22C396.33 2184.56 397.79 2182.85 399.25 2181.1C400.71 2179.36 402.17 2177.57 403.62 2175.74C405.08 2173.91 406.54 2172.04 408 2170.14C409.46 2168.23 410.92 2166.28 412.38 2164.3C413.83 2162.32 415.29 2160.3 416.75 2158.25C418.21 2156.2 419.67 2154.11 421.12 2151.98C422.58 2149.86 424.77 2146.59 425.5 2145.51" fill="none" stroke="#1d3fae" stroke-width="2.6"/>
<path d="M250.5 2136.24C251.23 2137.48 253.42 2141.26 254.88 2143.7C256.33 2146.14 257.79 2148.54 259.25 2150.9C260.71 2153.25 262.17 2155.56 263.62 2157.83C265.08 2160.09 266.54 2162.31 268 2164.48C269.46 2166.65 270.92 2168.77 272.38 2170.85C273.83 2172.92 275.29 2174.95 276.75 2176.92C278.21 2178.9 279.67 2180.82 281.12 2182.69C282.58 2184.56 284.04 2186.38 285.5 2188.14C286.96 2189.9 288.42 2191.61 289.88 2193.26C291.33 2194.91 292.79 2196.5 294.25 2198.03C295.71 2199.56 297.17 2201.03 298.62 2202.43C300.08 2203.83 301.54 2205.18 303 2206.44C304.46 2207.71 305.92 2208.92 307.38 2210.04C308.83 2211.17 310.29 2212.22 311.75 2213.19C313.21 2214.16 314.67 2215.06 316.12 2215.86C317.58 2216.66 319.04 2217.38 320.5 2218C321.96 2218.61 323.42 2219.14 324.88 2219.56C326.33 2219.99 327.79 2220.3 329.25 2220.53C330.71 2220.76 332.17 2220.86 333.62 2220.94C335.08 2221.02 336.54 2221 338 2221C339.46 2221 340.92 2221.02 342.38 2220.94C343.83 2220.86 345.29 2220.76 346.75 2220.53C348.21 2220.3 349.67 2219.99 351.12 2219.56C352.58 2219.14 354.04 2218.61 355.5 2218C356.96 2217.38 358.42 2216.66 359.88 2215.86C361.33 2215.06 362.79 2214.16 364.25 2213.19C365.71 2212.22 367.17 2211.17 368.62 2210.04C370.08 2208.92 371.54 2207.71 373 2206.44C374.46 2205.18 375.92 2203.83 377.38 2202.43C378.83 2201.03 380.29 2199.56 381.75 2198.03C383.21 2196.5 384.67 2194.91 386.12 2193.26C387.58 2191.61 389.04 2189.9 390.5 2188.14C391.96 2186.38 393.42 2184.56 394.88 2182.69C396.33 2180.82 397.79 2178.9 399.25 2176.92C400.71 2174.95 402.17 2172.92 403.62 2170.85C405.08 2168.77 406.54 2166.65 408 2164.48C409.46 2162.31 410.92 2160.09 412.38 2157.83C413.83 2155.56 415.29 2153.25 416.75 2150.9C418.21 2148.54 419.67 2146.14 421.12 2143.7C422.58 2141.26 424.77 2137.48 425.5 2136.24" fill="none" stroke="#2450c2" stroke-width="2.6"/>
<path d="M250.5 2127.47C251.23 2128.88 253.42 2133.16 254.88 2135.92C256.33 2138.68 257.79 2141.39 259.25 2144.04C260.71 2146.69 262.17 2149.29 263.62 2151.84C265.08 2154.38 266.54 2156.87 268 2159.3C269.46 2161.73 270.92 2164.1 272.38 2166.41C273.83 2168.72 275.29 2170.98 276.75 2173.17C278.21 2175.36 279.67 2177.49 281.12 2179.56C282.58 2181.63 284.04 2183.63 285.5 2185.57C286.96 2187.51 288.42 2189.38 289.88 2191.19C291.33 2192.99 292.79 2194.73 294.25 2196.39C295.71 2198.05 297.17 2199.65 298.62 2201.16C300.08 2202.68 301.54 2204.12 303 2205.48C304.46 2206.84 305.92 2208.12 307.38 2209.32C308.83 2210.51 310.29 2211.63 311.75 2212.65C313.21 2213.67 314.67 2214.6 316.12 2215.43C317.58 2216.26 319.04 2217 320.5 2217.63C321.96 2218.26 323.42 2218.79 324.88 2219.21C326.33 2219.64 327.79 2219.94 329.25 2220.16C330.71 2220.38 332.17 2220.47 333.62 2220.55C335.08 2220.62 336.54 2220.6 338 2220.6C339.46 2220.6 340.92 2220.62 342.38 2220.55C343.83 2220.47 345.29 2220.38 346.75 2220.16C348.21 2219.94 349.67 2219.64 351.12 2219.21C352.58 2218.79 354.04 2218.26 355.5 2217.63C356.96 2217 358.42 2216.26 359.88 2215.43C361.33 2214.6 362.79 2213.67 364.25 2212.65C365.71 2211.63 367.17 2210.51 368.62 2209.32C370.08 2208.12 371.54 2206.84 373 2205.48C374.46 2204.12 375.92 2202.68 377.38 2201.16C378.83 2199.65 380.29 2198.05 381.75 2196.39C383.21 2194.73 384.67 2192.99 386.12 2191.19C387.58 2189.38 389.04 2187.51 390.5 2185.57C391.96 2183.63 393.42 2181.63 394.88 2179.56C396.33 2177.49 397.79 2175.36 399.25 2173.17C400.71 2170.98 402.17 2168.72 403.62 2166.41C405.08 2164.1 406.54 2161.73 408 2159.3C409.46 2156.87 410.92 2154.38 412.38 2151.84C413.83 2149.29 415.29 2146.69 416.75 2144.04C418.21 2141.39 419.67 2138.68 421.12 2135.92C422.58 2133.16 424.77 2128.88 425.5 2127.47" fill="none" stroke="#2a58c8" stroke-width="2.8"/>
<path d="M209.1 2109.8H250.5M425.5 2109.8H466" fill="none" stroke="#2a58c8" stroke-width="3"/>
<path d="M262.6 2210.4H280.6V2157.2H289.6L271.6 2140.2L253.6 2157.2H262.6Z" fill="url(#gtar)"/><text transform="translate(275.9 2186.8) rotate(-90)" font-size="12.5" font-weight="bold" fill="#9a4a10" text-anchor="middle">Time</text>
<path d="M249.5 2081v4.2M249.5 2231.3v-4.2M338 2081v4.2M338 2231.3v-4.2M426.5 2081v4.2M426.5 2231.3v-4.2M205.1 2139.2h4.2M470 2139.2h-4.2M205.1 2166.7h4.2M470 2166.7h-4.2M205.1 2197.1h4.2M470 2197.1h-4.2M205.1 2224.7h4.2M470 2224.7h-4.2" fill="none" stroke="#111" stroke-width="1.8"/><rect x="205.1" y="2081" width="264.9" height="150.3" rx="2" fill="none" stroke="#111" stroke-width="3"/>
<text transform="translate(337.5 2067) scale(0.99 1)" font-size="25.7" font-weight="bold" fill="#2b2b31" text-anchor="middle">F<tspan font-size="16" dy="6">4</tspan><tspan dy="-6">-TCNQ only</tspan></text>
<text x="0" y="0" font-size="26.2" fill="#2b2b31" font-weight="bold" text-anchor="middle" transform="translate(338 2257.2) scale(1 1)">Position</text>
<text transform="translate(185.6 2169) rotate(-90) scale(1 1)" font-size="26.2" font-weight="bold" fill="#2b2b31" text-anchor="middle">Doped fraction</text>
<rect x="589.9" y="2081.3" width="265.3" height="150.6" fill="url(#gp2)"/>
<path d="M589.9 2225.2H659.6V2111.3H785V2225.2H855.2" fill="none" stroke="#111" stroke-width="2.2"/>
<clipPath id="clp2"><rect x="589.9" y="2081.3" width="265.3" height="150.6"/></clipPath><g clip-path="url(#clp2)">
<path d="M589.9 2225.2C590.64 2225.2 592.85 2225.2 594.32 2225.2C595.8 2225.2 597.27 2225.2 598.74 2225.2C600.22 2225.2 601.69 2225.2 603.16 2225.2C604.64 2225.2 606.11 2225.2 607.59 2225.2C609.06 2225.2 610.53 2225.2 612.01 2225.2C613.48 2225.2 614.96 2225.2 616.43 2225.2C617.9 2225.2 619.38 2225.2 620.85 2225.2C622.33 2225.2 623.8 2225.2 625.27 2225.2C626.75 2225.2 628.22 2225.2 629.69 2225.2C631.17 2225.2 632.64 2225.21 634.12 2225.18C635.59 2225.16 637.06 2225.21 638.54 2225.05C640.01 2224.89 641.49 2224.95 642.96 2224.22C644.43 2223.49 645.91 2222.98 647.38 2220.65C648.86 2218.33 650.33 2215.43 651.8 2210.29C653.28 2205.15 654.75 2197.81 656.23 2189.81C657.7 2181.82 659.17 2171.08 660.65 2162.32C662.12 2153.56 663.59 2144.01 665.07 2137.23C666.54 2130.45 668.02 2125.35 669.49 2121.66C670.96 2117.97 672.44 2116.51 673.91 2115.1C675.39 2113.69 676.86 2113.59 678.33 2113.22C679.81 2112.84 681.28 2112.92 682.75 2112.85C684.23 2112.78 685.7 2112.81 687.18 2112.8C688.65 2112.8 690.12 2112.8 691.6 2112.8C693.07 2112.8 694.55 2112.8 696.02 2112.8C697.49 2112.8 698.97 2112.8 700.44 2112.8C701.92 2112.8 703.39 2112.8 704.86 2112.8C706.34 2112.8 707.81 2112.8 709.28 2112.8C710.76 2112.8 712.23 2112.8 713.71 2112.8C715.18 2112.8 716.65 2112.8 718.13 2112.8C719.6 2112.8 721.08 2112.8 722.55 2112.8C724.02 2112.8 725.5 2112.8 726.97 2112.8C728.45 2112.8 729.92 2112.8 731.39 2112.8C732.87 2112.8 734.34 2112.8 735.82 2112.8C737.29 2112.8 738.76 2112.8 740.24 2112.8C741.71 2112.8 743.18 2112.8 744.66 2112.8C746.13 2112.8 747.61 2112.8 749.08 2112.8C750.55 2112.8 752.03 2112.8 753.5 2112.8C754.98 2112.8 756.45 2112.79 757.92 2112.81C759.4 2112.82 760.87 2112.78 762.35 2112.87C763.82 2112.95 765.29 2112.87 766.77 2113.32C768.24 2113.76 769.71 2113.93 771.19 2115.52C772.66 2117.12 774.14 2118.88 775.61 2122.9C777.08 2126.93 778.56 2132.56 780.03 2139.66C781.51 2146.75 782.98 2156.68 784.45 2165.5C785.93 2174.33 787.4 2184.87 788.88 2192.61C790.35 2200.35 791.82 2207.16 793.3 2211.94C794.77 2216.72 796.24 2219.23 797.72 2221.31C799.19 2223.38 800.67 2223.76 802.14 2224.39C803.61 2225.02 805.09 2224.95 806.56 2225.08C808.04 2225.22 809.51 2225.17 810.98 2225.19C812.46 2225.21 813.93 2225.2 815.4 2225.2C816.88 2225.2 818.35 2225.2 819.83 2225.2C821.3 2225.2 822.77 2225.2 824.25 2225.2C825.72 2225.2 827.2 2225.2 828.67 2225.2C830.14 2225.2 831.62 2225.2 833.09 2225.2C834.57 2225.2 836.04 2225.2 837.51 2225.2C838.99 2225.2 840.46 2225.2 841.94 2225.2C843.41 2225.2 844.88 2225.2 846.36 2225.2C847.83 2225.2 849.3 2225.2 850.78 2225.2C852.25 2225.2 854.46 2225.2 855.2 2225.2" fill="none" stroke="#111" stroke-width="1.8"/>
<path d="M589.9 2225.2C590.64 2225.2 592.85 2225.2 594.32 2225.2C595.8 2225.2 597.27 2225.2 598.74 2225.2C600.22 2225.2 601.69 2225.2 603.16 2225.2C604.64 2225.2 606.11 2225.2 607.59 2225.2C609.06 2225.2 610.53 2225.2 612.01 2225.2C613.48 2225.2 614.96 2225.2 616.43 2225.2C617.9 2225.19 619.38 2225.19 620.85 2225.18C622.33 2225.16 623.8 2225.16 625.27 2225.1C626.75 2225.04 628.22 2225.01 629.69 2224.83C631.17 2224.66 632.64 2224.51 634.12 2224.05C635.59 2223.59 637.06 2223.11 638.54 2222.08C640.01 2221.05 641.49 2219.85 642.96 2217.87C644.43 2215.9 645.91 2213.47 647.38 2210.21C648.86 2206.95 650.33 2202.92 651.8 2198.31C653.28 2193.7 654.75 2188.14 656.23 2182.55C657.7 2176.95 659.17 2170.57 660.65 2164.74C662.12 2158.91 663.59 2152.8 665.07 2147.59C666.54 2142.39 668.02 2137.5 669.49 2133.52C670.96 2129.53 672.44 2126.28 673.91 2123.66C675.39 2121.04 676.86 2119.26 678.33 2117.78C679.81 2116.3 681.28 2115.5 682.75 2114.78C684.23 2114.07 685.7 2113.78 687.18 2113.48C688.65 2113.19 690.12 2113.11 691.6 2113C693.07 2112.9 694.55 2112.88 696.02 2112.85C697.49 2112.82 698.97 2112.82 700.44 2112.81C701.92 2112.8 703.39 2112.8 704.86 2112.8C706.34 2112.8 707.81 2112.8 709.28 2112.8C710.76 2112.8 712.23 2112.8 713.71 2112.8C715.18 2112.8 716.65 2112.8 718.13 2112.8C719.6 2112.8 721.08 2112.8 722.55 2112.8C724.02 2112.8 725.5 2112.8 726.97 2112.8C728.45 2112.8 729.92 2112.8 731.39 2112.8C732.87 2112.8 734.34 2112.8 735.82 2112.8C737.29 2112.8 738.76 2112.8 740.24 2112.8C741.71 2112.8 743.18 2112.8 744.66 2112.81C746.13 2112.82 747.61 2112.82 749.08 2112.86C750.55 2112.9 752.03 2112.92 753.5 2113.04C754.98 2113.15 756.45 2113.25 757.92 2113.58C759.4 2113.91 760.87 2114.23 762.35 2115.02C763.82 2115.8 765.29 2116.68 766.77 2118.27C768.24 2119.86 769.71 2121.79 771.19 2124.56C772.66 2127.33 774.14 2130.76 775.61 2134.9C777.08 2139.05 778.56 2144.1 780.03 2149.41C781.51 2154.73 782.98 2160.93 784.45 2166.77C785.93 2172.62 787.4 2178.96 788.88 2184.48C790.35 2189.99 791.82 2195.4 793.3 2199.87C794.77 2204.34 796.24 2208.18 797.72 2211.29C799.19 2214.39 800.67 2216.65 802.14 2218.5C803.61 2220.35 805.09 2221.45 806.56 2222.39C808.04 2223.34 809.51 2223.76 810.98 2224.18C812.46 2224.59 813.93 2224.72 815.4 2224.88C816.88 2225.03 818.35 2225.06 819.83 2225.11C821.3 2225.16 822.77 2225.17 824.25 2225.18C825.72 2225.19 827.2 2225.19 828.67 2225.2C830.14 2225.2 831.62 2225.2 833.09 2225.2C834.57 2225.2 836.04 2225.2 837.51 2225.2C838.99 2225.2 840.46 2225.2 841.94 2225.2C843.41 2225.2 844.88 2225.2 846.36 2225.2C847.83 2225.2 849.3 2225.2 850.78 2225.2C852.25 2225.2 854.46 2225.2 855.2 2225.2" fill="none" stroke="#2a0c08" stroke-width="1.8"/>
<path d="M589.9 2225.2C590.64 2225.2 592.85 2225.2 594.32 2225.2C595.8 2225.2 597.27 2225.2 598.74 2225.2C600.22 2225.2 601.69 2225.19 603.16 2225.19C604.64 2225.19 606.11 2225.18 607.59 2225.17C609.06 2225.16 610.53 2225.15 612.01 2225.12C613.48 2225.08 614.96 2225.05 616.43 2224.98C617.9 2224.9 619.38 2224.82 620.85 2224.65C622.33 2224.48 623.8 2224.3 625.27 2223.96C626.75 2223.62 628.22 2223.23 629.69 2222.6C631.17 2221.97 632.64 2221.25 634.12 2220.18C635.59 2219.11 637.06 2217.86 638.54 2216.19C640.01 2214.53 641.49 2212.57 642.96 2210.18C644.43 2207.79 645.91 2205.01 647.38 2201.86C648.86 2198.71 650.33 2195.11 651.8 2191.3C653.28 2187.49 654.75 2183.24 656.23 2179C657.7 2174.77 659.17 2170.21 660.65 2165.87C662.12 2161.54 663.59 2157.08 665.07 2153.01C666.54 2148.94 668.02 2144.96 669.49 2141.44C670.96 2137.93 672.44 2134.7 673.91 2131.91C675.39 2129.12 676.86 2126.73 678.33 2124.7C679.81 2122.66 681.28 2121.06 682.75 2119.69C684.23 2118.33 685.7 2117.35 687.18 2116.51C688.65 2115.67 690.12 2115.13 691.6 2114.65C693.07 2114.17 694.55 2113.9 696.02 2113.65C697.49 2113.41 698.97 2113.28 700.44 2113.16C701.92 2113.05 703.39 2113 704.86 2112.94C706.34 2112.89 707.81 2112.87 709.28 2112.85C710.76 2112.83 712.23 2112.83 713.71 2112.82C715.18 2112.81 716.65 2112.81 718.13 2112.81C719.6 2112.8 721.08 2112.8 722.55 2112.8C724.02 2112.8 725.5 2112.8 726.97 2112.81C728.45 2112.81 729.92 2112.81 731.39 2112.82C732.87 2112.83 734.34 2112.84 735.82 2112.86C737.29 2112.88 738.76 2112.9 740.24 2112.96C741.71 2113.02 743.18 2113.07 744.66 2113.2C746.13 2113.33 747.61 2113.47 749.08 2113.73C750.55 2114 752.03 2114.3 753.5 2114.81C754.98 2115.32 756.45 2115.9 757.92 2116.79C759.4 2117.69 760.87 2118.73 762.35 2120.16C763.82 2121.59 765.29 2123.28 766.77 2125.4C768.24 2127.52 769.71 2130 771.19 2132.87C772.66 2135.75 774.14 2139.07 775.61 2142.66C777.08 2146.25 778.56 2150.3 780.03 2154.41C781.51 2158.53 782.98 2163.03 784.45 2167.37C785.93 2171.71 787.4 2176.25 788.88 2180.46C790.35 2184.66 791.82 2188.85 793.3 2192.59C794.77 2196.34 796.24 2199.85 797.72 2202.92C799.19 2205.98 800.67 2208.67 802.14 2210.97C803.61 2213.28 805.09 2215.15 806.56 2216.74C808.04 2218.33 809.51 2219.51 810.98 2220.52C812.46 2221.53 813.93 2222.21 815.4 2222.8C816.88 2223.39 818.35 2223.75 819.83 2224.06C821.3 2224.38 822.77 2224.54 824.25 2224.7C825.72 2224.86 827.2 2224.93 828.67 2225C830.14 2225.07 831.62 2225.1 833.09 2225.12C834.57 2225.15 836.04 2225.16 837.51 2225.17C838.99 2225.19 840.46 2225.19 841.94 2225.19C843.41 2225.2 844.88 2225.2 846.36 2225.2C847.83 2225.2 849.3 2225.2 850.78 2225.2C852.25 2225.2 854.46 2225.2 855.2 2225.2" fill="none" stroke="#7a1408" stroke-width="2"/>
<path d="M589.9 2225.19C590.64 2225.18 592.85 2225.18 594.32 2225.17C595.8 2225.16 597.27 2225.15 598.74 2225.12C600.22 2225.1 601.69 2225.08 603.16 2225.03C604.64 2224.99 606.11 2224.94 607.59 2224.85C609.06 2224.77 610.53 2224.67 612.01 2224.51C613.48 2224.35 614.96 2224.18 616.43 2223.9C617.9 2223.63 619.38 2223.32 620.85 2222.87C622.33 2222.43 623.8 2221.91 625.27 2221.22C626.75 2220.53 628.22 2219.73 629.69 2218.71C631.17 2217.69 632.64 2216.52 634.12 2215.09C635.59 2213.67 637.06 2212.04 638.54 2210.16C640.01 2208.27 641.49 2206.15 642.96 2203.78C644.43 2201.41 645.91 2198.78 647.38 2195.97C648.86 2193.15 650.33 2190.07 651.8 2186.9C653.28 2183.72 654.75 2180.32 656.23 2176.92C657.7 2173.53 659.17 2169.97 660.65 2166.53C662.12 2163.09 663.59 2159.58 665.07 2156.27C666.54 2152.96 668.02 2149.69 669.49 2146.67C670.96 2143.65 672.44 2140.77 673.91 2138.16C675.39 2135.55 676.86 2133.16 678.33 2131.02C679.81 2128.88 681.28 2126.99 682.75 2125.33C684.23 2123.67 685.7 2122.27 687.18 2121.04C688.65 2119.82 690.12 2118.84 691.6 2117.98C693.07 2117.12 694.55 2116.47 696.02 2115.91C697.49 2115.34 698.97 2114.93 700.44 2114.58C701.92 2114.22 703.39 2113.98 704.86 2113.77C706.34 2113.56 707.81 2113.42 709.28 2113.31C710.76 2113.19 712.23 2113.12 713.71 2113.06C715.18 2113 716.65 2112.97 718.13 2112.94C719.6 2112.92 721.08 2112.91 722.55 2112.91C724.02 2112.91 725.5 2112.92 726.97 2112.95C728.45 2112.98 729.92 2113.01 731.39 2113.08C732.87 2113.14 734.34 2113.22 735.82 2113.34C737.29 2113.47 738.76 2113.61 740.24 2113.84C741.71 2114.06 743.18 2114.32 744.66 2114.7C746.13 2115.07 747.61 2115.5 749.08 2116.1C750.55 2116.69 752.03 2117.38 753.5 2118.27C754.98 2119.17 756.45 2120.19 757.92 2121.46C759.4 2122.73 760.87 2124.19 762.35 2125.9C763.82 2127.62 765.29 2129.56 766.77 2131.75C768.24 2133.95 769.71 2136.4 771.19 2139.06C772.66 2141.72 774.14 2144.65 775.61 2147.71C777.08 2150.77 778.56 2154.07 780.03 2157.41C781.51 2160.74 782.98 2164.26 784.45 2167.71C785.93 2171.16 787.4 2174.7 788.88 2178.08C790.35 2181.46 791.82 2184.84 793.3 2187.98C794.77 2191.12 796.24 2194.15 797.72 2196.92C799.19 2199.68 800.67 2202.26 802.14 2204.57C803.61 2206.89 805.09 2208.96 806.56 2210.79C808.04 2212.62 809.51 2214.19 810.98 2215.56C812.46 2216.94 813.93 2218.06 815.4 2219.04C816.88 2220.02 818.35 2220.78 819.83 2221.45C821.3 2222.11 822.77 2222.59 824.25 2223.02C825.72 2223.44 827.2 2223.73 828.67 2223.99C830.14 2224.25 831.62 2224.41 833.09 2224.56C834.57 2224.71 836.04 2224.8 837.51 2224.88C838.99 2224.96 840.46 2225 841.94 2225.05C843.41 2225.09 844.88 2225.11 846.36 2225.13C847.83 2225.15 849.3 2225.16 850.78 2225.17C852.25 2225.18 854.46 2225.18 855.2 2225.19" fill="none" stroke="#d8200c" stroke-width="2.4"/>
<path d="M589.9 2225.06C590.64 2225.04 592.85 2225 594.32 2224.95C595.8 2224.89 597.27 2224.83 598.74 2224.74C600.22 2224.65 601.69 2224.55 603.16 2224.41C604.64 2224.26 606.11 2224.09 607.59 2223.87C609.06 2223.64 610.53 2223.38 612.01 2223.03C613.48 2222.69 614.96 2222.3 616.43 2221.8C617.9 2221.3 619.38 2220.73 620.85 2220.03C622.33 2219.32 623.8 2218.53 625.27 2217.58C626.75 2216.63 628.22 2215.56 629.69 2214.32C631.17 2213.08 632.64 2211.7 634.12 2210.15C635.59 2208.59 637.06 2206.87 638.54 2204.98C640.01 2203.09 641.49 2201.03 642.96 2198.82C644.43 2196.62 645.91 2194.23 647.38 2191.75C648.86 2189.26 650.33 2186.61 651.8 2183.91C653.28 2181.22 654.75 2178.38 656.23 2175.56C657.7 2172.73 659.17 2169.81 660.65 2166.96C662.12 2164.11 663.59 2161.22 665.07 2158.44C666.54 2155.66 668.02 2152.9 669.49 2150.3C670.96 2147.69 672.44 2145.16 673.91 2142.8C675.39 2140.44 676.86 2138.2 678.33 2136.14C679.81 2134.09 681.28 2132.18 682.75 2130.45C684.23 2128.72 685.7 2127.16 687.18 2125.76C688.65 2124.35 690.12 2123.13 691.6 2122.03C693.07 2120.93 694.55 2120 696.02 2119.17C697.49 2118.35 698.97 2117.67 700.44 2117.07C701.92 2116.47 703.39 2116 704.86 2115.59C706.34 2115.17 707.81 2114.86 709.28 2114.58C710.76 2114.31 712.23 2114.12 713.71 2113.96C715.18 2113.8 716.65 2113.69 718.13 2113.62C719.6 2113.55 721.08 2113.52 722.55 2113.52C724.02 2113.52 725.5 2113.56 726.97 2113.64C728.45 2113.73 729.92 2113.84 731.39 2114.01C732.87 2114.18 734.34 2114.39 735.82 2114.68C737.29 2114.96 738.76 2115.29 740.24 2115.73C741.71 2116.16 743.18 2116.65 744.66 2117.28C746.13 2117.9 747.61 2118.6 749.08 2119.46C750.55 2120.31 752.03 2121.27 753.5 2122.4C754.98 2123.53 756.45 2124.8 757.92 2126.24C759.4 2127.68 760.87 2129.28 762.35 2131.04C763.82 2132.81 765.29 2134.76 766.77 2136.85C768.24 2138.94 769.71 2141.22 771.19 2143.61C772.66 2146 774.14 2148.56 775.61 2151.19C777.08 2153.82 778.56 2156.6 780.03 2159.39C781.51 2162.18 782.98 2165.08 784.45 2167.93C785.93 2170.79 787.4 2173.7 788.88 2176.52C790.35 2179.34 791.82 2182.15 793.3 2184.83C794.77 2187.51 796.24 2190.13 797.72 2192.59C799.19 2195.04 800.67 2197.39 802.14 2199.57C803.61 2201.74 805.09 2203.76 806.56 2205.61C808.04 2207.46 809.51 2209.15 810.98 2210.67C812.46 2212.19 813.93 2213.53 815.4 2214.74C816.88 2215.94 818.35 2216.98 819.83 2217.9C821.3 2218.82 822.77 2219.58 824.25 2220.26C825.72 2220.94 827.2 2221.48 828.67 2221.96C830.14 2222.44 831.62 2222.82 833.09 2223.15C834.57 2223.48 836.04 2223.72 837.51 2223.94C838.99 2224.16 840.46 2224.31 841.94 2224.45C843.41 2224.59 844.88 2224.69 846.36 2224.77C847.83 2224.86 849.3 2224.91 850.78 2224.96C852.25 2225.01 854.46 2225.05 855.2 2225.07" fill="none" stroke="#f4260e" stroke-width="2.6"/>
<path d="M589.9 2224.65C590.64 2224.59 592.85 2224.46 594.32 2224.32C595.8 2224.19 597.27 2224.04 598.74 2223.84C600.22 2223.64 601.69 2223.42 603.16 2223.14C604.64 2222.86 606.11 2222.55 607.59 2222.16C609.06 2221.78 610.53 2221.34 612.01 2220.82C613.48 2220.3 614.96 2219.71 616.43 2219.03C617.9 2218.34 619.38 2217.58 620.85 2216.7C622.33 2215.82 623.8 2214.85 625.27 2213.76C626.75 2212.66 628.22 2211.46 629.69 2210.14C631.17 2208.81 632.64 2207.36 634.12 2205.8C635.59 2204.23 637.06 2202.54 638.54 2200.73C640.01 2198.93 641.49 2197 642.96 2194.98C644.43 2192.96 645.91 2190.82 647.38 2188.62C648.86 2186.42 650.33 2184.11 651.8 2181.77C653.28 2179.43 654.75 2177.01 656.23 2174.59C657.7 2172.17 659.17 2169.7 660.65 2167.26C662.12 2164.83 663.59 2162.37 665.07 2159.98C666.54 2157.59 668.02 2155.22 669.49 2152.94C670.96 2150.66 672.44 2148.42 673.91 2146.3C675.39 2144.18 676.86 2142.14 678.33 2140.22C679.81 2138.3 681.28 2136.48 682.75 2134.79C684.23 2133.1 685.7 2131.52 687.18 2130.07C688.65 2128.62 690.12 2127.3 691.6 2126.09C693.07 2124.88 694.55 2123.8 696.02 2122.82C697.49 2121.85 698.97 2120.99 700.44 2120.22C701.92 2119.46 703.39 2118.81 704.86 2118.23C706.34 2117.66 707.81 2117.18 709.28 2116.78C710.76 2116.37 712.23 2116.05 713.71 2115.8C715.18 2115.54 716.65 2115.36 718.13 2115.24C719.6 2115.12 721.08 2115.07 722.55 2115.07C724.02 2115.08 725.5 2115.15 726.97 2115.28C728.45 2115.42 729.92 2115.61 731.39 2115.89C732.87 2116.16 734.34 2116.49 735.82 2116.92C737.29 2117.34 738.76 2117.83 740.24 2118.43C741.71 2119.02 743.18 2119.7 744.66 2120.49C746.13 2121.27 747.61 2122.16 749.08 2123.16C750.55 2124.16 752.03 2125.27 753.5 2126.51C754.98 2127.74 756.45 2129.09 757.92 2130.57C759.4 2132.05 760.87 2133.65 762.35 2135.37C763.82 2137.09 765.29 2138.93 766.77 2140.87C768.24 2142.82 769.71 2144.89 771.19 2147.03C772.66 2149.17 774.14 2151.42 775.61 2153.71C777.08 2156.01 778.56 2158.4 780.03 2160.8C781.51 2163.19 782.98 2165.66 784.45 2168.09C785.93 2170.53 787.4 2173 788.88 2175.41C790.35 2177.83 791.82 2180.24 793.3 2182.57C794.77 2184.89 796.24 2187.18 797.72 2189.37C799.19 2191.55 800.67 2193.67 802.14 2195.66C803.61 2197.66 805.09 2199.56 806.56 2201.34C808.04 2203.12 809.51 2204.78 810.98 2206.32C812.46 2207.86 813.93 2209.28 815.4 2210.58C816.88 2211.88 818.35 2213.06 819.83 2214.12C821.3 2215.19 822.77 2216.14 824.25 2216.99C825.72 2217.85 827.2 2218.59 828.67 2219.25C830.14 2219.92 831.62 2220.49 833.09 2220.99C834.57 2221.5 836.04 2221.92 837.51 2222.29C838.99 2222.66 840.46 2222.97 841.94 2223.23C843.41 2223.5 844.88 2223.72 846.36 2223.9C847.83 2224.09 849.3 2224.24 850.78 2224.37C852.25 2224.49 854.46 2224.62 855.2 2224.68" fill="none" stroke="#ff2a10" stroke-width="3"/>
<path d="M589.9 2224.07C590.64 2223.98 592.85 2223.75 594.32 2223.54C595.8 2223.33 597.27 2223.1 598.74 2222.81C600.22 2222.53 601.69 2222.21 603.16 2221.83C604.64 2221.45 606.11 2221.03 607.59 2220.54C609.06 2220.04 610.53 2219.5 612.01 2218.87C613.48 2218.24 614.96 2217.55 616.43 2216.76C617.9 2215.98 619.38 2215.12 620.85 2214.16C622.33 2213.2 623.8 2212.15 625.27 2211.01C626.75 2209.86 628.22 2208.62 629.69 2207.28C631.17 2205.94 632.64 2204.5 634.12 2202.97C635.59 2201.43 637.06 2199.79 638.54 2198.08C640.01 2196.36 641.49 2194.54 642.96 2192.65C644.43 2190.77 645.91 2188.79 647.38 2186.77C648.86 2184.75 650.33 2182.65 651.8 2180.52C653.28 2178.4 654.75 2176.22 656.23 2174.04C657.7 2171.85 659.17 2169.63 660.65 2167.44C662.12 2165.24 663.59 2163.03 665.07 2160.88C666.54 2158.72 668.02 2156.57 669.49 2154.49C670.96 2152.41 672.44 2150.36 673.91 2148.4C675.39 2146.45 676.86 2144.54 678.33 2142.74C679.81 2140.93 681.28 2139.2 682.75 2137.58C684.23 2135.95 685.7 2134.41 687.18 2132.98C688.65 2131.55 690.12 2130.22 691.6 2128.99C693.07 2127.76 694.55 2126.63 696.02 2125.6C697.49 2124.57 698.97 2123.65 700.44 2122.82C701.92 2121.98 703.39 2121.25 704.86 2120.61C706.34 2119.96 707.81 2119.41 709.28 2118.94C710.76 2118.47 712.23 2118.09 713.71 2117.79C715.18 2117.49 716.65 2117.27 718.13 2117.12C719.6 2116.97 721.08 2116.91 722.55 2116.92C724.02 2116.93 725.5 2117.01 726.97 2117.17C728.45 2117.34 729.92 2117.57 731.39 2117.89C732.87 2118.22 734.34 2118.62 735.82 2119.1C737.29 2119.59 738.76 2120.16 740.24 2120.83C741.71 2121.49 743.18 2122.25 744.66 2123.1C746.13 2123.95 747.61 2124.9 749.08 2125.95C750.55 2127 752.03 2128.15 753.5 2129.41C754.98 2130.66 756.45 2132.02 757.92 2133.47C759.4 2134.93 760.87 2136.49 762.35 2138.13C763.82 2139.78 765.29 2141.53 766.77 2143.36C768.24 2145.18 769.71 2147.1 771.19 2149.07C772.66 2151.05 774.14 2153.11 775.61 2155.2C777.08 2157.29 778.56 2159.45 780.03 2161.61C781.51 2163.78 782.98 2165.99 784.45 2168.18C785.93 2170.38 787.4 2172.6 788.88 2174.78C790.35 2176.95 791.82 2179.13 793.3 2181.25C794.77 2183.36 796.24 2185.45 797.72 2187.46C799.19 2189.46 800.67 2191.42 802.14 2193.29C803.61 2195.16 805.09 2196.96 806.56 2198.66C808.04 2200.35 809.51 2201.97 810.98 2203.48C812.46 2205 813.93 2206.41 815.4 2207.73C816.88 2209.05 818.35 2210.27 819.83 2211.39C821.3 2212.52 822.77 2213.54 824.25 2214.48C825.72 2215.42 827.2 2216.26 828.67 2217.02C830.14 2217.79 831.62 2218.47 833.09 2219.08C834.57 2219.69 836.04 2220.22 837.51 2220.7C838.99 2221.18 840.46 2221.59 841.94 2221.96C843.41 2222.32 844.88 2222.63 846.36 2222.91C847.83 2223.18 849.3 2223.41 850.78 2223.61C852.25 2223.81 854.46 2224.03 855.2 2224.12" fill="none" stroke="#ff2e12" stroke-width="3.2"/>
</g>
<path d="M606 2204.7H626V2151.5H634L616 2134.5L598 2151.5H606Z" fill="url(#gtar)"/><text transform="translate(620.3 2181.1) rotate(-90)" font-size="12.5" font-weight="bold" fill="#9a4a10" text-anchor="middle">Time</text>
<path d="M633 2081.3v4.2M633 2231.9v-4.2M722.3 2081.3v4.2M722.3 2231.9v-4.2M811.5 2081.3v4.2M811.5 2231.9v-4.2M589.9 2111.3h4.2M855.2 2111.3h-4.2M589.9 2139.8h4.2M855.2 2139.8h-4.2M589.9 2168.6h4.2M855.2 2168.6h-4.2M589.9 2197.1h4.2M855.2 2197.1h-4.2M589.9 2225.2h4.2M855.2 2225.2h-4.2" fill="none" stroke="#111" stroke-width="1.8"/><rect x="589.9" y="2081.3" width="265.3" height="150.6" rx="2" fill="none" stroke="#111" stroke-width="3"/>
<text transform="translate(723 2067) scale(0.99 1)" font-size="25.7" font-weight="bold" fill="#2b2b31" text-anchor="middle">TCNQ only</text>
<text x="0" y="0" font-size="26.2" fill="#2b2b31" font-weight="bold" text-anchor="middle" transform="translate(723.2 2257.8) scale(1 1)">Position</text>
<text transform="translate(571.8 2169.5) rotate(-90) scale(1 1)" font-size="26.2" font-weight="bold" fill="#2b2b31" text-anchor="middle">TCNQ profile</text>
<rect x="976.7" y="2080.2" width="265.6" height="150.8" fill="url(#gp3)"/>
<path d="M1021.03 2112.47C1022.06 2115.22 1024.47 2122.44 1027.22 2128.97C1029.97 2135.5 1034.09 2144.09 1037.53 2151.65C1040.96 2159.21 1044.05 2167.46 1047.84 2174.33C1051.62 2181.2 1055.4 2187.56 1060.21 2192.89C1065.02 2198.21 1070.86 2202.68 1076.7 2206.29C1082.54 2209.9 1089.76 2212.71 1095.26 2214.54C1100.76 2216.36 1104.88 2217.22 1109.69 2217.22C1114.5 2217.22 1118.63 2216.36 1124.12 2214.54C1129.62 2212.71 1136.84 2209.9 1142.68 2206.29C1148.52 2202.68 1154.36 2198.21 1159.18 2192.89C1163.99 2187.56 1167.77 2181.2 1171.55 2174.33C1175.33 2167.46 1178.42 2159.21 1181.86 2151.65C1185.29 2144.09 1189.42 2135.5 1192.16 2128.97C1194.91 2122.44 1197.32 2115.22 1198.35 2112.47" fill="none" stroke="#2450c2" stroke-width="2.6" stroke-dasharray="10 8"/>
<path d="M981.86 2222.78C983.57 2222.44 988.73 2221.92 992.16 2220.72C995.6 2219.52 998.69 2218.14 1002.47 2215.57C1006.25 2212.99 1010.38 2209.55 1014.85 2205.26C1019.31 2200.96 1024.47 2194.95 1029.28 2189.79C1034.09 2184.64 1041.31 2176.91 1043.71 2174.33M1190.1 2189.79C1192.51 2192.37 1200.07 2200.96 1204.54 2205.26C1209 2209.55 1213.13 2212.99 1216.91 2215.57C1220.69 2218.14 1223.78 2219.52 1227.22 2220.72C1230.65 2221.92 1235.81 2222.44 1237.53 2222.78" fill="none" stroke="#ff3018" stroke-width="2.6" stroke-dasharray="10 8"/>
<path d="M976.7 2108.97C981 2108.97 995.09 2108.93 1002.47 2108.97C1009.86 2109 1016.74 2108.25 1021.03 2109.18C1025.33 2110.1 1026.01 2111.92 1028.25 2114.54C1030.48 2117.15 1032.54 2120.72 1034.43 2124.85C1036.32 2128.97 1038.04 2133.78 1039.59 2139.28C1041.13 2144.78 1042.51 2151.31 1043.71 2157.84C1044.91 2164.36 1045.43 2172.27 1046.8 2178.45C1048.18 2184.64 1049.38 2190.14 1051.96 2194.95C1054.54 2199.76 1058.14 2203.88 1062.27 2207.32C1066.39 2210.76 1071.55 2213.23 1076.7 2215.57C1081.86 2217.9 1087.7 2220.03 1093.2 2221.34C1098.69 2222.65 1104.19 2223.4 1109.69 2223.4C1115.19 2223.4 1120.69 2222.65 1126.19 2221.34C1131.68 2220.03 1137.53 2217.9 1142.68 2215.57C1147.84 2213.23 1152.99 2210.76 1157.11 2207.32C1161.24 2203.88 1164.85 2199.76 1167.42 2194.95C1170 2190.14 1171.2 2184.64 1172.58 2178.45C1173.95 2172.27 1174.47 2164.36 1175.67 2157.84C1176.87 2151.31 1178.25 2144.78 1179.79 2139.28C1181.34 2133.78 1183.06 2128.97 1184.95 2124.85C1186.84 2120.72 1188.9 2117.15 1191.13 2114.54C1193.37 2111.92 1194.05 2110.1 1198.35 2109.18C1202.65 2108.25 1209.52 2109 1216.91 2108.97C1224.3 2108.93 1238.38 2108.97 1242.68 2108.97" fill="none" stroke="#2450c2" stroke-width="2.7"/>
<path d="M976.7 2223.81C981.68 2223.81 1000.24 2224.33 1006.6 2223.81C1012.96 2223.3 1012.1 2222.61 1014.85 2220.72C1017.59 2218.83 1019.66 2217.46 1023.09 2212.47C1026.53 2207.49 1031.68 2197.53 1035.46 2190.82C1039.24 2184.12 1041.65 2179.48 1045.77 2172.27C1049.9 2165.05 1055.05 2154.91 1060.21 2147.53C1065.36 2140.14 1071.2 2133.02 1076.7 2127.94C1082.2 2122.85 1087.7 2119.48 1093.2 2117.01C1098.69 2114.54 1104.19 2113.09 1109.69 2113.09C1115.19 2113.09 1120.69 2114.54 1126.19 2117.01C1131.68 2119.48 1137.18 2122.85 1142.68 2127.94C1148.18 2133.02 1154.02 2140.14 1159.18 2147.53C1164.33 2154.91 1169.48 2165.05 1173.61 2172.27C1177.73 2179.48 1180.14 2184.12 1183.92 2190.82C1187.7 2197.53 1192.85 2207.49 1196.29 2212.47C1199.73 2217.46 1201.79 2218.83 1204.54 2220.72C1207.29 2222.61 1206.43 2223.3 1212.78 2223.81C1219.14 2224.33 1237.7 2223.81 1242.68 2223.81" fill="none" stroke="#ff3018" stroke-width="2.7"/>
<path d="M1023.5 2138.3H996" stroke="#2450c2" stroke-width="3.4" fill="none"/><path d="M986.5 2138.3L998.5 2132V2144.6Z" fill="#2450c2"/>
<path d="M1197.5 2189.2H1224" stroke="#ff3018" stroke-width="3" fill="none"/><path d="M1234.8 2189.2L1222.5 2183V2195.4Z" fill="#ff3018"/>
<path d="M979.5 2222.8L989 2219.3V2226.3Z" fill="#ff3018"/><path d="M1236.5 2222.8L1227 2219.3V2226.3Z" fill="#ff3018"/>
<path d="M1021 2080.2v4.2M1021 2231v-4.2M1109.7 2080.2v4.2M1109.7 2231v-4.2M1198.5 2080.2v4.2M1198.5 2231v-4.2M976.7 2109h4.2M1242.3 2109h-4.2M976.7 2138.3h4.2M1242.3 2138.3h-4.2M976.7 2167h4.2M1242.3 2167h-4.2M976.7 2196h4.2M1242.3 2196h-4.2M976.7 2224.5h4.2M1242.3 2224.5h-4.2" fill="none" stroke="#111" stroke-width="1.8"/><rect x="976.7" y="2080.2" width="265.6" height="150.8" rx="2" fill="none" stroke="#111" stroke-width="3"/>
<text transform="translate(1107.8 2067) scale(0.99 1)" font-size="25.7" font-weight="bold" fill="#2b2b31" text-anchor="middle">F<tspan font-size="16" dy="6">4</tspan><tspan dy="-6">TCNQ + TCNQ</tspan></text>
<text x="0" y="0" font-size="26.2" fill="#2b2b31" font-weight="bold" text-anchor="middle" transform="translate(1110.7 2257.6) scale(1 1)">Position</text>
<text transform="translate(957.6 2169) rotate(-90) scale(1 1)" font-size="26.2" font-weight="bold" fill="#2b2b31" text-anchor="middle">Doped fraction</text>
<text transform="translate(1279.3 2168.5) rotate(-90) scale(1 1)" font-size="26.2" font-weight="bold" fill="#2b2b31" text-anchor="middle">TCNQ profile</text>
</g>
</g>
<g font-size="33" fill="#111"><text x="2.6" y="74.2">(a)</text><text x="2.6" y="811.4">(b)</text><text x="724.4" y="811.9">(c)</text><text x="1396" y="811.2">(d)</text><text x="7" y="1398.8">(e)</text></g>
</svg>
</body></html>
